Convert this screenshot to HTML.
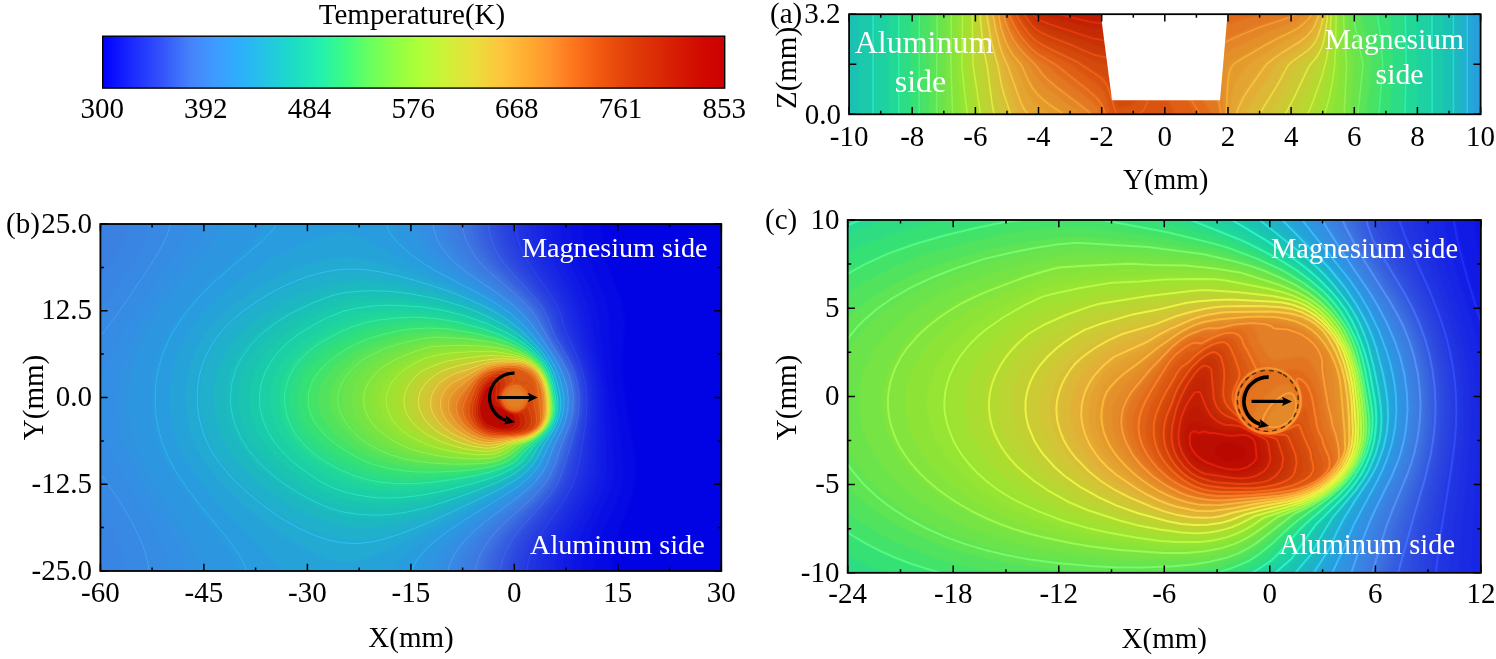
<!DOCTYPE html>
<html><head><meta charset="utf-8"><title>Temperature field</title>
<style>html,body{margin:0;padding:0;background:#fff}svg{display:block}svg text{font-family:"Liberation Serif",serif}</style></head>
<body>
<svg width="1496" height="659" viewBox="0 0 1496 659">
<defs><filter id="bl" x="-5%" y="-5%" width="110%" height="110%" color-interpolation-filters="sRGB"><feGaussianBlur stdDeviation="1.1"/></filter>
<linearGradient id="cb" x1="0" x2="1" y1="0" y2="0"><stop offset="0.0000" stop-color="#0000ff"/><stop offset="0.0435" stop-color="#1928ff"/><stop offset="0.0918" stop-color="#3250fa"/><stop offset="0.1401" stop-color="#4682fa"/><stop offset="0.1804" stop-color="#3e9bff"/><stop offset="0.2206" stop-color="#2daffa"/><stop offset="0.2528" stop-color="#26c0eb"/><stop offset="0.3011" stop-color="#1cdac8"/><stop offset="0.3494" stop-color="#23f0af"/><stop offset="0.3897" stop-color="#3cfc82"/><stop offset="0.4300" stop-color="#69ff5f"/><stop offset="0.4783" stop-color="#96ff41"/><stop offset="0.5105" stop-color="#afff37"/><stop offset="0.5507" stop-color="#cdf237"/><stop offset="0.5990" stop-color="#ebde3c"/><stop offset="0.6441" stop-color="#ffc33c"/><stop offset="0.6876" stop-color="#ffaa30"/><stop offset="0.7198" stop-color="#ff942d"/><stop offset="0.7601" stop-color="#fd731c"/><stop offset="0.8003" stop-color="#f0580f"/><stop offset="0.8486" stop-color="#e13e08"/><stop offset="0.8969" stop-color="#da2805"/><stop offset="0.9614" stop-color="#d00a00"/><stop offset="1.0000" stop-color="#cd0000"/></linearGradient></defs>
<rect width="1496" height="659" fill="#fff"/>
<rect x="102.7" y="36.2" width="622" height="51.9" fill="url(#cb)" stroke="#000" stroke-width="1.4"/>
<text x="412" y="24.4" text-anchor="middle" font-size="29" fill="#000">Temperature(K)</text>
<text x="102.2" y="118.2" text-anchor="middle" font-size="29" fill="#000">300</text>
<text x="205.867" y="118.2" text-anchor="middle" font-size="29" fill="#000">392</text>
<text x="309.533" y="118.2" text-anchor="middle" font-size="29" fill="#000">484</text>
<text x="413.2" y="118.2" text-anchor="middle" font-size="29" fill="#000">576</text>
<text x="516.867" y="118.2" text-anchor="middle" font-size="29" fill="#000">668</text>
<text x="620.533" y="118.2" text-anchor="middle" font-size="29" fill="#000">761</text>
<text x="724.2" y="118.2" text-anchor="middle" font-size="29" fill="#000">853</text>
<clipPath id="bc"><rect x="100.4" y="224" width="620.9" height="347"/></clipPath>
<g clip-path="url(#bc)">
<g filter="url(#bl)">
<rect x="94.4" y="218" width="632.9" height="359" fill="#0203e4"/>
<path fill="#0509e4" d="M94.4,218 600.6,218 600.9,228 601.6,237 602.7,245 604.4,253.2 606.5,261 609.2,269 618,291 620.5,298 622.7,306 624,313 624.6,319 624.7,326 622.8,359 622.9,370 623.5,382 624.5,393 626.3,406 633.8,448 634.9,458 635.4,466 635.2,478 633.4,490 630.1,502 620.3,528 615.7,543 613.9,551 612.6,559 611.7,568 611.3,577 94.4,577Z"/>
<path fill="#090ee4" d="M94.4,218 582.7,218 583.1,228 583.9,236 585.3,244 587.2,252 592.3,267 604.7,297 607.1,305 608.6,312 609.7,322 610.1,346 611.1,360 616.4,409.1 621.9,451 623,466 622.6,478 621.8,484 620.4,490 616.7,501 605.1,527 602,535 599.4,542.7 597.1,551 595.4,559.5 594.3,568 593.6,577 94.4,577Z"/>
<path fill="#0c14e4" d="M94.4,218 569.8,218 570.3,227 571.1,235 572.4,242.2 574.4,250.1 579.4,264.2 593.2,296 596.2,305 598,313 599.1,321 601.7,347 606.1,375 608,390 613.1,450 613.9,462 613.9,469 613.5,476 612.7,482 611,489 607,500 593.4,527.9 587.4,543 584.6,552 582.8,560 581.6,568 580.8,577 94.4,577Z"/>
<path fill="#101ae4" d="M94.4,218 559.4,218 560,227 560.9,235 562.4,242.6 564.5,250 569.8,264 580.7,287 584.2,295 587.7,305 590.2,315 595,344 601.1,374 603.1,388 604.6,406 606.6,456 606.7,465 606.3,473 605.3,480 603.6,487 601.6,493 599.1,499 584.2,528 580.5,536 577.3,544 574.7,552 572.7,560 571.3,568 570.5,577 94.4,577Z"/>
<path fill="#141fe4" d="M94.4,218 550.6,218 551.3,228 552.4,236 554.2,244 556.3,251 561.7,264 576.6,294 579.8,302 582.9,312 589.4,341.6 595.2,365 597.5,376 599.7,391 600.6,406 600.8,461 600.1,472 598.5,481 596.2,489 592.9,497 588.9,505 575.4,529.8 571.5,538 568.6,545 565.8,553 563.8,561 562.4,569 561.7,577 94.4,577Z"/>
<path fill="#1725e4" d="M94.4,218 542.8,218 543.4,227 544.5,235 546.3,243 548.5,250 551.3,257 554.5,264 567,287 571,295 574.7,304 577.9,314 584.6,340 591.7,365 593.8,374 596.2,388 597.3,403 597.3,417 595.8,460 594.8,471 593.1,480 590.6,488 586.8,497 582,506 568.3,530 564.2,538 561.1,545 558.2,553 556,561 554.6,569 553.9,577 94.4,577Z"/>
<path fill="#1a2ae3" d="M94.4,218 535.7,218 536.5,228 537.7,236 539.4,243.2 542,251 545.1,258 548.6,265 565.2,294 568.9,302 571.5,309 590,370 591.8,378 593,385 594,393 594.4,401 594.2,417 591.6,458 590.3,470 588.1,480 585,489 580.8,498 575.8,507 561.3,531 557.6,538 554.3,545 551.3,553 549.3,560 547.7,568 546.8,577 94.4,577Z"/>
<path fill="#1e2fe2" d="M94.4,218 529.2,218 529.9,228 531.2,236 533.2,244 536.2,252 539.4,259 543.2,266 556.2,287 560.9,295 564.8,303 567.5,310 574.7,333 583.7,358 587.1,369 589.1,377 590.6,385 591.5,393 592,400 592,409 591.5,418 587.8,458 586.1,470 583.9,479 580.7,488 575.9,498 570.6,507 555.4,531 551.5,538 548.1,545 544.9,553 542.8,560 541.2,568 540.2,577 94.4,577Z"/>
<path fill="#2134e2" d="M94.4,218 523.1,218 523.8,228 525.1,236 527.3,244 530.3,252 533.7,259 537.7,266 552.1,288 557,296 561.1,304 564.1,311 569.7,329 580.7,357 585.1,370 587.1,378 588.4,385 589.3,392 589.8,400 589.5,413 588.1,428 583.5,464 582.1,471 580.2,478 576,489 571.4,498 565.8,507 550.5,530 545.8,538 542.2,545 539.3,552 536.7,560 535.1,568 534.1,577 94.4,577Z"/>
<path fill="#2439e1" d="M94.4,218 517.3,218 518,228 519.6,237 521.9,245 525.2,253 528.8,260 533.1,267 547.7,288 552.9,296 557.9,305 561.4,313 562.8,317 564.4,324 565.8,328 577.9,356 582.6,369 584.8,377 586.3,384 587.2,391 587.8,399 587.5,412 586,426 580.3,463 578.6,471 576.9,477 572.5,488 567.8,497 562.1,506 544.6,531 540.3,538 536.6,545 533.4,552.5 531,560 529.3,568 528.3,577 94.4,577Z"/>
<path fill="#273fe0" d="M94.4,218 511.7,218 512.5,228 514.1,237 516.5,245 519.9,253 523.6,260 528.1,267 544.4,289.2 549.7,297 554.9,306 558.6,314 560,318 562.5,328 566.4,337 575.6,356 578.5,363 581,370 583,377 584.6,385 585.5,392 586,399 585.7,412 584,426 577.4,462 575.6,470 573.9,476 569.4,487 563.9,497 557.9,506 540.3,530 535.1,538 531.3,545 528.2,552 525.5,560 523.8,568 522.8,577 94.4,577Z"/>
<path fill="#2a44e0" d="M94.4,218 506.3,218 507.1,228 508.8,237 511.6,246 515.3,254 519.3,261 524,268 540.4,289.1 546.1,297 551.1,305 555.2,313 557.1,318 560.4,330 564.4,338.5 574,357 578.8,369 581,376 582.8,384 583.9,392 584.3,399 584,412 581.9,427 574.3,463 572.2,471 570,478 565.6,488 560.3,497 553.9,506 535.5,530 530.8,537 526.7,544 523,552 520.3,560 518.5,568 517.5,577 94.4,577Z"/>
<path fill="#2d49df" d="M94.4,218 501.1,218 501.9,228 503.6,237 506.6,246 510.3,254 514.5,261 519.4,268 537.4,290.2 543.3,298 548.6,306 552.3,313 554.7,319 558.4,331.5 562.4,339.6 572,357 577.1,369 579.6,377 581.2,384 582.2,391 582.8,399 582.8,406 582.3,413 579.9,428 571.9,462 569.3,471 566.3,480 561.9,489 556.4,497.6 550.4,505.6 531.6,529 526.6,536 522.4,543 518.4,551 515.5,559 513.4,568 512.3,577 94.4,577Z"/>
<path fill="#3050df" d="M94.4,218 495.9,218 496.9,229 498.8,238 502,247 506,255 510.4,262 515.6,269 534.4,290.9 540.4,298.5 546.4,307.3 550.1,314 552.5,320 556.7,333 560.3,340 570.4,357.6 573.5,364 575.9,370 578.1,377 579.7,384 580.9,392 581.4,399 581.3,406 580.8,413 579.8,420 578.2,428 569.9,460 563.5,480 559.4,488 553.5,497 547.4,504.8 527.9,528 522,536 517.6,543 513.5,551 510.5,559 508.4,568 507.3,577 94.4,577Z"/>
<path fill="#3356df" d="M94.4,218 490.9,218 491.9,229 493.9,238 497.1,247 501.3,255 505.8,262 511.2,269 531.4,291.5 537.6,299 544.1,308 548,315 550.1,320 555.4,334.8 568.9,358 574,369 576.4,376 578.1,383 579.4,391 580,399 579.9,406 579.4,413 578.3,420 576.8,427 567.9,459 562.7,475 560.8,480 556.5,488 550.4,496.8 543.4,505.3 524.3,527 518.2,535 513.5,542 508.7,551 505.7,559 503.5,568 502.4,577 94.4,577Z"/>
<path fill="#355ddf" d="M94.4,218 485.9,218 486.9,229 488.9,238 492.3,247 496.6,255 501.3,262 507.8,270 528.4,292 535.4,300 541.4,308 545.5,315 548.2,321 554,336 567.2,358 570.3,364 572.9,370 575.3,377 577,384 578.2,391 578.7,399 578.7,405 578.2,412 577.1,419 575.6,426 567.7,453 560.7,474 558.7,479 554.4,487 547.9,496 541.4,503.7 520.1,527 513.7,535 509,542 504.5,550 500.9,559 498.7,568 497.5,577 94.4,577Z"/>
<path fill="#3863df" d="M94.4,218 480.9,218 482,229 484,238 487.5,247 492.6,256 497.6,263 503.5,270 525.4,292.3 532.4,300 538.7,308 543.7,316 546.4,321.7 552.8,337 566.1,359 568.8,364 571.5,370 574,377 575.8,384 576.9,391 577.5,399 577.5,405 576.9,412 575.8,419 574.1,426 564.8,456 558.8,473 556.3,479 551.7,487 545.4,495.4 538.4,503.4 516.8,526 510.1,534 504.5,542 499.4,551 496.2,559 493.9,568 492.7,577 94.4,577Z"/>
<path fill="#3a69df" d="M94.4,218 475.9,218 477,229 479.2,238 482.7,247 487.9,256 493.1,263 500.2,271 522.4,292.6 530.4,301 536.9,309 542,317 551.8,338 565.2,360 570.2,370 572.8,377 574.6,384 575.8,391 576.4,398 576.3,405 575.9,411 574.7,418 573,425 565.2,448 562.2,458 556.7,473 554.5,478 549.8,486 543.4,494.4 536.4,502 512.7,526 505.8,534 500.7,541 495.3,550 491.9,558 489.3,567 487.9,577 94.4,577Z"/>
<path fill="#3d70df" d="M94.4,218 470.9,218 472.1,229 474.2,238 477.9,247 483.3,256 488.7,263 496,271 519.4,292.8 528.4,301.9 535.1,310 539.8,317 550.8,339 563.8,360 568.9,370 571.2,376 573.2,383 574.7,391 575.3,398 575.2,405 574.7,411 573.7,417 572,424 569.7,431 563.3,448 559.8,460 555.5,471 552.8,477 548,485 541.4,493.5 533.4,501.9 509.6,525 502.4,533 496.3,541 490.8,550 487.2,558 484.6,567 483.1,577 94.4,577Z"/>
<path fill="#3e75e0" d="M94.4,218 465.9,218 467,229 469.3,238 473.1,247 478.6,256 484.2,263 491.8,271 517.4,293.9 526.4,302.7 532.7,310 538.4,318.2 550,340 563,361 567.7,370 570.4,377 572.4,384 573.6,391 574.2,398 574.2,404 573.6,411 572.6,417 571.1,423 568.7,430 561.6,448 557.2,462 553.6,471 550.7,477 545.4,485.4 538.4,493.7 531.4,500.8 513.8,517 505.6,525 498.2,533 491.9,541 486.2,550 482.5,558 479.8,567 478.3,577 94.4,577Z"/>
<path fill="#3d79e0" d="M94.4,218 460.7,218 461.8,228 463.9,237 467.2,245 471.8,253 477.9,261 485.5,269 494.2,277 518.4,297.7 525.9,305 532,312 537.5,320 549.4,341.3 562.9,363 566.5,370 569.3,377 571.7,386 573.1,396 573.1,406 571.7,416 568.9,426 560.3,447 554.9,464 551.8,471 548.7,477 543.3,485 536.4,493 528.4,500.7 511.1,516 502.6,524 494.9,532 488.2,540 482.2,549 477.8,558 475,567 473.5,577 94.4,577Z"/>
<path fill="#3c7de1" d="M94.4,218 455.5,218 456.6,228 458.8,237 460.7,242 462.6,246 467.6,254 473.3,261 481.1,269 490.2,277 516.4,298.5 523.4,305.1 529.7,312 536.4,321.3 548.5,342 561.1,362 564.8,369 567.8,376 570.6,386 572,396 572.1,406 570.9,415 568.1,425 558.4,448 553.3,464 548.4,474.1 542.4,483.3 534.7,492 526.4,499.8 499.7,523 490.6,532 483.8,540 477.5,549 473,558 470.1,567 468.5,577 94.4,577Z"/>
<path fill="#3a81e2" d="M101.3,218 450.2,218 451.2,228 453.5,237 455.5,242 457.5,246 462.7,254 468.5,261 476.6,269 486.1,277 506.4,292.7 514.4,299.3 521.8,306 528.3,313 535,322 547.9,343 558.7,360 563.2,368 566.3,375 569.1,384 570.8,394 571.2,404 570,414 568.6,420 566.6,426 557.4,446.8 551.3,465 547.2,473 541.2,482 533.1,491 524.4,498.9 504.9,515 495.7,523 486.4,532 479.3,540 472.8,549 468.1,558 465.1,567 463.5,577 94.4,577 94.4,227.9 100.4,228 101.4,224Z"/>
<path fill="#3985e3" d="M128.9,218 444.6,218 445.7,228 448,237 450.1,242 452.2,246 457.6,254 463.6,261 472.1,269 481.9,277 511.4,299.2 519.4,306.2 526.4,313.3 530.4,318.2 534.4,323.8 555.8,357 561,366 565.2,375 568.3,385 569.9,395 570.2,405 568.8,415 567.3,421 565.4,426.2 557.2,444 553.4,453.9 549.3,466 545.4,473.1 539.1,482 535.4,486.2 530.4,491.2 522.4,498.1 501.2,515 491.7,523 482.1,532 474.7,540 468,549 463.1,558 461.5,562 460,567 458.3,577 94.4,577 94.4,276.3 100.4,276.6 104.4,272.3 108.7,267 112.4,261.9 116.8,255 122.1,245 126.5,234 129,224Z"/>
<path fill="#3889e3" d="M150.2,218 438.8,218 439.3,224 440.1,229 441.3,234 443.2,239 445,243 447.9,248 450.7,252 454.8,257 461.7,264 471.1,272 480.4,279 502.4,294.6 512.4,302.4 520.4,309.5 527.4,316.9 531.4,322 538.4,332.1 554.8,357 560,366 564.1,375 565.9,380 567.5,386 568.6,392 569.1,397 569.3,403 569,408 568.1,414 566.9,419 563.4,428.5 555.1,446 547.3,467 545,471 541.4,476.5 535.4,483.8 527.4,491.6 519.4,498.2 498.7,514 488.8,522 478.7,531 470.1,540 463.1,549 460,554 457.9,558 456.3,562 454.7,567 453.7,571 452.9,577 125.3,577 125.2,568 124.4,562 123.3,557 120.4,547 115.8,536 112.4,529.5 108.4,522.8 104.4,517 100.4,512 94.4,512.4 94.4,305.4 100.4,305.8 105.4,301 110.7,295 117.4,286.5 124.4,276.8 130.2,268 139.6,252 143.1,245 146.2,238 148.6,231 150.4,224Z"/>
<path fill="#368ce3" d="M169.6,218 432.7,218 433.2,224 434,229 435,233 436.8,238 439.2,243 442.2,248 446,253 449.4,257 456.6,264 466.4,272 476.1,279 500.4,295.5 511.4,303.8 521.4,312.7 525.5,317 529.6,322 539.4,335.5 553.8,357 560,368 563.8,377 565.5,382 567,388 567.9,394 568.3,399 568.3,405 567.8,410 567,415 565.3,421 562.1,429 553.9,446 546.1,466 544.1,470 539.9,476 533.4,483.6 525.4,491.1 517.4,497.5 496.3,513 484.7,522 474.3,531 465.3,540 458,549 454.7,554 452.6,558 450.8,562 449.1,567 448.2,571 447.4,577 147.9,577 148.1,571 147.6,566 146.2,559 144.6,553 141.8,545 138.9,538 131.4,522.6 124.4,510.3 118.1,500 111.4,490.1 105.4,482 100.4,476.1 94.4,476.7 94.4,333.8 100.4,334.4 105.4,328.7 112.4,319.8 121.4,307.3 146.2,271 157.9,252 161.7,245 165.1,238 167.8,231 169.8,224Z"/>
<path fill="#338fe3" d="M188.4,218 426.2,218 426.6,224 427.4,229 428.8,234 430.4,238 433,243 435.5,247 439.3,252 442.8,256 450.1,263 460.1,271 470.2,278 498.4,296.4 507.4,302.8 513.4,307.6 519.5,313 525.4,319.1 538.5,336 551.6,355 555.9,362 561.3,373 563.2,378 565.1,384 566.3,389 567.1,395 567.4,405 566.9,410 566,415 564.7,420 562.9,425 552.7,446 544.6,466 542.5,470 538.4,475.6 531.4,483.4 523.4,490.6 515.4,496.7 492.5,513 480.6,522 469.7,531 460.3,540 452.7,549 449.9,553 447,558 445.1,562 443.4,567 442.4,571 441.5,577 167.9,577 168.1,571 167.9,569 166.9,563 165.3,557 160.9,545 154.3,531 145.4,514.9 127.3,484 118.3,468 108.8,450 100.4,432.4 94.4,433.7 94.4,374 100.4,375.3 108,359 114,347 120.5,335 128.7,321 141.5,301 168.4,262 178.1,247 183.2,238 187.1,229 188.7,224Z"/>
<path fill="#3192e2" d="M207,218 419,218 419.4,224 420.1,228 421.5,233 423.1,237 425.1,241 428.3,246 431.3,250 435.8,255 443.2,262 453.6,270 464,277 498.4,298.5 507.4,304.9 515.4,311.3 523.4,319 532.4,329.7 538.7,338 552,357 556.1,364 559.1,370 561.6,376 563.6,382 565.3,389 566.3,395 566.6,401 566.4,407 565.2,415 562.4,424 559.2,431 551.6,446 546,460 543.2,466 540.2,471 535.5,477 530.4,482.3 524.4,487.7 514.4,495.4 488.7,513 476.3,522 463.8,532 454.2,541 446.3,550 442.8,555 440.5,559 438.7,563 436.9,568 436,572 435.3,577 186.7,577 186.9,571 185.7,564 182.9,555 178.6,545 169.4,528 148.8,494 140.1,479 132.4,464 126.4,450 121.7,436 118.8,423 117.2,410 117,403 117.2,396 118.9,382 120.2,375 122.5,366 127.7,351 134.9,335 143.8,319 154.4,302.5 166.4,285.6 191.7,252 199.9,240 203.9,233 206.8,226 207.4,224Z"/>
<path fill="#2d96e1" d="M221.9,218 412.7,218 413.6,227 414.6,231 416.5,236 418.6,240 421.8,245 425.8,250 429.5,254 438.4,262 449.2,270 460,277 496.4,298.9 506.4,305.8 515.4,312.9 523.4,320.7 533.4,332.3 547.9,352 553.7,361 556.9,367 559.7,373 561.9,379 563.7,385 565,391 565.8,397 566,403 565.5,409 564,417 561.2,425 558.4,431.2 550.8,446 545,460 541.4,467 538.2,472 534,477 528.4,482.6 522.4,487.7 512.4,495.1 487,512 472.8,522 459.9,532 449.8,541 441.6,550 437.9,555 435.5,559 433.1,564 431.7,568 430.9,571 430,577 201.2,577 201.6,571 200.4,565 197.8,557 193.7,548 189.4,540 184,531 161.4,496.1 152.8,482 144.8,467 138.5,453 133.8,439 132,432 130.4,424 128.9,410 128.7,402 128.9,394 129.5,386 130.6,378 132.2,370 134,363 136.5,355 139.5,347 143,339 146.9,331 156.4,314.8 168.4,297.4 182.7,279 206.8,250 215,239 219.6,231 222.4,224Z"/>
<path fill="#289cdf" d="M264.1,218 392.5,218 392.5,224 393.1,227 394.5,231 397.2,236 400.9,241 405.4,246 410.6,251 416.5,256 427.5,264 438.6,271 449.2,277 480.4,293.6 496.4,302.9 508.4,311.1 518.4,319.5 525.4,326.6 531.4,333.2 546.2,352 552.6,362 558,373 561.8,384 563.8,394 564.2,399 564.3,404 563.9,409 563.1,414 561.1,421 558.2,428 548.7,446 542,461 537.1,469 534.1,473 529.4,477.8 523.4,483.1 517.4,487.7 507.4,494.5 478.9,512 463.4,522 447.8,533 436.6,542 427.4,551 423.2,556 420.4,560 418.1,564 416.1,569 415.5,571 414.7,577 237.7,577 238.3,571 237.3,567 234.4,560 230,552 220.3,538 192.1,502 180.4,486 175.1,478 170.3,470 166,462 161.8,453 157,440 153.7,427 151.6,413 151,399 151.8,385 153.9,371 157.3,358 162.2,345 168,333 175.2,321 183.1,310 192.4,298.7 200.4,289.9 210.4,279.8 247.6,246 253.7,240 259.1,234 262.6,229 265.1,224Z"/>
<path fill="#25a3d9" d="M334.1,233 341.4,232.4 348.4,233.3 355.4,235.3 364.4,239.1 376.4,245.2 406.8,262 420,269 432.3,275 465.4,290.3 481.4,298.3 494.4,305.5 505.4,312.6 515.4,320.4 526.4,330.8 531.4,336.1 539.4,345.5 546,354 551.1,362 556.1,372 559.6,382 562,392 562.9,400 562.8,407 561.7,414 559.6,421 556.1,429 545.6,448 542.6,455 540.4,459.4 536.3,466 531.4,472.2 527.4,476.2 522.4,480.4 511.4,488.3 501.4,494.3 471.9,511 449.8,524 432.3,535 418,545 411.6,550 406,555 402.1,559 398.7,563 396.1,567 394.3,571 393.9,577 279.1,577 280.3,571 277.8,566 272.7,559 264.5,550 234.4,520.1 217.4,502.4 204,487 193.4,473 185.3,460 179,447 174.4,434 172.5,427 171.1,420 169.6,406 169.4,399 169.6,391 171.2,377 172.5,370 174.3,363 179,350 184.8,338 192.4,325.9 201.4,314.5 207.4,307.9 213.4,302 227.4,289.7 244.4,276.7 262.4,264.7 280.4,254.4 297.4,246.2 320.4,236.9 327.4,234.5Z"/>
<path fill="#23aad3" d="M340.1,258 352.4,258 364.4,259.4 378.4,262.5 393.4,267.2 435.4,282.5 460.4,292.5 473.4,298.3 484.4,303.6 493.4,308.5 501.4,313.4 513.4,322 525.4,332.6 538.4,346.4 546.4,356.7 549.7,362 552.9,368 556.7,377 558.8,384 560.1,390 561.2,396 561.7,402 561.4,409 560.1,416 558.2,422 554.8,429 544.6,446 540,456 535.8,463 532.4,467.5 528.4,471.9 525.1,475 520.4,478.7 510.4,485.5 496.4,493.5 417.4,534.2 390.4,547.8 376.4,554.3 366.4,558.2 357.4,560.8 352.4,561.6 348.4,561.9 343.4,561.8 338.4,561.1 332.4,559.7 326.4,557.7 318.4,554.5 310.4,550.8 293.4,541.7 278.4,532.2 262.4,520.4 245.4,506.2 230.4,492.2 219.7,481 210.7,470 203.1,459 197,448 192.3,437 188.7,425 186.5,413 185.7,401 185.9,389 187.6,376 190.6,364 194.7,353 200.3,342 206.8,332 214.4,322.8 224.1,313 236.4,302.6 251.4,291.9 266.4,282.7 282.4,274.3 297.4,268 312.4,263 326.4,259.7 333.4,258.6Z"/>
<path fill="#20b0cb" d="M344.1,272 355.4,271.6 366.4,272.2 378.4,273.7 393.4,276.5 410.4,280.5 427.4,285.3 443.4,290.4 458.4,295.9 471.4,301.2 484.4,307.2 494.4,312.5 503.4,317.9 512.4,324.3 521.4,331.5 527.4,337.1 537.4,347.2 542.4,353.2 547.2,360 551.7,368 554.7,375 557.7,385 559.6,394 560.5,402 560.4,409 559.6,414 558.3,419 556.4,424 553.8,429 543.3,445 536.1,459 531.4,465.3 525.4,471.6 520,476 513.4,480.5 506.4,484.7 497.4,489.5 450.4,511.5 424.4,522.8 404.4,530.4 386.4,535.9 378.4,537.8 370.4,539.2 363.4,539.9 356.4,540.2 349.4,540 342.4,539.3 335.4,538.1 328.4,536.4 321.4,534.3 313.4,531.4 304.4,527.5 296.4,523.5 287.4,518.4 279.4,513.4 262.4,501.3 246.4,488 238.9,481 232.2,474 226.1,467 220.7,460 216.1,453 211.6,445 208.3,438 205.3,430 203,422 201.4,414 200.5,406 200.2,397 200.6,389 201.7,380 203.4,372 205.9,364 209.1,356 212.7,349 217,342 222.2,335 228.4,328 234.4,322 241.4,315.9 249.4,309.7 258.4,303.5 267.4,297.9 277.4,292.4 287.4,287.5 297.4,283.3 307.4,279.6 317.4,276.6 326.4,274.5 335.4,272.9Z"/>
<path fill="#1db7c2" d="M344.6,282 355.4,281.3 367.4,281.2 379.4,282 393.4,283.6 407.4,286 423.4,289.4 438.4,293.4 451.4,297.4 465.4,302.5 479.4,308.2 490.4,313.6 499.4,318.5 508.4,324.2 517.4,330.8 524.4,336.6 534.4,345.9 539.4,351.3 544.5,358 549.6,366 552.8,373 555.7,382 558.2,393 559.3,401 559.4,408 558.9,413 557.7,418 555.9,423 553.5,428 549.7,434 542.1,444 533.9,459 530.4,463.4 526.4,467.7 521.4,472 515.4,476.4 508.4,480.6 499.4,485.4 474.4,496.4 436.4,511.9 417.4,518.4 398.4,523.5 390.4,525.1 381.4,526.5 373.4,527.3 366.4,527.5 359.4,527.5 352.4,527 345.4,526.1 337.4,524.5 329.4,522.4 321.4,519.8 306.4,513.6 298.4,509.6 290.4,505.1 274.4,494.7 259.4,483.1 252.5,477 246.3,471 240.4,464.6 235,458 230.1,451 225.8,444 222.2,437 219.3,430 216.8,422 215.2,415 214,407 213.6,399 213.8,392 214.6,384 216,377 217.9,370 220.5,363 223.9,356 228,349 232.2,343 237.1,337 242.8,331 249.3,325 255.5,320 263.4,314.2 271.4,309 279.4,304.4 287.4,300.3 296.4,296.1 305.4,292.5 317.4,288.3 327.4,285.3 335.4,283.4Z"/>
<path fill="#1bbeb9" d="M353.3,289 364.4,288.4 376.4,288.5 389.4,289.3 401.4,290.6 415.4,292.7 429.4,295.5 441.4,298.5 455.4,302.7 467.4,306.8 478.4,311.1 490.4,316.7 500.4,322 509.4,327.6 518.4,333.9 527.4,341.2 534.8,348 541,355 546.1,362 549,367 551.8,373 554.6,382 557.1,393 558.3,401 558.4,409 557.8,414 556.6,419 554.7,424 552.7,428 548,435 540.3,444 531.6,459 526.4,464.9 520.4,470.1 514.4,474.4 507.4,478.4 499.4,482.4 480.4,490.4 444.4,503.7 424.4,510.1 406.4,514.6 397.4,516.2 389.4,517.2 381.4,517.9 373.4,518.1 358.4,517.4 343.4,515.2 336.4,513.5 330.4,511.7 316.4,506.2 300.4,498.3 292.4,493.7 284.4,488.5 276.4,482.8 269.4,477.3 263.3,472 257,466 251.4,460 245.7,453 241.5,447 237.8,441 234.2,434 231.3,427 229.1,420 227.4,413 226.5,406 226.1,399 226.3,392 227.1,385 228.6,378 230.4,372 232.7,366 236.1,359 239.7,353 244.4,346.4 249,341 254.7,335 260.3,330 266.5,325 273.4,320 281.4,314.9 289.4,310.4 297.4,306.5 311.4,300.2 323.4,295.5 331.4,292.9 338.4,291.1 345.4,289.8Z"/>
<path fill="#1ac4b1" d="M363.6,295 376.4,294.6 388.4,294.9 400.4,295.8 414.4,297.4 425.4,299.1 436.4,301.3 448.4,304.3 461.4,308.2 472.4,312 483.4,316.5 494.4,321.6 502.4,325.9 511.4,331.3 518.4,336.1 528.4,343.8 535.4,350.3 541.4,357.1 545,362 548.6,368 551.2,374 554.7,386 556.7,396 557.6,404 557.5,410 556.8,415 555.8,419 553.9,424 551.2,429 546.4,435.8 537.3,446 528.5,460 525.4,463.3 520.4,467.6 514.4,471.8 507.4,475.8 499.4,479.7 481.4,486.8 450.4,497.2 428.4,503.6 410.4,507.6 393.4,509.9 384.4,510.5 376.4,510.6 362.4,509.8 347.4,507.6 335.4,504.6 324.4,500.3 316.4,496.4 307.4,491.5 290.4,481 283.4,476 277.1,471 271.4,465.9 265.4,460 260,454 255.3,448 251.3,442 247.8,436 244.4,429 242.1,423 240.3,417 238.8,410 238,403 237.9,397 238.2,391 239.3,384 241.1,377 243.2,371 245.9,365 249.2,359 253.1,353 257,348 262.3,342 267.5,337 273.3,332 279.4,327.4 286.4,322.7 293.4,318.5 314.4,307.8 324.4,303.4 331.4,300.7 338.4,298.6 345.4,297 354.4,295.8Z"/>
<path fill="#1bcaaa" d="M365.9,301 376.4,300.4 388.4,300.2 401.4,300.9 415.4,302.1 426.4,303.5 435.4,305.1 447.4,307.8 460.4,311.4 469.4,314.2 481.4,318.7 493.4,323.9 502.4,328.4 511.4,333.5 520.4,339.5 528.4,345.4 534.4,350.8 540.4,357.3 544,362 547.6,368 550.3,374 552.9,382 555.6,394 556.8,403 556.7,410 556,415 554.7,420 552.6,425 550.4,429 545.4,435.8 534.8,447 525.2,461 521.4,464.4 516.4,468.1 511.4,471.2 504.4,474.9 496.4,478.4 488.4,481.4 469.4,487.5 440.4,495.7 419.4,500.4 409.4,502 400.4,503.1 391.4,503.8 382.4,503.9 367.4,503.1 352.4,500.9 340.4,498.1 328.4,493.7 321.4,490.2 314.4,486.2 297.4,475.3 286.4,467 276.6,458 271.4,452.4 266.4,446.3 262.7,441 259.1,435 256.1,429 253.6,423 251.7,417 250.3,411 249.5,405 249.2,399 249.4,393 250.2,387 251.5,381 253.4,375 255.9,369 259,363 262.9,357 266.6,352 270.9,347 275.9,342 281.6,337 287.4,332.5 293.4,328.4 300.4,324.1 321.4,312.8 328.4,309.6 335.4,306.9 341.5,305 348.4,303.4 356.4,302.1Z"/>
<path fill="#1dd0a4" d="M376,306 385.4,305.5 398.4,305.6 412.4,306.3 424.4,307.4 432.4,308.5 443.4,310.6 464.4,315.8 476.4,319.8 489.4,324.8 499.4,329.2 508.4,333.8 517.4,339.2 526.4,345.4 532.4,350.4 538.4,356.3 543,362 546.2,367 549,373 551.6,380 553.7,388 555.7,399 556.2,405 555.8,412 554.8,417 553.6,421 551.8,425 548.9,430 543.4,436.9 532.2,448 524.4,458.8 521.6,462 517.4,465.2 512.4,468.4 506.4,471.6 500.4,474.3 485.4,479.7 465.4,485.3 438.4,491.8 419.4,495.3 400.4,497.4 390.4,497.8 383.4,497.7 369.4,496.6 355.4,494.3 342.4,490.9 331.4,486.8 321.4,481.7 304.4,470.4 293.4,461.9 283.4,452.4 278.7,447 274.8,442 270.9,436 268.1,431 265.3,425 263.4,420 261.7,414 260.6,408 260,402 260,396 260.4,391 261.5,385 263.1,379 265.3,373 267.7,368 270.5,363 274.7,357 279.4,351.2 284.5,346 290.1,341 296.4,336.1 302.5,332 320.4,321.5 334.1,315 345.4,311 359.4,308Z"/>
<path fill="#1fd59d" d="M382.9,311 403.4,310.5 424.4,311.4 441.4,313.9 460.4,317.9 483.4,325.1 499.4,331.5 512.4,338 520.4,342.8 526.4,346.9 531.4,350.9 536.4,355.5 539.7,359 542.8,363 545.9,368 548.7,374 550.7,379 552.1,384 555.2,400 555.6,405 555.4,410 554.9,414 552.8,421 550.6,426 547.4,431 542.4,436.9 529.6,449 523.4,457 519,462 513.4,465.7 507.4,469 495.4,473.9 486.4,476.8 477.4,479.2 452.4,484.9 428.4,489.2 410.4,491.3 393.4,492 380.4,491.5 365.4,489.4 350.4,485.8 344.4,483.8 337.4,481.1 331.4,478.4 324.4,474.7 318.4,471 312.7,467 304.8,461 298.8,456 293.6,451 289,446 284.3,440 280.3,434 277,428 274.4,422 272.5,416 271.1,410 270.3,404 270.2,397 270.6,391 271.7,385 273.5,379 275.9,373 279,367 282.9,361 286.7,356 292.3,350 297.4,345.4 303,341 317.4,331.6 334.4,322.7 341.4,319.7 347.4,317.5 355.4,315.3 364.4,313.4 373.4,312Z"/>
<path fill="#26da90" d="M388.5,316 405.4,315.1 421.4,315.2 438.4,317 457.4,320.4 483.4,327.8 499.4,333.6 506.4,336.7 512.4,339.8 520.4,344.3 526.4,348.3 535.4,355.7 538.7,359 541.9,363 544.5,367 547.6,373 549.7,378 551.3,383 552.8,390 554.7,401 555.1,406 554.9,410 554.1,415 553,419 550.4,425 547.3,430 544.4,433.7 541.4,436.8 527.8,449 521.4,456.6 516.4,461.7 512.4,464.3 507.4,466.9 501.4,469.5 495.4,471.7 478.4,476.3 455.4,480.8 432.4,484.3 415.4,486 398.4,486.5 382.4,485.6 376.4,484.9 369.4,483.5 355.4,479.9 348.4,477.5 341.4,474.6 328.4,468.1 321.4,463.9 315.7,460 310.4,455.8 303.8,450 299.8,446 295.4,441 291.7,436 288,430 285.5,425 283.1,419 281.3,413 280.4,408 279.8,402 279.8,396 280.5,390 281.7,384 283.7,378 285.9,373 289.2,367 292.7,362 296.4,357.4 300.7,353 306.5,348 313.2,343 326.2,335 342.1,327 348.4,324.4 355.4,322.1 363.4,319.9 372.4,318 379.4,316.9Z"/>
<path fill="#2edd82" d="M402.1,320 417.4,319.2 436.4,320.5 453.4,322.8 473.4,327.6 481.4,329.7 490.4,332.5 505.3,338 519.4,345.2 524.4,348.2 530.4,352.5 537.4,358.8 540.4,362.3 543,366 546,371 548.4,376 550.2,381 551.7,387 554.3,403 554.5,408 554.2,412 553.1,417 551.7,421 549.2,426 546.4,430.2 541.4,435.8 526,449 519.4,456.2 515.4,460 511.4,463 505.4,465.9 499.4,468.3 493.4,470.2 476.4,474.2 458.4,477.1 433.4,480.1 417.4,481.3 400.4,481.2 385.8,480 372.4,477.7 358.4,473.6 344.8,468 337.4,464.3 330.4,460.4 324.4,456.7 318.4,452.4 313.4,448.3 308.8,444 304.3,439 300.4,434 297.1,429 294.5,424 292,418 290.5,413 289.5,408 288.9,402 289,396 289.5,391 290.8,385 292.4,380 294.5,375 297.3,370 300.4,365.5 304.4,360.7 309.1,356 314.4,351.5 320.7,347 327.4,342.7 342.4,334.6 348.4,331.9 355.8,329 363.4,326.5 371.4,324.3 385.4,321.8Z"/>
<path fill="#35e174" d="M414.4,323.6 426.4,323.6 445.4,324.9 451.4,325.7 478.4,331.4 496.4,336.5 507.4,340.7 515.4,344.5 521.4,347.7 531.4,354.4 535.4,357.8 538.4,361 541.4,364.8 544.8,370 547,374 548.6,378 551.3,388 553.8,403 554.1,408 553.8,412 552.7,417 550.9,422 548.7,426 545.9,430 542.4,433.9 539.4,436.7 525.3,448 514.4,458.5 509.8,462 505.4,464.1 499.4,466.4 493.4,468.2 478.4,471.4 462.4,473.7 438.4,475.9 419.4,476.7 404.4,476.3 388.4,474.6 373.4,471.5 361.4,467.5 349.4,462.2 334.7,454 323.4,446.2 318.5,442 314.4,438.1 310.8,434 307.4,429.5 304.6,425 302.1,420 300.2,415 298.9,410 297.9,404 297.7,399 298,394 298.9,389 300.3,384 301.8,380 304.3,375 307.4,370.2 310.8,366 314.6,362 319,358 324.4,353.7 331.3,349 338.4,344.7 352.4,337.5 365.4,332.5 376.4,329.4 392.4,326.2Z"/>
<path fill="#43e269" d="M431.4,327.6 446.4,328.3 474.4,333.1 488.4,336.3 498.4,339 512.4,344.5 522.4,349.5 531.4,355.4 535.4,358.9 538.4,362 542.4,367.2 544.9,371 548.1,378 551,389 553.4,404 553.6,408 553.3,412 552.3,417 550.9,421 548.9,425 546.2,429 542.4,433.3 538.4,436.8 525.9,446 512.4,457.9 506.2,462 496.4,465.5 486.4,467.8 470.4,470.1 454.4,471.5 431.4,472.5 414.4,472.2 398.4,470.7 383.4,467.8 369.4,463.7 357.4,458.5 345.4,451.6 338.4,447 331.4,441.9 322.5,434 318.9,430 315.9,426 313.3,422 310.8,417 309.3,413 307.9,408 307.3,404 307.1,399 307.5,394 308.2,390 309.8,385 311.4,381.2 313.7,377 316.5,373 320.7,368 324.4,364.3 334.4,356.1 345.4,348.9 352.4,344.9 358.5,342 370.4,337.4 385.4,333.2 405.4,329.2 410.4,328.4Z"/>
<path fill="#51e35e" d="M421.4,332 433.4,331.3 444.4,331.5 472.4,335.2 492.4,339.2 503.4,342.5 514.4,346.7 524.4,351.8 531.4,356.4 535.4,359.9 538.4,363 541.7,367 544.3,371 546.4,375 548,379 550.8,390 553,405 552.9,412 551.9,417 550.5,421 548.5,425 545.8,429 542.4,432.8 538.4,436.3 526.7,444 521.5,448 511.4,456.6 504.3,461 497.4,463.5 488.4,465.6 480.4,466.7 464.4,468.2 447.4,468.8 433.4,468.9 423.4,468.5 407.4,467.1 393.4,464.6 379.4,460.8 372.4,458.2 366.4,455.6 355.4,449.5 345.4,442.4 335.4,434 328.4,426.6 323.1,419 321,415 319.4,411 318.3,407 317.7,403 317.6,399 318,394 319,390 320.4,386 322.3,382 324.7,378 327.7,374 331.4,369.8 335.2,366 341,361 351.4,353.4 362.4,347.4 375.5,342 390.4,337.5 407.4,333.6Z"/>
<path fill="#5fe454" d="M432.6,335 441.4,334.7 468.4,337.3 492.4,341.1 504.4,344.4 514.3,348 525.4,353.5 530.4,356.7 533.4,359 537.4,362.8 540.4,366.2 542.5,369 544.9,373 547.1,378 548.7,383 551.1,394 552.7,407 552.6,411 552,415 550.9,419 549.2,423 546.8,427 544.4,430.2 540.6,434 536.4,437.3 531.4,440.5 524.9,444 510.4,455.5 506.4,458 502.4,460 495.4,462.3 487.4,463.9 479.4,464.9 466.4,465.7 450.4,466 428.4,465.1 413.4,463.6 399.7,461 386.4,457.2 373.6,452 362.7,446 353.2,439 344.9,431 337.5,422 334.9,418 332.7,414 331.1,410 330,406 329.3,399 329.7,395 330.6,391 333.4,384 335.7,380 338.4,376 345.3,368 349.4,364.1 353.1,361 362.4,354.8 374,349 387.3,344 403.4,339.3 419.4,336.4Z"/>
<path fill="#6be44c" d="M429.1,339 438.4,338.1 464.4,339.5 489.4,342.4 502.4,345.4 510.9,348 523.4,353.4 527.4,355.6 531.4,358.3 535.4,361.6 538.4,364.6 541.2,368 543.3,371 545.4,375 547,379 549.9,389 551.9,403 552.3,408 552.1,412 551.4,416 550.2,420 548.3,424 545.8,428 542.3,432 537.4,436.2 532.4,439.5 523,444 510.4,453.7 504.4,457.3 499.4,459.5 494.4,460.9 486.4,462.3 478.4,463.1 460.4,463.5 445.4,463 426.4,461.4 410.4,458.8 397.4,455.3 385.7,451 375.4,445.9 369.4,442.3 364.8,439 356.9,432 350.9,425 348.3,421 345.6,416 342.6,408 341.5,401 341.5,397 342.1,393 343.2,389 344.7,385 349.1,377 352,373 354.7,370 361.3,364 369.4,358.5 378.4,353.6 388.4,349.4 400.4,345.1 416.4,341.3Z"/>
<path fill="#76e444" d="M433,342 436.4,341.7 462.4,342 484.4,343.7 495.4,345.4 506.9,348 519.4,352.6 527.4,356.5 533.4,360.6 536.4,363.2 539.4,366.4 542.1,370 543.9,373 547.6,382 550.1,392 551.7,405 551.9,409 551.6,413 550.8,417 549.4,421 548,424 545.4,428 540.9,433 535.4,437.3 530.4,440.1 521.3,444 519.6,445 510.4,452 504.4,455.7 499.4,457.8 494.4,459.3 487.4,460.5 479.4,461.2 460.4,461.1 447.4,460.4 429.4,458.2 416.4,455.9 404.4,452.6 392.5,448 382.6,443 373.4,436.9 365.5,430 359.7,423 357.8,420 355.4,415.3 352.9,408 351.9,401 352.3,394 354.2,387 355.9,383 358.2,379 362.8,373 369.4,366.8 377.7,361 386.4,356.2 397.4,351.4 405.4,348.8 420.4,344.5Z"/>
<path fill="#82e43d" d="M459.4,344.6 481.4,345.5 500.4,347.9 505.4,349.1 521.4,354.5 527.4,357.3 534.4,362.1 537.5,365 540.9,369 542.8,372 544.9,376 548.2,385 549.4,390 550.4,396 551.5,408 550.9,415 549.9,419 548.2,423 545.8,427 543.4,430 539.4,433.9 534.4,437.5 528.4,440.7 517.7,445 508.4,451.8 502.4,455.1 497.4,457 491.4,458.3 484.4,459.2 476.4,459.5 457.4,458.7 445.4,457.5 428.4,454.6 416.4,451.8 405.4,448.1 396.3,444 386.4,438.3 378.1,432 372.4,426.4 367.5,420 363.9,413 361.8,406 361.3,399 362.2,392 364.7,385 366.3,382 369,378 374.4,372 381.7,366 389.5,361 398.4,356.6 415.4,350.2 427.4,346.7 432.4,345.6Z"/>
<path fill="#8de437" d="M447.2,348 457.4,347.3 478.4,347.4 490.4,348.2 499.4,349.2 512.4,352.5 521.4,355.4 528.4,358.6 534.4,362.7 537.4,365.6 540.4,369 544,375 545.8,379 547.6,384 549.8,394 551,406 550.7,414 549.8,418 548.3,422 546.1,426 543.9,429 539.4,433.5 533.4,437.8 527.4,440.8 516,445 507.4,450.9 502.4,453.6 497.4,455.5 492.4,456.7 486.4,457.4 479.4,457.7 468.4,457.4 448.4,455.3 437.4,453.3 423.4,449.9 413.4,446.6 404.4,442.6 396.4,438 388.2,432 382.4,426.7 377,420 373.1,413 371,406 370.4,399 371.5,392 373.7,386 377.3,380 382.5,374 389.5,368 396.4,363.5 405.4,358.9 418.4,353.4 429.4,349.8Z"/>
<path fill="#96e434" d="M476.4,349.6 495.4,350.2 512.4,353.7 521.4,356.2 527.4,358.8 533.4,362.6 538.4,367.3 541.2,371 543.5,375 545.5,379 547.3,384 548.6,389 549.5,394 550.3,401 550.7,408 550.2,415 549.2,419 548,422 544.3,428 539.6,433 535.4,436.2 531.4,438.5 525.4,441.2 514.2,445 505.4,450.6 498.4,453.7 493.4,455.1 488.4,455.8 480.4,456.1 473.4,455.9 464.4,455.1 444.4,452 433.4,449.3 420.4,445 411.3,441 402.6,436 395.4,430.4 389.1,424 384.6,418 381.6,412 379.8,406 379.3,399 379.5,396 380.4,392 382.8,386 386.6,380 392,374 398,369 405.8,364 416.4,358.6 426.4,354.4 437.4,352.3 453.4,350.3Z"/>
<path fill="#a0e231" d="M471.4,352 493.4,351.6 507.4,353.8 517.4,355.9 524.4,358.1 530.4,361.1 535.4,364.9 539.3,369 542,373 544.2,377 547.3,385 549.3,395 550.3,408 549.9,415 548.8,419 547.6,422 546,425 544,428 541.4,430.9 538.4,433.6 534.4,436.5 529.4,439.1 523.4,441.5 512.4,445 504.4,449.8 497.4,452.7 492.4,453.9 487.4,454.5 473.4,454.2 463.4,453 446.4,449.8 436.4,447.1 427.8,444 417.4,439.4 409.4,434.8 401.9,429 396.3,423 392.2,417 389.4,411 387.9,405 387.6,399 388.5,393 390.7,387 394.3,381 399.6,375 405.5,370 411.4,366 419.4,361.5 425.4,358.7 437.4,355.8 451.4,353.3Z"/>
<path fill="#a9de31" d="M476.1,354 488.4,353.2 492.4,353.3 509.4,355.3 519.4,357.2 525.4,359.1 530.4,361.7 535.4,365.5 539.5,370 541.6,373 544.3,378 546,382 547.5,387 548.5,392 549.4,399 549.9,406 549.9,411 549.5,415 548.8,418 546.3,424 542.4,429.4 537.4,434.1 533.4,436.7 528.4,439.2 522.4,441.4 510.5,445 503.4,449 497.4,451.4 492.4,452.6 487.4,453.1 482.4,453.1 474.4,452.6 463.4,451.1 449.4,448 440.4,445.4 432.4,442.5 421.3,437 414.7,433 408.4,428 402.7,422 398.8,416 396.2,410 394.9,404 394.9,398 396.1,392 398.6,386 402.7,380 407.4,375 413.4,370 421.4,364.8 425.4,363 432.4,360.7 440.4,358.5 449.4,356.5Z"/>
<path fill="#b2da31" d="M485.9,355 495.4,355.1 507.4,356.1 516.4,357.3 522.4,358.7 527.4,360.7 532.4,363.6 536.4,367.1 540.4,371.9 542.9,376 544.8,380 547.4,388 549,398 549.6,409 549,416 547,422 544,427 539.5,432 534.4,435.8 529.4,438.4 523.4,440.6 508.5,445 503.4,447.8 499.4,449.5 495.4,450.7 491.4,451.4 487.4,451.8 482.4,451.8 470.4,450.5 461.4,448.8 447.4,444.9 439.4,442.2 431.4,438.6 423.5,434 416.6,429 411.3,424 406.6,418 403.5,412 401.8,406 401.4,403 401.4,399 402.5,393 404.9,387 408.8,381 414.3,375 420.4,370.1 424.3,368 433.8,364 444.4,360.6 448.4,359.6 466.4,357.1Z"/>
<path fill="#bbd532" d="M483.3,357 490.4,356.5 502.4,356.8 512.4,357.6 520.4,358.9 525.4,360.4 530.4,362.8 534.4,365.7 538.5,370 540.7,373 543.1,377 546,384 547.8,392 549,403 549.1,412 548.1,418 545.6,424 542.1,429 539,432 535.4,434.8 531.4,437.1 526.4,439.2 508.4,444.3 506.4,445 501.4,447.5 496.4,449.2 490.4,450.3 484.4,450.6 478.4,450.1 464.4,447.6 456.4,445.5 446.3,442 439,439 432.4,435.5 426.4,431.6 420.7,427 415,421 411,415 408.6,409 407.5,403 407.8,397 409.3,391 412.2,385 416.7,379 418.4,377.2 421.2,375 427.6,371 435.4,367.1 444.4,363.6 464.4,359.7Z"/>
<path fill="#c3d033" d="M491.3,358 500.4,357.8 509.4,358.2 517.4,359 523.4,360.3 529.4,362.8 533.4,365.5 537.4,369.3 540.4,373.1 544.2,380 546.5,387 548.1,396 548.9,408 548.5,414 547.4,419.4 544.7,425 540.4,430.4 537.4,433 533.4,435.7 529.4,437.7 525.4,439.2 507.1,444 499.4,447.2 495.4,448.3 489.4,449.2 483.4,449.3 476.4,448.4 465.3,446 458.2,444 451.4,441.5 442.4,437.6 435.8,434 430,430 424.3,425 419.2,419 415.7,413 413.9,408 413.1,402 413.5,396 415.4,389.8 418.1,385 422.4,380.2 426.4,376.7 431.8,373 437.4,369.9 444.4,366.8 462.4,362.4 483.4,358.7Z"/>
<path fill="#cbcb34" d="M495.3,359 503.4,358.8 513.4,359.3 519.4,360 524.4,361.2 529.4,363.4 533.4,366 537.5,370 541.2,375 544.4,381.4 546.4,388.2 547.9,398 548.5,409 547.9,416 546.4,421 543.7,426 540.4,430 537.4,432.6 533.4,435.3 529.4,437.3 525.4,438.8 504.6,444 499.4,446.1 495.4,447.2 489.4,448.1 484.4,448.1 479.4,447.6 473.4,446.4 461.4,443.1 453.4,440.1 447.4,437.3 439.4,432.8 434,429 429.5,425 425.1,420 422,415 419.5,409 418.4,403 418.8,397 420.3,392 422.9,387 426.9,382 431.3,378 437,374 442.4,371 447.7,369 460.4,365.3 469.4,363.6 481.4,360.7 487.4,359.7Z"/>
<path fill="#d2c636" d="M495.3,360 503.4,359.7 512.4,359.9 519.4,360.5 524.4,361.7 529.4,363.9 533.4,366.6 537.4,370.4 540.4,374.3 543.5,380 546,388 547.4,396.1 548.1,407 547.9,413 546.8,419 544.6,424 541.4,428.5 538.4,431.5 534.4,434.4 530.4,436.6 526.4,438.1 521.4,439.6 502.4,443.9 495.4,446.2 491.4,446.8 486.4,447 481.4,446.7 475.4,445.6 458.2,440 452.4,437.4 447.4,434.7 440.4,430.1 436.5,427 431.6,422 427.9,417 425.1,411 423.8,406 423.6,400 424.9,394 427.2,389 430.8,384 434.7,380 440.4,375.7 445.8,373 451.4,370.7 458.4,368.3 469.4,365.7 481.4,362.3Z"/>
<path fill="#d8be36" d="M494.8,361 504.4,360.4 509.4,360.4 516.4,360.8 521.4,361.5 525.4,362.7 529.4,364.5 533.4,367.1 536.4,369.9 539.7,374 542.4,378.5 544.2,383 545.8,389 547,396 547.6,403 547.7,410 547.1,416 545.3,422 543.7,425 541.5,428 538.5,431 536,433 532.4,435.2 529.4,436.7 522.4,438.9 508.4,441.8 494.4,445.3 490.4,445.8 486.4,445.9 479.4,445.1 470.4,442.7 460.7,439 455.4,436.7 447.4,432 439.4,425.5 436,422 433.7,419 431.2,415 429.9,412 428.7,408 428.2,405 428.2,401 428.6,398 430.5,392 432.1,389 435,385 439.4,380.6 446.4,376.1 451.4,373.6 457.4,371.1 469.4,367.9 481.4,363.7Z"/>
<path fill="#ddb736" d="M494,362 507.4,361 515.4,361.3 521.4,362.1 525.4,363.2 529.4,365 533.4,367.7 535.9,370 538.6,373 541.4,377.4 543.4,382 545.4,388.7 546.4,394 547.1,401 547.3,410 546.9,415 546,419 544.9,422 543.3,425 541.4,427.6 539.2,430 536.4,432.4 530.4,435.9 522.4,438.6 509.4,441 494.4,444.4 488.4,444.9 481.4,444.3 476.4,443.2 471.4,441.7 458.4,436 451.4,432 444.4,426.5 438.5,420 436.5,417 434.4,413 433.3,410 432.5,406 432.3,403 432.7,399 434.5,393 437.4,387.8 439.8,385 442.4,382.6 448.8,378 455.4,374.5 469.4,370 478.4,366.2 488.4,363.1Z"/>
<path fill="#e3af36" d="M501.3,362 507.4,361.7 515.4,361.9 521.4,362.7 525.4,363.8 529.4,365.6 533.4,368.2 536.4,371 539.6,375 542.2,380 544.6,387 545.9,393 546.7,401 546.8,411 546.4,416 544.9,421 542.3,426 539.8,429 536.4,432 531.5,435 527.4,436.7 519.4,438.8 508.4,440.6 494.4,443.4 490.4,443.8 486.4,443.7 481.4,443.1 476.5,442 472.4,440.7 464.2,437 456.8,433 452.2,430 446.4,425 442.1,420 439.1,415 437.1,410 436.2,404 436.6,399 438.2,394 441,389 443.6,386 446.7,383 450.8,380 454.4,377.8 467.4,372.9 476.4,368.5 486.4,364.7 493.4,363Z"/>
<path fill="#e4a833" d="M498.1,363 504.4,362.4 511.4,362.4 517.4,362.7 522.4,363.5 526.4,364.7 530.4,366.7 533.4,368.8 536.8,372 539.4,375.6 541.4,379.5 543.5,385 545.4,392.1 546.4,403 546.3,413 545.8,417 544.5,421 543.1,424 539.4,428.9 534.4,433 531.4,434.7 527.4,436.4 519.4,438.5 492.4,442.7 486.4,442.7 479.4,441.5 471.6,439 463.6,435 454.4,429 450.8,426 447.8,423 443.5,417 440.9,411 439.8,405 440.4,399 442.1,394 444.4,390 447.8,386 452.4,382 466.4,375.5 475.4,370.4 484.4,366.4 490.4,364.4Z"/>
<path fill="#e4a12f" d="M507.2,363 518.4,363.4 522.4,364.1 526.4,365.3 529.4,366.7 533,369 536.2,372 538.5,375 541.4,380.7 543.4,386 545.1,393 545.7,398 546,406 545.7,415 544.8,419 542.7,424 540.6,427 538.4,429.4 535.4,431.9 532.4,433.8 525.4,436.7 517.4,438.5 498.4,441.2 488.4,441.9 483.4,441.3 478.4,440.1 473.4,438.4 468.4,436 461.7,432 454.4,426.3 450.1,422 446.6,417 444.1,411 443.2,406 443.2,403 443.6,400 444.4,397 445.7,394 448.9,389 452.4,385.5 465.4,378.3 473.6,373 481.4,368.7 487.4,366.1 493.4,364.5 500.4,363.4Z"/>
<path fill="#e49a2c" d="M501.1,364 507.4,363.6 513.4,363.6 518.4,364.1 523.4,365 526.7,366 530.7,368 533.4,370 536.3,373 538.4,376.1 541.4,382 543.2,387 544.4,392 545.3,399 545.6,406 545.3,415 544.7,418 542.3,424 540.4,426.7 538.3,429 533.1,433 526.4,436 518.4,437.9 497.4,440.6 488.4,441 481.4,439.8 473.4,437 466,433 459.2,428 453.1,422 449.6,417 447,411 446.4,408 446.2,405 446.4,402 447,399 448.9,394 451.4,390.5 455.7,387 464.4,381.3 473,375 480.9,370 486.4,367.4 495.4,364.8Z"/>
<path fill="#e4912a" d="M498.3,365 507.4,364.2 514.4,364.3 521.4,365.2 527.4,367 531.4,369.3 534.5,372 537.4,375.8 540.4,381.1 543.1,389 544.4,396 545,406 544.4,417.6 542.4,423 539.4,427.3 536.7,430 534.4,431.8 529.4,434.5 524.4,436.3 519.4,437.4 498.4,439.9 488.4,440 482.4,439.1 477.4,437.4 472.4,435.2 468.4,432.9 464.3,430 460.7,427 456.8,423 453.6,419 451.3,415 449.8,411 449.2,408 449,405 449.3,402 449.9,399 450.8,397 454.6,392 457.8,389 471.2,378 480.9,371 484.6,369 488.4,367.4 493.4,366Z"/>
<path fill="#e48929" d="M504.3,365 509.4,364.7 515.4,364.9 520.4,365.7 524.4,366.7 527.7,368 531,370 533.4,372 536.4,375.6 538.4,378.6 540.4,382.6 542.3,388 543.4,393.1 544.1,400 544.3,409 543.9,417 543.4,419.7 540.8,425 538.4,427.9 536.2,430 531.4,433.2 524.4,436 516.4,437.5 495.4,439.4 487.4,439 481.4,437.7 474.7,435 468.4,431.2 463.2,427 458.5,422 454.7,416 452.7,411 452.1,406 452.9,401 455.4,396 458.6,392 470,381 479.4,373 484.3,370 488.4,368.2 495.4,366.2Z"/>
<path fill="#e37f26" d="M501,366 507.4,365.4 514.4,365.5 520.4,366.4 526.4,368.3 531.4,371.4 535,375 538.4,380 540.4,384.4 542.4,391.2 543.4,399 543.5,413 542.8,420 541,424 537.4,428.5 533.4,431.7 528.4,434.3 523.4,435.9 517.4,437 497.4,438.7 491.4,438.6 483.4,437.3 479.4,436 475.4,434.1 471.9,432 467.8,429 464.5,426 461,422 458.3,418 456.9,415 455.6,411 455.2,408 455.5,404 456.3,401 458.9,396 466.4,387 476,377 482.4,372 486.4,369.9 491.5,368 495.4,366.9Z"/>
<path fill="#e37520" d="M507.4,366 512.4,366 517.4,366.5 522.4,367.7 525.8,369 528.4,370.4 531.9,373 535.4,376.8 537.4,379.8 540.4,386.5 541.8,394 542.5,404 542.6,413 542.1,420 541.6,422 539.2,426 537.4,428 534.4,430.6 529.4,433.5 523.4,435.6 514,437 495.4,438.1 488.4,437.5 481.4,435.7 475.8,433 470,429 465.7,425 461.9,420 459.4,415 458.1,410 458.1,406 459.3,401 462,396 471.1,384 476.3,378 480.9,374 486.4,370.8 492.4,368.5 499.4,367ZM511.4,388.9 508.4,390.9 506.4,393.7 505.5,398 506.4,401.8 508.8,405 512,407 515.4,407.6 518.9,407 520.7,406 522.4,404.4 523.4,403 524.4,400.3 524.4,396 523.4,393.2 521.4,390.7 519,389 515.4,388.1Z"/>
<path fill="#e26b1b" d="M503.9,367 509.4,366.6 514.4,366.9 519.4,367.7 523.4,369 527.4,370.9 530.4,372.9 532.7,375 535.4,378.3 538.4,383.8 539.3,387 540.2,392 541.5,410 541.5,417 540.9,422 540.4,423.4 538.7,426 534.7,430 529.7,433 524.3,435 517.4,436.2 507.4,437 494.4,437.4 488.4,436.8 481.4,434.6 476.4,432.1 470.9,428 466.9,424 464,420 461.6,415 460.6,410 460.8,405 461.4,403 463.2,399 468,391 474.2,382 479.4,376.3 481.4,374.7 485.8,372 490.2,370 497.4,368.1ZM511.4,386.8 509.1,388 507.4,389.4 505.4,391.8 504.4,393.8 503.7,398 504.4,401.8 506.4,405.3 509.6,408 511.8,409 514.4,409.4 518.7,409 520.8,408 522.4,406.8 524.4,404.3 525.4,402.2 526.1,398 525.4,393.7 523.2,390 521.4,388.3 519.4,387 515.4,386.1Z"/>
<path fill="#e06217" d="M501.8,368 507.4,367.4 513.4,367.6 518.4,368.5 523.3,370 527.3,372 531.2,375 533.9,378 536.1,382 537.4,386 538.4,392.1 539.5,406 540.2,411 540.3,418 539.9,422 539.4,424.1 536.5,428 532.7,431 528.9,433 522.6,435 512.4,436.3 495.4,436.8 488.4,436 485.4,435.2 480.4,433.1 477.4,431.4 474,429 470.8,426 468.2,423 466.2,420 464.7,417 463.4,413 463.1,410 463.4,406 464.2,403 465.8,399 468.4,394 472.9,386 476.2,381 480.4,376.7 487.6,372 493.4,370ZM511.4,385.9 509.4,386.9 507.4,388.4 504.4,392.1 503.1,396 503,398 503.3,401 504.4,403.7 505.4,405.3 508.4,408.1 509.8,409 512.7,410 517.6,410 520.3,409 521.8,408 523.9,406 525.4,403.8 526.4,401 526.8,399 526.4,394.4 525.5,392 524.3,390 522.4,387.9 520.4,386.5 518.4,385.6 516.4,385.2 514.4,385.2Z"/>
<path fill="#db5913" d="M500.4,369 505.4,368.3 509.4,368.2 515.8,369 519.1,370 525.4,372.9 528.6,375 531.4,377.7 533.4,380.7 534.3,384 538.1,408 538.9,415 538.9,420 538.4,423.5 537.4,426 535.8,428 533.5,430 530.1,432 523.4,434.3 513.4,435.8 497.4,436.2 493.4,436.1 489.4,435.6 485.4,434.4 482.4,433.1 475.9,429 470.9,424 467.7,419 466.5,416 465.7,413 465.5,410 465.9,406 468.1,399 472.7,389 475.4,384 477.6,381 480.5,378 486.4,373.7 490.4,372ZM512.4,384.7 508.4,386.8 506.4,388.6 504.4,391.1 503.4,393 502.5,396 502.4,399 502.7,401 503.4,403 505.2,406 507.3,408 508.8,409 510.9,410 513.4,410.5 515.4,410.6 518.4,410.2 521.1,409 522.6,408 524.5,406 525.8,404 526.7,402 527.3,399 527.4,397 527,394 525.8,391 524.5,389 522.4,386.8 520.4,385.4 518.4,384.5 516.4,384.2Z"/>
<path fill="#d7510e" d="M499.2,370 503.4,369.3 507.4,369.1 510.6,370 513.5,373 513.6,375 514.1,376 517.4,379.8 520.4,381.1 524.4,381.4 527.4,382.5 529.4,384.4 531.4,387.7 533.1,392 534.1,396 535.4,406.3 536.6,411 537.4,420 536.8,424 535.4,427 532.4,430 529.4,431.6 522.2,434 512.4,435.4 499.4,435.7 490.4,435.1 484.4,433.2 479,430 475.4,427 473.5,425 470.1,420 468.8,417 467.8,413 467.6,410 468,406 469.1,402 472.1,394 475.7,386 480.1,380 484.4,376.1 488.4,374 495.4,371.2ZM512.4,383.6 509.4,385.4 505.4,389 503.4,392 502.6,394 502,396 501.9,399 502.4,401.7 503.4,404 504.7,406 506.4,407.8 509.9,410 513.4,410.9 515.4,411 519.9,410 521.8,409 524.2,407 525.8,405 526.8,403 527.8,400 528,397 527.7,394 526.7,391 524.9,388 523.4,386.1 519.4,382.3 517.4,382.1Z"/>
<path fill="#d34a0c" d="M498.3,371 503.4,370.3 506.4,371.1 508.6,373 509,375 511.1,379 511.7,381 510.8,383 506.4,387.2 504.1,390 502.5,393 501.6,396 501.4,399 502.4,403 504.4,406.2 507.4,409 511.4,410.8 514.4,411.3 517.9,411 521.4,409.6 524.8,407 526.9,404 527.9,402 528.9,398 529,393 529.1,392 529.4,391.6 531.4,394.4 532.5,399 533.8,409 535.2,414 535.6,418 535.6,422 534.8,425 533.7,427 531.9,429 528.7,431 521.4,433.6 512.4,435 500.4,435.2 490.4,434.4 484.4,432.4 479.4,429.3 475,425 471.7,420 470.5,417 469.8,414 469.4,410 469.7,407 470.6,403 472.9,396 476.7,387 479.8,382 483.4,378.3 493.4,372.8Z"/>
<path fill="#d0430a" d="M497.7,372 500.4,371.6 502.4,371.8 504.8,373 508.7,381 508.8,382 508.2,384 503,391 501.7,394 501,397 501.1,400 502,403 503.4,405.4 505.7,408 508.6,410 511.4,411.1 515.4,411.5 518.4,411.2 521.4,410 524.3,408 527.1,405 529.4,401.8 530.4,402.7 530.9,404 531.8,410 533.4,415 533.6,422 533,425 532,427 530,429 526.8,431 520.4,433.3 516.4,434.1 511.4,434.6 499.4,434.6 490.4,433.7 485.2,432 480.3,429 476.2,425 473,420 471.8,417 471.1,414 470.9,411 471,408 473.3,399 477.9,387 480.4,383.1 483.4,380 491.4,374.6 494.7,373Z"/>
<path fill="#cc3c08" d="M497.6,373 500.4,373 502.5,374 503.4,375 505.8,380 506.7,383 506.2,385 502,392 500.9,395 500.6,397 500.7,400 501.2,402 502.1,404 504.3,407 506.6,409 508.4,410.1 511.4,411.3 514.4,411.8 518.4,411.5 521.4,410.4 527.4,406.6 528.4,406.8 529.1,408 531.8,418 531.6,423 531,425 530,427 528.1,429 524.8,431 519,433 510.4,434.2 498.4,434 490.4,433 485.4,431.3 480.4,428.1 476.6,424 474.2,420 473,417 472.4,414 472.2,411 472.4,408 473.9,401 478.4,388.3 481.4,383.7 488.4,377.3 493.4,374.4Z"/>
<path fill="#c83607" d="M494,375 497.4,374.2 499.4,374.4 500.7,375 503.4,380 504.6,383 504.8,384 504.5,386 501.1,393 500.2,396 500,398 500.2,400 501.2,403 504,407 506.2,409 508.4,410.4 510.4,411.2 513.4,411.9 516.4,412 519.4,411.5 525.4,409.3 526.4,409.4 527,410 529.2,417 529.8,420 529.7,421 529,425 528,427 526.1,429 524.4,430.1 521.4,431.5 518.4,432.5 510.4,433.7 504.4,433.8 496.4,433.3 492.4,432.7 487.4,431.4 482.8,429 478.4,425 475.7,421 474.5,418 473.7,415 473.5,409 474.5,403 478.1,391 481,386 485.2,381 489.4,377.5Z"/>
<path fill="#c73006" d="M493.9,376 495.4,375.6 497.4,375.5 499.4,376.5 501.8,381 503.2,385 502.5,388 499.8,395 499.4,398 499.9,401 500.8,403 502.8,406 504.7,408 507.3,410 511.4,411.7 516.4,412.3 523.4,411.1 524.4,411.3 525.1,412 527.1,418 527.7,422 526,427 524,429 522.5,430 517.5,432 510.4,433.2 504.4,433.3 493.4,432.3 487.4,430.6 483.4,428.5 479.5,425 476.8,421 475.5,418 474.7,415 474.5,409 476,401 478.4,392.5 482,386 485.4,381.7 489.4,378.4Z"/>
<path fill="#c52a05" d="M493.9,377 496.4,376.8 498.2,378 500.5,383 501.4,387 499,395 498.6,398 498.9,400 499.7,402 502.4,406 506.4,409.6 510.4,411.7 515.4,412.6 521.4,412.3 523.1,413 525.4,420 525.5,423 523.8,427 521.9,429 520.4,430 518.1,431 514.6,432 508.4,432.8 502.4,432.6 492.4,431.4 487.4,429.8 483.4,427.6 480.4,424.8 477.7,421 475.9,416 475.4,410 476.7,401 478.6,394 481.4,388.1 483.4,385.1 485.4,382.7 489.4,379.3 491.4,378Z"/>
<path fill="#c32505" d="M491.4,379 493.4,378.2 495.4,378.3 496.5,379 497.7,381 498.8,384 499.4,388 499.1,391 497.9,395 497.8,399 499,402 502,406 505.4,409.2 509.4,411.5 513.4,412.7 519.4,413 521.4,414 523.3,420 523.3,424 521.4,427.3 519.7,429 518,430 513.4,431.5 507.4,432.2 501.4,432 492.4,430.7 488.4,429.4 484,427 481.4,424.7 478.7,421 476.9,416 476.3,411 477,403 478.7,396 481.1,390 483.4,386.3 487.2,382Z"/>
<path fill="#c11f04" d="M491.4,380 493.4,379.6 494.4,379.9 495.4,380.7 496.2,382 497,385 497.3,388 496.3,396 496.3,398 497.3,401 498.7,403 503.6,408 507.4,410.7 511.4,412.5 518.4,413.7 519.4,414 519.9,415 521.6,421 521.6,422 521,425 519.4,427.2 517.3,429 515.4,430 510.4,431.3 504.4,431.6 498.4,430.9 489.4,429.1 486.4,427.6 483.4,425.5 481.1,423 479.2,420 477.6,415 477.2,410 477.8,403 479.4,396.1 481.4,391 483.8,387 487.4,382.8Z"/>
<path fill="#bf1903" d="M489.8,382 491.4,381.3 492.4,381.4 493.7,382 494.5,383 495.4,388 494.8,398 495.2,400 496.4,402.2 506.4,410.4 510.4,412.4 516.7,414 518.2,415 519.7,421 519.6,423 518.4,426 517.5,427 514.7,429 510.4,430.5 505.4,431 498.4,430.2 489.4,428.1 486.8,427 484.1,425 482.2,423 480.2,420 478.7,416 478.1,412 478.1,406 479.3,399 481.3,393 483.4,388.9 486.4,384.9Z"/>
<path fill="#bd1302" d="M488.6,384 490.4,383.3 491.4,383.4 492.4,384 493,385 493.5,389 493.3,398 494.1,401 495.4,403.2 497.4,404.8 500.4,406.2 507.4,411.3 510.4,412.7 514.7,414 516.5,415 518,421 517.8,423 516.3,426 515.4,427 513.4,428.3 509.4,429.8 505.4,430.3 501.3,430 496.1,429 488.4,426.6 486.4,425.7 483.4,423.2 481.1,420 479.9,417 479,413 478.8,407 479.7,401 481.4,394.9 483.4,390.5 485.7,387Z"/>
<path fill="#bb0d01" d="M488.2,386 490.4,385.8 491.5,387 492,399 492.9,402 494.4,404.3 496.4,405.9 500.4,407.2 507.4,411.6 514.9,415 515.5,417 516.2,422 514.9,425 513,427 509.4,428.7 506.4,429.3 502.4,429.3 498.4,428.7 493.4,427.3 487.7,425 484.9,423 482.4,420 481,417 480,413 479.7,408 480.2,403 481.4,397.8 483.4,392.4 485.4,388.9 487.4,386.5Z"/>
<path fill="#b90800" d="M488.4,388.8 489.1,389 489.8,390 490.2,393 490.2,397 490.8,400 491.7,403 493.4,405.5 496.4,407.5 502.4,408.8 506.4,411.6 507.6,412 508.4,412.7 509.7,413 510.4,413.6 511.9,414 513.3,415 513.7,416 514.1,419 514,423 512.4,425.3 510.3,427 507.3,428 503.4,428.4 499.4,428.1 495.4,427.1 488.4,423.9 485.9,422 483.4,419 481.9,416 481.1,413 480.8,408 481.1,404 482.4,398.6 484.3,393 485.4,390.8 486.4,389.7Z"/>
</g>
<g fill="none" stroke-opacity="0.55" stroke-width="1">
<path d="M514.9,218 515.7,228 517.3,237 519.6,245 523,253 531,267 551.9,297 556.4,305 560,313 561.5,317 564.4,328 576.9,356 581.8,369 585.5,384 587,399 586.7,412 585.2,426 579,463 575.4,477 571,488 566.2,497 560.3,506 542.5,531 534.4,545 531.3,552 528.7,560 527,568 526,577" stroke="#364fff"/>
<path d="M487.7,218 488.8,229 490.8,238 494.1,247 498.3,255 503,262 508.5,269 529.4,291.7 536.4,299.9 542.4,308 546.4,315 554.4,335.3 567.8,358 573,369 575.8,377 577.5,384 578.7,392 579.2,399 578.5,413 575.9,427 567.2,457 559.2,480 555.4,487 549.1,496 542.4,504 521.7,527 515.4,535 510.7,542 506.3,550 502.7,559 500.5,568 499.4,577" stroke="#4873ff"/>
<path d="M461.6,218 462.8,229 465.4,239 469.6,248 475.5,257 481.3,264 488.3,271 515.4,294.5 524.4,303 531.4,310.8 537.2,319 549.4,341 561.9,361 566.7,370 569.1,376 571.2,383 572.7,391 573.3,398 572.7,411 570.1,423 560.4,447.5 555.2,464 549.6,476 544.4,484.1 537.4,492.4 529.4,500.3 503.2,524 494.7,533 488.2,541 482.4,550 478.6,558 475.8,567 474.3,577" stroke="#5598ff"/>
<path d="M432.5,218 433.7,229 436.5,238 442,248 449.2,257 456.4,264 466.2,272 500.4,295.6 512.4,304.7 522.4,313.8 530.4,323.1 539.4,335.5 552.5,355 559.9,368 563.4,376 566,384 567.6,392 568.3,399 567.7,411 564.9,422 562.1,429 553.8,446 546.1,466 542.4,472.4 535.4,481.4 526.4,490.1 517.4,497.4 484.6,522 474.1,531 465.1,540 457.8,549 452.4,558 448.9,567 447.1,577M94.4,335 100.4,335.6 105.4,329.9 121.4,308.3 148.1,269 158.6,252 165.8,238 168.6,231 170.6,224 170.4,218M148.8,577 148.9,571 148.4,566 145.1,552 139.7,538 131.8,522 118.9,500 105.4,480.6 100.4,474.7 94.4,475.3" stroke="#4db0ff"/>
<path d="M386.7,218 386.6,224 387,226 388.4,230 390.5,234 397.9,243 410.3,254 422.7,263 435.8,271 480.4,294.5 497.4,304.4 511.4,314.2 523.4,325.2 531.5,334 542.4,347.5 548,355 552.9,363 556.8,371 560.6,381 562.8,390 563.9,398 564,405 563.2,412 561.7,418 559.6,424 555.8,432 547.7,447 541.4,461.1 537.9,467 533.4,473 525.4,480.7 515.4,488.4 461.3,522 445.4,533 433.8,542 424.2,551 416.9,560 414.5,564 412.3,569 411,577M245.7,577 246.4,571 245.6,568 242.7,561 238,553 227,538 199.4,504.4 187.4,488.8 176.7,473 168.4,457.8 161.6,441 157.3,424 156,415 155.3,406 155.6,388 156.6,379 158.2,370 160.5,361 163.5,352 166.8,344 171.2,335 181.1,319 193.7,303 210.4,285.6 227.4,270.3 260.1,243 269.4,234 273.5,229 276.3,224 275,218" stroke="#3dc3ff"/>
<path d="M337,270 348.4,269.1 358.4,269.2 369.4,270.2 381.4,272.2 396.4,275.5 415.4,280.5 434.4,286.4 451.4,292.3 466.4,298.3 480.4,304.5 490.4,309.5 500.4,315.3 509.4,321.4 519.4,329.3 526.4,335.6 535.4,344.7 541.4,351.5 546.2,358 550.9,366 554.2,373 557.2,382 559.7,393 560.7,401 560.7,408 558.8,418 554.6,428 543.1,446 536.4,459.3 531.4,466 526.4,471.3 521.4,475.6 515.4,479.9 499.4,489.2 450.4,512.7 422.4,525.2 400.4,533.9 383.4,539.3 369.4,542.3 355.4,543.6 341.4,542.7 327.4,539.8 312.4,534.6 296.4,527.1 280.4,517.7 262.4,505 245.4,490.9 231.4,477.3 219.4,463 214.4,455.7 209.8,448 206.4,441 203.2,433 199.1,418 197.9,410 197.3,401 197.4,392 198.2,383 199.6,375 201.8,367 204.6,359 207.8,352 211.7,345 216.3,338 221.4,331.5 227.4,325 234.4,318.3 241.9,312 259.4,299.7 279.4,288.3 298.4,279.9 307.4,276.7 318.4,273.5 327.4,271.5 337,270" stroke="#34d7ff"/>
<path d="M361.3,291 373.4,290.7 386.4,291.2 398.4,292.2 412.4,294.1 438.4,299.2 462.4,306.3 483.4,314.5 502.4,324.2 512.4,330.5 519.4,335.5 529.4,343.6 536.4,350.3 545.7,362 549.2,368 551.8,374 554.3,382 556.9,394 558.1,403 558,410 555.9,420 551.8,429 547.4,435.3 539.1,445 530.1,460 525.4,464.9 520.4,469.2 514.4,473.4 507.4,477.5 498.4,481.9 477.4,490.3 443.4,502.3 423.4,508.3 405.4,512.4 389.4,514.6 373.4,515.2 357.4,514.2 342.4,511.8 330.4,508.3 317.4,503 299.4,493.6 284.4,484.1 270.4,473.3 258.5,462 248.5,450 240.4,437 234.8,424 232.8,417 231.4,410 230.6,403 230.5,396 231.9,383 235.7,370 238.8,363 242.1,357 250.7,345 261.4,334 274.4,323.7 289.4,314.3 311.4,303.6 330.4,296.1 344.4,292.7 361.3,291" stroke="#2cebe8"/>
<path d="M372.1,306 383.4,305.3 393.4,305.2 421.4,306.8 441.4,310 464.4,315.6 488.4,324.2 507.4,333.2 516.4,338.5 525.4,344.6 531.4,349.4 537.4,355.2 541.6,360 545.7,366 548.6,372 551.7,380 553.8,388 555.7,399 556.2,405 555.8,412 553.6,421 549,430 543.4,437 532.3,448 521.8,462 512.4,468.6 500.4,474.4 485.4,479.8 466.4,485.2 439.4,491.8 419.4,495.6 400.4,497.7 383.4,498.1 369.4,497 355.4,494.7 342.4,491.4 330.9,487 321.4,482.2 304.4,470.9 293.4,462.5 283.4,453.1 274.9,443 268,432 262.8,420 260,408 259.4,396 260.8,385 264.3,374 269.4,363.8 277.2,353 287.4,342.6 298.6,334 314.4,324.4 328.6,317 342.4,311.5 355.4,308.3 372.1,306" stroke="#2dfdd1"/>
<path d="M397.4,318 413.4,317.3 423.4,317.5 440.4,319.2 457.4,322.1 483.4,329 501.4,335.5 517.4,343.3 528.4,350.4 536.4,357.2 542.8,365 548.7,376 551.9,387 554.5,402 554.6,411 553.6,416 552,421 548.9,427 546.4,430.7 540.4,437.3 525.9,450 515.7,461 512.4,463.4 506.4,466.4 493.4,471.2 476.4,475.4 452.4,479.5 431.4,482.3 414.4,483.6 397.4,483.6 381.4,482.3 369.4,480.1 355.4,476.1 341.4,470.4 328.4,463.5 316.4,455.5 305.5,446 296.9,436 290.9,426 286.7,415 284.7,404 284.5,398 285,392 287.6,381 292.6,370 296.4,364.2 300.4,359.3 310.4,350 321.8,342 338.4,332.8 352.4,326.8 366.4,322.5 379.4,319.9 397.4,318" stroke="#39ffb6"/>
<path d="M428,328 447.4,328.8 474.4,333.3 495.4,338.3 507.4,342.5 518.4,347.4 527.4,352.7 534.4,358 538.4,362.1 542.4,367.3 547.3,376 549,381 550.8,388 553.1,402 553.5,410 552,418 548.8,425 544.4,431.1 538.4,436.8 523.2,448 512.4,457.7 506.4,461.7 502.4,463.4 490.4,466.8 473.4,469.6 457.4,471.1 433.4,472.1 415.4,471.9 401.4,470.6 386.4,468 372.4,464.1 361.4,459.7 349.4,453.3 335.4,444 325.4,435.7 317.7,427 312.7,419 309.4,410 308.1,401 308.8,392 311.2,384 315.4,376 321.8,368 331.4,359.3 341.7,352 353.7,345 366.4,339.4 381.4,334.7 399.4,330.7 410.4,328.9 428,328" stroke="#55ff8e"/>
<path d="M437.4,337 466.4,338.8 488.4,341.6 495.4,343.1 508.4,346.7 518.4,350.7 527.4,355.3 534.4,360.4 540.7,367 545,374 548.7,384 551.2,396 552.4,408 551.8,415 549,423 544.3,430 540.4,433.9 536.4,437.1 531.4,440.1 523.6,444 510.4,454.2 503.4,458.4 498.4,460.4 491.4,462.1 483.4,463.3 474.4,463.9 454.4,464.2 433.4,463.2 418.4,461.5 405.4,459.1 391.4,455.1 379.4,450.2 368,444 358.6,437 350.6,429 344.2,420 340.1,412 337.9,404 337.8,396 339.4,389 342.5,382 348.5,373 355.1,366 362.8,360 372.4,354.4 383.4,349.4 396.4,344.7 406.3,342 423.4,338.6 437.4,337" stroke="#7fff6d"/>
<path d="M440.8,346 459.4,345.3 480.4,345.9 499.4,348.1 504.4,349.2 521.4,354.7 527.4,357.5 533.4,361.5 539.4,367.3 543.8,374 547.5,383 549.9,393 551.3,406 551,414 548.6,422 544.4,428.7 540.3,433 534.4,437.4 528.4,440.6 517.3,445 508.4,451.4 502.4,454.7 497.4,456.6 492.4,457.8 479.4,459 469.4,458.9 448.4,457.2 436.4,455.4 420.8,452 410.4,448.8 401.1,445 391.4,439.7 383.1,434 376.4,428 371.3,422 367.1,415 364.6,408 363.6,401 364.1,394 366.2,387 369.4,380.9 374,375 380.4,369 387.4,364 396.2,359 408.4,353.9 423.4,348.7 431.4,346.6 440.8,346" stroke="#a2ff56"/>
<path d="M466.4,352 473.4,351.5 493.4,351.3 512.4,354.6 521.4,356.9 527.4,359.3 532.4,362.3 537.4,366.7 542.1,373 544.7,378 546.7,383 549.1,393 550.4,406 550.1,414 548.5,420 545.5,426 540.4,432 535.4,435.9 530.4,438.7 524.4,441.2 512.7,445 505.4,449.5 499.4,452.2 494.4,453.7 489.4,454.5 476.4,454.7 465.4,453.6 449.4,450.9 439.4,448.5 430.4,445.6 419.4,441.1 411.5,437 404.1,432 397.4,425.9 392.7,420 388.9,413 386.9,407 386.1,401 386.7,395 388.5,389 391.5,383 396.2,377 401.5,372 408.4,367 416.9,362 425.4,358 437.4,355.2 451.4,352.8 466.4,352" stroke="#c1ff47"/>
<path d="M483.1,356 491.4,355.6 504.4,356.2 514.4,357.3 521.4,358.7 526.4,360.4 531.4,363.1 535.4,366.3 538.8,370 543.3,377 546.5,385 548.4,394 549.4,406 549.3,413 548,419 545.2,425 541.4,430 534.4,435.6 526.4,439.5 507.7,445 502.4,447.8 496.4,449.9 490.4,451.1 483.4,451.3 471.4,449.9 463.4,448.5 455.4,446.4 442.4,442.2 435,439 427.7,435 421.9,431 415.9,426 410.5,420 406.9,414 404.7,408 403.9,401 404.5,395 406.5,389 409.9,383 414.9,377 419.4,372.9 425.4,369.4 434.4,365.3 443.8,362 447.4,361 465.4,358.1 483.1,356" stroke="#deff46"/>
<path d="M495.1,359 503.4,358.8 513.4,359.2 519.4,359.9 524.4,361.1 529.4,363.3 533.4,366 537.5,370 541.2,375 544.4,381.4 546.4,388.1 548,398 548.5,409 547.9,416 546.4,421 543.7,426 540.4,430 533.4,435.4 525.4,438.8 504.7,444 495.4,447.2 489.4,448.1 484.4,448.1 473.4,446.4 461.4,443.1 453.4,440.2 439.4,432.9 433.9,429 429.4,425 425,420 421.9,415 419.4,409 418.3,403 418.7,397 420.2,392 422.8,387 426.8,382 431.2,378 436.8,374 442.4,370.9 447.6,369 460.4,365.2 481.4,360.7 495.1,359" stroke="#f6ff49"/>
<path d="M501.5,361 516.4,361.1 521.4,361.8 526.4,363.4 530.4,365.3 534.4,368.3 538.4,372.5 541.4,377 543.9,383 546.3,392 547.2,400 547.5,410 547.1,415 545.8,420 543.5,425 541.3,428 538.3,431 534.4,433.9 526.4,437.6 495.4,444.6 488.4,445.3 479.4,444.5 469.4,441.6 454.6,435 449.6,432 444.4,428 439.2,423 435.3,418 432.6,413 430.9,407 430.6,401 431.5,396 434.1,390 437.4,385.2 440.7,382 444.8,379 450.4,375.7 456.4,372.9 469.4,369.1 482.4,364.3 492.4,361.9 501.5,361" stroke="#ffec4b"/>
<path d="M498.7,363 512.4,362.5 518.4,362.9 523.4,363.8 527.4,365.2 531.4,367.4 537.4,372.8 540.2,377 542.4,382 545.4,392.4 546.4,404 546.3,413 545.5,418 542.4,425 538.4,429.8 532.6,434 526.4,436.7 518.4,438.6 492.4,442.6 485.4,442.5 478.4,441.1 471.4,438.7 463.4,434.6 454.4,428.7 448.3,423 443.9,417 441.3,411 440.3,405 440.8,399 442.6,394 444.9,390 448.3,386 452.4,382.5 466.4,375.8 475.4,370.6 484.4,366.5 490.4,364.5 498.7,363" stroke="#ffd549"/>
<path d="M509.1,364 519.4,364.6 527.9,367 531.4,369 533.8,371 538.4,377 542.4,385.7 544,392 544.8,398 545.2,406 544.7,416 543.8,420 542.4,423.2 538.4,428.6 533.4,432.6 527.4,435.4 519.4,437.5 497.4,440.1 488.4,440.3 480.4,438.8 471.3,435 465.4,431.4 460,427 454.3,421 451,416 449,411 448.2,406 448.6,401 450.4,395.6 453.3,392 456.5,389 471.8,377 482.4,369.9 487.4,367.6 495.4,365.3 509.1,364" stroke="#ffbf3f"/>
<path d="M502.4,366 513.4,365.6 518.4,366.2 523.4,367.4 527.2,369 530.4,371 533.4,373.6 536.2,377 540.4,384.9 542.5,393 543.3,406 543.2,413 542.4,420.9 539.5,426 535.6,430 530.4,433.3 524.4,435.5 515.4,437.1 496.4,438.5 490.4,438.3 483.4,437 477.4,434.7 471.1,431 466.1,427 461.6,422 459,418 456.9,413 456,408 456.6,403 458,399 461.3,394 471.6,382 478.6,375 483.4,371.7 488.4,369.3 495.4,367.2 502.4,366" stroke="#ffa53a"/>
<path d="M501.3,368 507.4,367.3 512.4,367.4 517.4,368.1 523.7,370 527.6,372 531.5,375 534.1,378 536.4,382 538.4,390.2 540.4,410.7 540.5,418 540.1,422 538.9,425 536.5,428 532.8,431 529,433 523,435 512.4,436.4 495.4,436.9 488.4,436.1 480.4,433.2 473.8,429 467.9,423 464.4,417 463.1,413 462.7,410 463,406 463.9,403 468.1,394 475.3,382 479.8,377 486.4,372.5 491.4,370.4 501.3,368M511.4,386 507.4,388.5 504.4,392.3 503.2,396 503.4,401 505.3,405 508.3,408 513.1,410 517.4,410 521.7,408 524.6,405 526.6,400 526.4,394.8 524.4,390.3 522.4,388 520.4,386.6 516.4,385.3 511.4,386" stroke="#ff862a"/>
<path d="M500.8,370 506.4,369.8 509.2,371 511.2,373 511.3,375 514,380 513.5,382 508.4,385.7 505.4,388.7 503.2,392 502.1,395 501.7,399 502.4,402.3 504.5,406 507.8,409 512.4,410.9 515.4,411.1 519.4,410.4 522.4,408.8 526,405 527.8,401 528.2,399 528.1,394 526.8,390 524.9,386 525.4,385.2 526.4,385 528.4,386.3 531.4,390.7 533.1,396 534.8,408 536.1,413 536.6,422 535.8,425 533.9,428 531.6,430 528.4,431.7 521.1,434 512.4,435.2 498.4,435.5 489.4,434.6 483.4,432.4 478.3,429 473.4,424 470.4,419 468.6,413 468.9,406 472.8,394 477,385 481.4,379.2 484.4,376.7 495.4,371.5 500.8,370" stroke="#ff6c1d"/>
<path d="M497.8,373 501.4,373.3 503.4,375 506.7,383 505.6,386 502,392 500.6,397 501.2,402 504.3,407 508.4,410.1 511.4,411.3 514.4,411.8 518.4,411.5 521.4,410.4 527.4,406.6 528.4,406.9 529,408 531.7,418 531.5,423 530,427 528.1,429 524.8,431 519,433 510.4,434.2 498.4,434 490.4,433 485.4,431.3 480.4,428.1 476.6,424 474.2,420 472.4,414 472.4,408 474,401 478.4,388.3 481.4,383.8 488.4,377.3 493.4,374.4 497.8,373" stroke="#ff5717"/>
<path d="M492.8,377 496.4,376.2 498.3,377 501.3,383 502.2,386 499.6,394 499,398 500,402 502.6,406 507.1,410 511.4,411.9 515.4,412.5 523.6,412 525.7,418 526.5,422 524.7,427 521.3,430 515.8,432 509.4,432.9 504.3,433 493.4,431.9 487.4,430.2 483.4,428 480.1,425 477.3,421 475.5,416 475,410 476,403 478.3,394 481.2,388 484.4,383.4 488.4,379.6 492.8,377" stroke="#f64413"/>
<path d="M492,380 493.4,379.9 495.2,381 496.4,384 497,388 496,398 496.5,400 497.7,402 502.5,407 506.4,410.2 511.4,412.5 519,414 519.6,415 521.2,421 520.6,425 518.4,427.7 514.9,430 510.4,431.2 504.4,431.5 498.4,430.8 489.6,429 486.4,427.5 483.1,425 480.6,422 478.9,419 477.5,414 477.3,408 478,402 479.6,396 481.5,391 484.7,386 488.4,382.1 492,380" stroke="#f13311"/>
<path d="M487.4,386 489.4,385.1 490.4,385.1 491.6,386 492.1,388 492.4,399 493.3,402 494.6,404 496.4,405.5 500.4,406.9 507.4,411.5 515.3,415 516.7,422 515.4,425 513.6,427 510.4,428.6 507.4,429.4 503.4,429.6 498.6,429 493.4,427.5 487,425 484.4,423.1 482.4,420.6 480.7,417 479.8,413 479.4,408 479.8,404 482.5,394 484.4,390 487.4,386" stroke="#eb210e"/>
</g>
</g>
<path d="M497.3,397.5 H530.3" stroke="#000" stroke-width="2.8" fill="none"/>
<path d="M537.8,397.5 l-10,-4.7 l2,4.7 l-2,4.7 Z" fill="#000"/>
<path d="M514.5,373.1 A24.4,24.4 0 0 0 506.1,420.6" stroke="#000" stroke-width="3.2" fill="none"/>
<path transform="translate(514.4,422.2) rotate(13)" d="M0.5,0 l-10.6,-4.8 l2.1,4.8 l-2.1,4.8 Z" fill="#000"/>
<rect x="100.4" y="224" width="620.9" height="347" fill="none" stroke="#000" stroke-width="1.8"/>
<path d="M100.4,571 v-7.2 M100.4,224 v7.2M203.9,571 v-7.2 M203.9,224 v7.2M307.4,571 v-7.2 M307.4,224 v7.2M410.9,571 v-7.2 M410.9,224 v7.2M514.3,571 v-7.2 M514.3,224 v7.2M617.8,571 v-7.2 M617.8,224 v7.2M721.3,571 v-7.2 M721.3,224 v7.2M152.1,571 v-3.5 M152.1,224 v3.5M255.6,571 v-3.5 M255.6,224 v3.5M359.1,571 v-3.5 M359.1,224 v3.5M462.6,571 v-3.5 M462.6,224 v3.5M566.1,571 v-3.5 M566.1,224 v3.5M669.6,571 v-3.5 M669.6,224 v3.5M100.4,224.0 h7.2 M721.3,224.0 h-7.2M100.4,310.8 h7.2 M721.3,310.8 h-7.2M100.4,397.5 h7.2 M721.3,397.5 h-7.2M100.4,484.2 h7.2 M721.3,484.2 h-7.2M100.4,571.0 h7.2 M721.3,571.0 h-7.2M100.4,267.4 h3.5 M721.3,267.4 h-3.5M100.4,354.1 h3.5 M721.3,354.1 h-3.5M100.4,440.9 h3.5 M721.3,440.9 h-3.5M100.4,527.6 h3.5 M721.3,527.6 h-3.5" stroke="#000" stroke-width="1.5" fill="none"/>
<text x="100.4" y="601.6" text-anchor="middle" font-size="29" fill="#000">-60</text>
<text x="203.883" y="601.6" text-anchor="middle" font-size="29" fill="#000">-45</text>
<text x="307.367" y="601.6" text-anchor="middle" font-size="29" fill="#000">-30</text>
<text x="410.85" y="601.6" text-anchor="middle" font-size="29" fill="#000">-15</text>
<text x="514.333" y="601.6" text-anchor="middle" font-size="29" fill="#000">0</text>
<text x="617.817" y="601.6" text-anchor="middle" font-size="29" fill="#000">15</text>
<text x="721.3" y="601.6" text-anchor="middle" font-size="29" fill="#000">30</text>
<text x="92" y="232.6" text-anchor="end" font-size="29" fill="#000">25.0</text>
<text x="92" y="319.35" text-anchor="end" font-size="29" fill="#000">12.5</text>
<text x="92" y="406.1" text-anchor="end" font-size="29" fill="#000">0.0</text>
<text x="92" y="492.85" text-anchor="end" font-size="29" fill="#000">-12.5</text>
<text x="92" y="579.6" text-anchor="end" font-size="29" fill="#000">-25.0</text>
<text x="6" y="232.6" text-anchor="start" font-size="29" fill="#000">(b)</text>
<text x="411" y="646.5" text-anchor="middle" font-size="29" fill="#000">X(mm)</text>
<text transform="translate(43,397.5) rotate(-90)" text-anchor="middle" font-size="29">Y(mm)</text>
<text x="707.5" y="257.1" text-anchor="end" font-size="28.2" fill="#fff">Magnesium side</text>
<text x="704.7" y="554.4" text-anchor="end" font-size="28.2" fill="#fff">Aluminum side</text>
<clipPath id="cc"><rect x="847.7" y="220" width="633.2" height="352.8"/></clipPath>
<g clip-path="url(#cc)">
<g filter="url(#bl)">
<rect x="841.7" y="214" width="645.2" height="364.8" fill="#0c14e4"/>
<path fill="#101ae4" d="M841.7,214 1473.5,214 1475.6,232 1478.6,249 1482.7,266.9 1487.7,284.8 1487.7,579 841.7,579Z"/>
<path fill="#141fe4" d="M841.7,214 1455.9,214 1457.7,226 1459.6,237 1464.9,260 1470.7,280.8 1487.7,336.4 1487.7,579 841.7,579Z"/>
<path fill="#1725e4" d="M841.7,214 1442.4,214 1445.8,232 1451.1,254 1456.7,272.8 1471,318 1477.4,341 1482.6,364 1486.3,387 1487.7,401 1487.7,567.5 1487.5,579 841.7,579Z"/>
<path fill="#1a2ae3" d="M841.7,214 1431,214 1435,233 1439.4,249 1444.7,265.7 1459.3,309 1467,335 1470.3,348 1473,361 1475,373 1476.6,385 1477.7,397 1478.3,409 1478.6,422 1478.3,436 1477.4,457 1473.7,514.4 1470.6,579 841.7,579Z"/>
<path fill="#1e2fe2" d="M841.7,214 1420.6,214 1423.8,228 1428.5,244 1433.6,259 1449.4,302 1454.1,316 1458.3,330 1462,344 1465.1,358 1467.3,371 1469.1,385 1470.1,397 1470.6,410 1470.5,424 1470,438 1468.2,461 1462,525 1458.1,579 841.7,579Z"/>
<path fill="#2134e2" d="M841.7,214 1410.6,214 1414,227 1418.7,241 1423.7,254.3 1440.4,296 1446.3,312 1450.5,325 1454.5,339 1458,354 1460.6,368 1462.6,383 1463.7,397 1464.1,411 1463.9,425 1463,440 1460.5,465 1452.1,531 1447.8,579 841.7,579Z"/>
<path fill="#2439e1" d="M841.7,214 1401,214 1404.4,225 1409.5,239 1433,293 1438.9,308 1443.5,321 1448.4,337 1452.1,352 1455.1,368 1457.1,383 1458.1,397 1458.5,412 1458.1,427 1457,442 1453.9,467 1443.5,535 1440.8,557 1438.7,579 841.7,579Z"/>
<path fill="#273fe0" d="M841.7,214 1392.2,214 1395.9,225 1401.6,239 1425.8,290 1431.8,304 1437.2,318 1442.4,334 1446.7,350 1449.9,366 1452.1,382 1453.2,397 1453.5,413 1452.9,428 1451.4,445 1447.5,472 1435.5,539 1432.6,559 1430.2,579 841.7,579Z"/>
<path fill="#2a44e0" d="M841.7,214 1385.5,214 1386.6,221 1392.7,235.6 1400.1,251 1421.2,292 1427.1,305 1433.1,320 1438.4,336 1442.4,351 1445.6,367 1447.7,383 1448.8,399 1448.9,414 1448.2,430 1446.4,447 1444.3,461 1441.5,477 1431.7,523.6 1427.9,543 1424.9,561 1422.2,579 841.7,579Z"/>
<path fill="#2d49df" d="M841.7,214 1379.3,214 1381.7,226 1384.7,233 1393.6,251 1409.7,279.9 1416.7,293.1 1423.2,307 1429,321 1434.4,337 1438.4,352 1441.6,368 1443.7,384 1444.8,400 1444.8,416 1443.8,432 1441.6,450 1439.2,464 1436,480 1421.1,545 1414.6,579 841.7,579Z"/>
<path fill="#3050df" d="M841.7,214 1373.5,214 1374.7,220 1377,229 1377.7,231.3 1379.7,235.6 1388.6,253 1404,279 1412.3,294 1419.2,308 1425.1,322 1430.4,337 1434.8,353 1438,369 1440.1,385 1441,401 1440.9,418 1439.6,435 1437.2,452 1435,464 1432.1,477 1415.7,542 1407.3,579 841.7,579Z"/>
<path fill="#3356df" d="M841.7,214 1368,214 1370.7,225 1373.5,234 1374.7,237 1380.5,248 1400.3,281 1408.3,295 1415.9,310 1421.6,323 1426.9,338 1431.4,354 1434.6,370 1436.6,386 1437.5,402 1437.3,419 1435.8,436 1433,454 1430.3,467 1427.1,480 1410.1,542 1400.4,579 841.7,579Z"/>
<path fill="#355ddf" d="M841.7,214 1362.8,214 1366.7,227.8 1371.1,240 1379.7,254.8 1404.6,296 1412.4,311 1418.2,324 1424,340 1428.2,355 1431.4,371 1433.5,388 1434.3,404 1433.8,421 1432.1,438 1429.2,455 1426.5,467 1423,480 1412.1,516 1407.2,534 1393.9,579 841.7,579Z"/>
<path fill="#3863df" d="M841.7,214 1357.8,214 1362.5,229 1365.5,237 1368.3,243 1401,297 1408.7,311.2 1415,325 1420.6,340 1425.2,356 1428.4,372 1430.4,388 1431.2,404 1430.7,421 1428.9,438 1425.8,455 1420.3,476 1405.9,520 1400.2,541 1389.2,575 1388.4,579 841.7,579Z"/>
<path fill="#3a69df" d="M841.7,214 1353,214 1354.8,220 1359.2,232 1365.7,245.8 1399.5,301 1406.5,314 1412.1,326 1417.4,340 1422.1,356 1425.4,372 1427.5,388 1428.2,405 1427.6,422 1425.8,438 1422.5,455 1419.6,466 1416.3,477 1399.5,525 1396.8,534 1393.2,548 1385.2,571 1383.5,579 841.7,579Z"/>
<path fill="#3d70df" d="M841.7,214 1348.4,214 1350.3,220 1354.2,230 1363.1,248 1395.7,300.8 1403.6,315 1409.2,327 1415,342 1419.4,357 1422.8,373 1424.7,389 1425.4,405 1424.8,421 1422.8,438 1419.5,454 1416.6,465 1412.7,477 1398.3,515 1394.8,525 1390.8,538 1386.9,553 1381.8,567 1378.7,579 841.7,579Z"/>
<path fill="#3e75e0" d="M841.7,214 1343.9,214 1346,220 1349.7,229 1361.2,251 1394.1,304 1400.7,315.8 1406.6,328 1412.7,343.7 1416.6,357 1420.2,374 1422.1,390 1422.7,406 1422,422 1420.1,437 1416.8,453 1413.3,465 1409.6,476 1394.7,513 1389.6,527 1385,542 1381,557 1378.7,563.1 1374.1,579 841.7,579Z"/>
<path fill="#3d79e0" d="M841.7,214 1339.5,214 1344.9,227 1357.8,251 1390.8,304 1398.1,317 1403.5,328 1409.1,342 1414,358 1417.4,374 1419.4,390 1420,406 1419.3,422 1417.4,437 1414.1,452 1411.2,462 1407,474 1392.7,508 1386.1,525 1380.6,542 1375,562 1369.7,579 841.7,579Z"/>
<path fill="#3c7de1" d="M841.7,214 1335.2,214 1337.6,220 1340.5,226 1356.7,255 1386.7,302.3 1394.5,316 1400,327 1406.5,343 1411.4,359 1414.8,375 1416.8,391 1417.4,407 1416.7,422 1414.7,437 1411.3,452 1408.3,462 1404.3,473 1388.7,508.4 1382.2,525 1373.6,551 1369.8,566 1365.5,579 841.7,579Z"/>
<path fill="#3a81e2" d="M841.7,214 1331,214 1334.6,222 1343.6,238 1355.7,258.5 1382.9,301 1390.4,314 1396.5,326 1403.3,342 1408.4,358 1412.2,375 1413.4,383 1414.3,392 1414.8,408 1414,423 1411.9,438 1408.3,453 1404.8,464 1400.5,475 1386.2,506 1378.8,524 1369.5,551 1365.5,567 1361.3,579 841.7,579Z"/>
<path fill="#3985e3" d="M841.7,214 1326.9,214 1329.6,220 1334.7,229 1353.6,260 1373.9,291 1381.4,303 1387,313 1393.7,326 1400.1,341 1405.4,357 1407.7,366 1409.4,374 1410.8,383 1411.8,392 1412.4,408 1411.6,423 1409.2,439 1405.4,454 1402.5,463 1398.1,474 1393.6,484 1380.6,511 1375.3,524 1366.7,548 1360.2,571 1357.3,579 841.7,579Z"/>
<path fill="#3889e3" d="M841.7,214 1322.8,214 1325.8,220 1333.6,233 1352.6,263 1369.4,288 1376.9,300 1383.3,311 1390,324 1397,340 1399.9,348 1403.1,358 1405.1,366 1407,375 1408.3,383 1409.3,392 1410,408 1409.2,423 1407.1,437 1405.4,445 1403.2,453 1399.7,463.4 1395,475 1377.5,511 1372,524 1364.1,545 1355.6,573 1353.3,579 841.7,579Z"/>
<path fill="#368ce3" d="M841.7,214 1318.8,214 1322,220 1327.6,229 1350.4,264 1364.2,284 1372,296 1378.5,307 1386.4,322 1390.6,331 1394.4,340 1400.3,357 1402.6,366 1404.6,375 1406,384 1407,393 1407.6,409 1406.8,423 1405.8,431 1404.4,439 1400.4,454 1396.2,466 1391.9,476 1375.6,509 1369.7,522 1361.8,542 1349.4,579 841.7,579Z"/>
<path fill="#338fe3" d="M841.7,214 1314.8,214 1318.2,220 1324.1,229 1351,269 1365.2,289 1373.8,303 1382.5,319 1386.8,328 1391.1,338 1394.9,348 1397.5,356 1400,365 1402.2,375 1403.6,383 1404.7,393 1405.3,409 1404.6,423 1402.5,437 1400.7,445 1398.4,453 1394.9,463 1389.9,475 1385.1,485 1370.8,513 1365.9,524 1359.5,540 1345.6,579 841.7,579Z"/>
<path fill="#3192e2" d="M841.7,214 1310.8,214 1314.5,220 1320.6,229 1334.7,248.9 1346.3,266 1356,279 1362.2,288 1370.4,301 1378.2,315 1382.6,324 1387.1,334 1391.1,344 1395.1,356 1397.9,366 1399.9,375 1401.4,384 1402.5,394 1403,401 1403.1,410 1402.1,425 1399.6,440 1395.4,455 1391.4,466 1386.7,476.6 1370.7,507.8 1363,524 1357.6,537 1341.7,579 841.7,579Z"/>
<path fill="#2d96e1" d="M841.7,214 1307.6,214 1314.9,225 1359.8,287 1368.6,301 1376.7,315.6 1381.8,326 1386.1,336 1390.3,347 1393.3,356 1395.8,365 1398.1,375 1399.6,384 1400.8,394 1401.4,410 1400.4,425 1398.1,439 1396.1,447 1394,454 1390.3,464 1385.1,476 1367,511 1360.7,524 1338.6,579 841.7,579Z"/>
<path fill="#289cdf" d="M841.7,214 1299.6,214 1306.9,224 1322.7,244 1350.5,280 1360.1,294 1369.6,310 1374.2,319 1378.9,329 1383,339 1387.7,352 1391,363 1393.6,374 1395.2,383 1396.6,394 1397,401 1397.2,410 1396.9,418 1396.1,426 1393.7,440 1391.6,448 1389.4,455 1385.1,466 1378.7,479.8 1361.8,511 1355.2,524 1352.5,530 1349.5,538 1345.2,548 1330.8,579 841.7,579Z"/>
<path fill="#25a3d9" d="M841.7,214 1291.5,214 1299.5,224 1336,267 1345.6,279 1355.7,293.3 1365.2,309 1369.9,318 1375,329 1379.1,339 1383.1,350 1386.4,361 1389.7,375 1391.9,387 1393.1,397 1393.6,412 1393.3,419 1392.5,427 1391.2,435 1389.9,441 1388.2,447 1385.2,456 1382,464 1376.7,475.4 1368.7,490.4 1351.9,520 1348.4,527 1342.8,541 1339.7,547.6 1323.2,579 841.7,579Z"/>
<path fill="#23aad3" d="M841.7,214 1283.2,214 1288.3,220 1310.6,244 1335,271 1342.3,280 1348.3,288 1354.7,297.5 1359.9,306 1365.3,316 1371.2,328 1375.3,338 1378.8,348 1382.6,361 1386,375 1388.4,388 1390,401 1390.4,409 1390.4,416 1390,423 1389.1,431 1387.8,438 1386.1,445 1383.6,453 1381,460 1377.4,468 1372.7,476.8 1352.1,511 1345.2,523 1340.6,533 1336,544 1333.4,549 1315.7,579 841.7,579Z"/>
<path fill="#20b0cb" d="M841.7,214 1274.5,214 1280.1,220 1318.7,258.2 1329.8,270 1338.3,280 1344.5,288 1350.7,296.8 1355.9,305 1361.6,315 1366.3,324 1370.2,333 1374.6,345 1378.2,357 1382.3,374 1385,388 1386.8,401 1387.4,410 1387.5,418 1387.1,425 1386.3,432 1384.8,440 1382.8,448 1380.5,455 1377.3,463 1373,472 1367.8,481 1363.7,487.3 1353.2,502 1342.6,519 1335.3,533 1327.9,549 1322.7,557.4 1308.2,579 841.7,579Z"/>
<path fill="#1db7c2" d="M841.7,214 1265.5,214 1271.7,220 1293.7,239.7 1313.7,258.2 1322.7,267 1331.1,276 1341.7,289 1351.7,303.4 1359.3,316 1365.7,329 1369.2,338 1372.2,347 1377.3,366 1382.6,392 1383.9,401 1384.6,410 1384.8,418 1384.5,425 1383.8,432 1382.5,440 1381,446 1378.6,454 1373.2,467 1368.5,476 1362.2,486 1355.7,494.8 1345.7,507.1 1339.7,516 1330.1,533 1320.5,552 1313.7,561.6 1300.6,579 841.7,579Z"/>
<path fill="#1bbeb9" d="M841.7,214 1255.9,214 1262.7,220 1286.7,239.5 1307.3,257 1317.2,266 1325.7,274.5 1337.4,288 1347.7,301.8 1354.9,313 1360.7,324 1364.2,332 1367.5,341 1369.7,348 1373,360 1378.8,387 1381,400 1381.9,409 1382.2,423 1381.6,431 1380.6,438 1379.1,445 1377.1,452 1374.6,459 1371.5,466 1365.7,477 1358.7,487.6 1350.7,497.8 1339,511 1335.8,515 1324.9,533 1313.5,554 1306.7,562.5 1292.8,579 841.7,579Z"/>
<path fill="#1ac4b1" d="M841.7,214 1245.5,214 1253.1,220 1278.7,238.8 1296.7,252.7 1308.1,262 1318.7,271.6 1330.6,284 1342.1,298 1350.5,310 1357.2,322 1360.9,330 1364.6,340 1368.3,352 1372,366 1374.9,379 1377.4,392 1379.4,409 1379.9,423 1379.3,432 1378.3,439 1376.8,446 1374.4,454 1372.1,460 1369,467 1362.9,478 1358.9,484 1354.7,489.7 1346.7,499.4 1331.1,516 1328,520 1319.7,533 1306.8,555 1300.7,562.1 1284.8,579 841.7,579Z"/>
<path fill="#1bcaaa" d="M841.7,214 1234.1,214 1242.6,220 1271.7,239.2 1286.7,249.8 1301.8,261 1313.7,270.9 1323.7,280.5 1338.5,297 1346.7,308.1 1353.2,319 1356.7,326 1360.5,335 1365.3,349 1368,358 1371,370 1373.8,383 1376,396 1377.2,405 1377.9,419 1377.6,428 1376.6,437 1375.2,444 1373.4,451 1370.9,458 1367.9,465 1364.3,472 1360.7,478.1 1356.7,484 1351.7,490.5 1342.7,500.7 1322.1,522 1314.6,533 1299.1,557 1293.7,562.6 1276.5,579 841.7,579Z"/>
<path fill="#1dd0a4" d="M841.7,214 1221.3,214 1230.8,220 1256.7,235.1 1270.7,243.7 1291.7,257.6 1304.7,267.2 1318.4,279 1332.2,293 1337.7,299.4 1342,305 1349.2,316 1352.9,323 1356.6,331 1362.1,345 1365.4,355 1368.1,365 1370.1,374 1373.5,392 1375.4,405 1376.1,412 1376.2,419 1376,426 1375,435 1373.3,444 1371.7,450 1369,458 1366,465 1359.7,476.4 1351.7,487.6 1346.7,493.5 1340.7,499.9 1315.2,525 1291.7,558 1283.7,565.5 1267.6,579 841.7,579Z"/>
<path fill="#1fd59d" d="M841.7,214 1206.1,214 1219.2,221 1247.7,235.5 1261.5,243 1283.7,256.3 1298.1,266 1304.8,271 1313.7,278.3 1327.7,291.4 1337.2,302 1341,307 1345.7,314 1350.7,323 1356.3,335 1360.1,344 1363.2,353 1365.4,361 1368.3,374 1372.4,396 1373.8,405 1374.5,412 1374.8,419 1374.5,426 1373.8,433 1372.5,440 1369.9,450 1367.1,458 1364.1,465 1360.7,471.3 1357.2,477 1352.7,483.4 1348.7,488.4 1343.7,494 1337.7,500.1 1316.1,520 1309,527 1292.2,549 1283.1,560 1274.7,566.7 1258,579 841.7,579Z"/>
<path fill="#26da90" d="M852.3,214 1187.4,214 1234.7,234.7 1247.7,240.6 1256.4,245 1269.7,252.2 1287.7,262.7 1300.7,271.4 1315.4,283 1325.7,292.3 1334.7,302.1 1342.7,313 1349.6,325 1354.2,334 1357.4,341 1360.1,348 1362.8,357 1365.4,368 1367.6,379 1371.6,401 1372.8,410 1373.3,417 1373.4,423 1372.9,430 1372,436 1369.1,448 1365.9,457 1363.2,463 1359.5,470 1355.7,476.2 1350.7,483.2 1345.7,489.1 1340.7,494.4 1334.7,500.2 1312,520 1303.5,528 1286.7,548.2 1275.8,560 1273.4,562 1266.7,566.7 1247.4,579 841.7,579 841.7,218.3Z"/>
<path fill="#2edd82" d="M903.5,214 1163.1,214 1190.7,223.5 1236.7,240.7 1246.7,245 1255.7,249.3 1278.7,261.1 1293.7,270.1 1306.7,279.1 1317.9,288 1327.7,297.2 1335.4,306 1341.8,315 1350.7,330 1356.3,342 1360.7,355 1364.3,370 1370.5,404 1371.5,412 1372,419 1372,425 1371.5,431 1369.6,442 1368,448 1365.4,455 1360.7,465 1357.2,471 1351.8,479 1347,485 1341.5,491 1331.7,500.2 1307.7,520 1298.9,528 1294.9,532 1280.6,548 1270.4,558 1265.6,562 1259.7,565.6 1248.7,571.8 1235,579 857.9,579 841.7,571.5 841.7,236.8 855.7,230.6 865.7,226.7 882.7,220.6Z"/>
<path fill="#35e174" d="M969.2,214 1129.3,214 1148.7,219.4 1181.7,228 1217.7,239.1 1234.7,244.8 1252.7,252.3 1271.7,261.2 1283.7,267.5 1296.7,275.3 1308.7,283.5 1318.7,291.5 1325.7,298 1333.7,306.9 1342.7,319.4 1349.2,330 1354.5,341 1358.4,352 1359.8,357 1363,371 1369.1,405 1370.3,414 1370.7,424 1370.5,430 1369.7,436 1367.2,447 1365.2,453 1363,458 1360,464 1356.5,470 1351.7,476.9 1347.6,482 1338.7,491.3 1328.7,500.1 1308.3,516 1298.6,524 1289.8,532 1274.3,548 1263.7,557.3 1257.1,562 1248.7,566.4 1235.7,572.4 1219.9,579 903.2,579 886.7,572.9 870.2,566 856.7,559.6 841.7,551.6 841.7,255.8 855.1,249 865.7,244.2 882.7,237.4 896.7,232.4 909.7,228.4 926.7,223.8Z"/>
<path fill="#43e269" d="M1044,217 1058.7,216.5 1071.7,216.6 1085.7,217.3 1100.7,218.5 1127.4,224 1170.7,232.3 1220.7,245.1 1230.4,248 1247.7,254.6 1264.7,261.6 1278.7,268.2 1290.7,274.8 1300.7,280.9 1310.7,287.7 1318.7,294.1 1324.7,299.7 1329.7,305 1340,318 1346.7,328.2 1352.6,340 1355.4,347 1358.2,356 1362.1,373 1365.3,390 1368.5,410 1369.5,420 1369.3,430 1368.1,439 1365.9,448 1362.5,457 1357.9,466 1353.4,473 1346.2,482 1341.5,487 1333.7,494 1298.7,520 1288.1,529 1275.7,540.9 1267.7,548 1261.5,553 1254.5,558 1247.7,561.9 1229.7,569.3 1212.7,575 1198.4,579 958.8,579 938.7,573.8 922.7,569 907.7,564 891.7,557.8 877.7,551.4 865.7,545.3 853.7,538.3 841.7,530.6 841.7,275.6 852.8,269 862,264 873.7,258.3 882.7,254.3 901.5,247 926.7,239 943.7,234.4 960.7,230.2 1003.7,220.9 1023.7,218.5Z"/>
<path fill="#51e35e" d="M1056.1,228 1076.7,227.4 1088.7,227.5 1092.7,227.8 1162.7,237.7 1203.7,246 1220.7,249.8 1234.7,254.2 1252.7,260.5 1265.7,265.6 1277.7,271 1291.7,278.4 1301.7,284.3 1309.7,289.6 1318.7,296.7 1327.3,305 1338.4,318 1343.9,326 1349.4,336 1354,347 1357,357 1361.3,374 1364.6,392 1367.7,414 1368.3,421 1368.1,431 1366.9,440 1365.5,446 1363.9,451 1359.7,461 1353.8,471 1346.9,480 1340.2,487 1332.2,494 1322.7,500.8 1307.7,510 1299.2,516 1288.9,524 1264.7,545.1 1254.7,552.4 1244.7,558.4 1238.7,561.1 1228.7,564.6 1219.7,567.4 1207.7,570.6 1187.7,574.6 1156.7,579 1036.5,579 1019.7,576.9 1003.7,574.5 991.7,572.3 975.7,568.9 954.7,563.7 935.7,558 917.7,551.6 900.7,544.5 885.3,537 870.7,528.6 856.7,519.2 841.7,507.5 841.7,297.4 850.3,291 858.7,285.4 871.1,278 882.7,271.9 892.7,267.2 906.7,261.3 918,257 930.7,252.7 944.7,248.4 960.3,244 995.7,235.2 1027.7,230.6 1041.7,229.1Z"/>
<path fill="#5fe454" d="M1071.6,237 1083.7,236.7 1153.7,243.2 1199.7,250.4 1214.7,253.2 1230.7,257.5 1247.7,262.6 1260.7,267.1 1270.4,271 1287.7,279.2 1299.7,285.7 1310.7,292.9 1319.7,300.1 1329.7,309.8 1336.8,318 1342.7,326.3 1348,336 1353,348 1358.1,365 1361.2,378 1363.6,392 1366.5,414 1367.2,423 1366.9,432 1365.7,441 1362.9,451 1360.6,457 1358.2,462 1355.4,467 1352.2,472 1345.7,480.2 1337.7,488.3 1327.7,496.3 1321.7,500.4 1314.7,504.6 1303.7,510.4 1301.9,511 1298.7,513 1289,520 1265.7,539.3 1259.6,544 1247.7,551.7 1238.7,556.3 1232.7,558.7 1221.7,562 1208.7,565.1 1197.7,567.2 1177.7,569.7 1155.7,571.5 1141.7,572.2 1124.7,572.6 1102.7,572.3 1067.7,570.4 1049.7,569 1029.7,566.6 1010.7,563.6 992.7,560.1 975.7,555.9 958.5,551 941.7,545.3 924.7,538.6 909.7,531.6 895.6,524 882.7,516 870.3,507 859.4,498 850,489 841.7,480 841.7,323.8 848.1,317 858.1,308 868.6,300 882.3,291 892.7,285 906.7,277.9 918.7,272.5 932.7,266.9 944.7,262.6 959.7,257.7 977.7,252.3 989.7,249.1 1012.7,244.5 1035.7,240.7 1053.7,238.4Z"/>
<path fill="#6be44c" d="M1070.6,246 1076.7,245.7 1145.7,249.2 1201.7,255.6 1221.7,259.7 1243.7,265.2 1256.7,269.1 1261.9,271 1280.7,279 1291.7,284 1301.7,289.4 1311.7,296 1319.3,302 1328.7,310.7 1336,319 1341.7,327 1346.7,336 1351.7,348 1356.1,361 1359.5,374 1362.1,388 1364.4,405 1365.9,421 1366,430 1365,439 1362.7,449 1358.8,459 1353.2,469 1346.6,478 1342.1,483 1336.9,488 1331.7,492.4 1325.7,496.8 1318.7,501.3 1311.7,505.2 1290.9,515 1284.1,520 1265.7,534.7 1258.7,540 1250.7,545.2 1241.7,550.2 1234.7,553.3 1227.7,555.9 1212.7,559.6 1203.7,561.3 1190.7,563.1 1177.7,564.2 1168.7,564.6 1142.7,565.2 1124.7,565.1 1106.7,564.4 1089.7,563.2 1058.7,560.2 1040.7,557.9 1019.7,554.3 999.7,549.9 983.7,545.6 966.2,540 950.7,534.2 935.7,527.6 920.7,520 907.2,512 894.1,503 883.7,494.7 877.3,489 870.7,482.3 864.9,476 857.8,467 849.3,454 844.7,445 841.7,438.3 841.7,364.7 847.9,352 852.8,344 856.3,339 863.6,330 871.7,321.6 880.3,314 887.9,308 899.7,300 909.7,294 923.7,286.7 936.7,280.6 952.7,274.1 968.7,268.2 979.7,264.5 993.7,260.7 1017.7,254.9 1035.7,251.1 1053.7,248.1Z"/>
<path fill="#76e444" d="M1061.3,256 1067.7,255.1 1071.7,255 1137.7,255.5 1157.7,257.2 1194.7,259.8 1216.7,263.2 1234.7,266.7 1248.7,270.1 1251.7,271 1274.7,279.6 1286.7,284.4 1296.7,289.1 1305.7,294.3 1316.7,301.8 1323.7,307.6 1330.7,314.6 1337.6,323 1342.2,330 1348.5,343 1353.6,356 1357.2,368 1359.6,379 1362.3,396 1364.3,414 1365,426 1364.5,436 1362.6,446 1359.2,456 1354.8,465 1348.8,474 1343.7,480.2 1338,486 1331.7,491.4 1324.7,496.5 1317.7,500.9 1309.7,505.2 1300.7,509.3 1288.7,514.2 1283.2,517 1258.2,536 1251.7,540.3 1243.7,544.8 1237.7,547.7 1230.7,550.5 1218.7,554 1208.7,555.9 1199.7,557.3 1181.7,558.9 1164.7,559.3 1133.7,558.7 1116.7,557.9 1102.7,556.9 1083.7,554.8 1054.7,550.7 1036.7,547.5 1021.7,544.3 1005.7,540.2 990.7,535.6 976.7,530.6 961.7,524.3 949.7,518.6 935.6,511 922.8,503 912.7,495.7 904.4,489 894.6,480 886.4,471 880.1,463 874.2,454 869.3,445 865.4,436 862.5,427 860.5,418 859.1,406 859.1,397 860.1,388 861.9,379 864.6,370 868.4,361 873.3,352 879.3,343 885.9,335 891.7,328.9 900.3,321 909.2,314 917.8,308 929.7,300.6 941.7,294.1 954.7,287.8 969.7,281.4 990.7,274.1 1011.7,267.7 1029.7,262.7 1045.7,259Z"/>
<path fill="#82e43d" d="M1101.7,263 1130.7,262.1 1153.7,263.3 1186.7,264.2 1216.7,267.7 1238.7,271.3 1247.7,273.8 1274.7,282.6 1282.7,285.5 1291.7,289.1 1299.7,293 1307.7,297.5 1315.7,302.9 1322.7,308.5 1330.7,316.5 1338.3,326 1342.5,333 1349.6,348 1353.7,359.1 1357.3,372 1359.5,383 1361.9,400 1363.4,414 1364,426 1363.6,435 1362.1,444 1359.5,453 1355.5,462 1350.1,471 1343.7,479.1 1338.7,484.3 1332.7,489.7 1326.7,494.2 1320.7,498.2 1313.7,502.2 1304.7,506.5 1278.3,517 1254.7,534.3 1246.9,539 1238.7,543.1 1232.7,545.6 1225.7,548 1212.7,551.1 1194.7,553.4 1185.7,554 1173.7,554.4 1155.7,554 1124.7,552 1107.7,550.5 1094.7,548.9 1076.7,546.1 1050.7,541.1 1035.7,537.7 1021.7,534 1007.7,529.7 994.7,525 982.8,520 970.5,514 956.7,506.5 943.7,498.3 932.7,490.3 923.7,482.9 916.3,476 908,467 901,458 895.3,449 891.1,441 887.4,432 884.7,423 882.9,414 882.2,405 882.3,396 883.3,388 885.4,379 888.5,370 892.7,361 898.1,352 904.1,344 910.2,337 917.7,329.6 927.7,321.2 937.7,313.9 946.7,308 960.8,300 971,295 982.6,290 1000.7,283 1024.7,274.7 1040.7,269.8 1056.7,265.8 1060.7,265 1066.7,264.6Z"/>
<path fill="#8de437" d="M1123.7,269.1 1148.7,269.6 1178.7,269.2 1212.7,271.5 1233.3,274 1269.7,284 1282.7,288.1 1291.7,291.5 1301.7,296.1 1309.7,300.6 1316.7,305.3 1322.7,310.2 1330.4,318 1336.9,326 1341.2,333 1348.7,348.2 1353.4,361 1356.4,372 1358.7,384 1361.1,401 1362.7,418 1362.9,428 1362.4,437 1361,445 1358.2,454 1354.1,463 1349.1,471 1342.7,479.1 1336.9,485 1331.1,490 1324.7,494.7 1317.7,499 1309.7,503.2 1300.7,507.2 1291.7,510.6 1276.1,516 1274,517 1270.6,519 1260.7,526.3 1252.7,531.7 1245.7,535.8 1237,540 1225.7,544.1 1212.7,547.2 1204.7,548.3 1195.7,549.1 1177.7,549.8 1164.7,549.5 1150.7,548.6 1116.7,545.1 1099.7,542.8 1085.7,540.4 1071.7,537.5 1046.7,531.2 1035.2,528 1021.7,523.6 1009.4,519 997.7,513.9 985.7,508 975.3,502 966.1,496 956.5,489 945.4,480 936.9,472 929.7,464.1 924.8,458 918.7,449 914.3,441 910.4,432 907.5,423 905.8,414 905,405 905.3,396 906.4,388 908.7,379 912.1,370 916.1,362 919.8,356 925.6,348 933.5,339 941.9,331 950.7,323.7 959.9,317 969.7,310.8 982.1,304 994.5,298 1009.7,291.3 1033.7,281.9 1045.3,278 1053.7,275.6 1078.7,272.7Z"/>
<path fill="#96e434" d="M1171.7,274.7 1199.7,275.2 1212.7,275.7 1223.7,276.5 1234.7,278.7 1256.7,283.7 1278.7,289.3 1287.7,292.1 1296.7,295.6 1302.7,298.4 1309.7,302.3 1315.7,306.2 1321.7,311 1326.9,316 1332.7,322.5 1338.1,330 1345.3,343 1349.7,353 1353.7,365 1356.2,375 1358.4,388 1360.9,409 1361.9,423 1361.8,433 1361.1,440 1359.3,448 1356.5,456 1352.6,464 1348.2,471 1342.7,478 1336.9,484 1331.7,488.6 1325.7,493.1 1320.7,496.4 1313.7,500.3 1305.7,504.1 1297.7,507.4 1271.9,516 1267.3,518 1256.7,525.4 1247.7,531 1239.7,535.2 1231.7,538.5 1220.7,541.8 1212.7,543.5 1206.7,544.3 1190.7,545.3 1172.7,545.3 1159.7,544.6 1146.7,543.3 1113.7,538.6 1097.7,535.9 1082.7,532.7 1069.7,529.3 1057.7,525.7 1039.7,519.8 1026.8,515 1015.7,510.3 1003.7,504.4 992.5,498 983.4,492 974,485 965.9,478 958.7,471 950.7,462 944.5,454 938.7,445 934.1,436 930.7,427 928.4,418 927.3,410 927,401 927.9,392 929.8,383 933,374 936.7,366 942.2,357 945.8,352 953.4,343 960.7,335.6 967,330 976.7,322.6 985,317 994.7,311.2 1008,304 1020.3,298 1034.7,291.7 1046.7,287 1060.7,284.2 1077.7,281.4 1116.7,276.4 1140.7,276.1Z"/>
<path fill="#a0e231" d="M1208.7,279.7 1217.7,280.1 1234.7,282.9 1260.7,287.7 1278.7,291.7 1287.7,294.2 1295.7,297 1301.7,299.7 1308.7,303.4 1314.7,307.2 1319.8,311 1325.2,316 1330.7,322 1335.7,328.4 1342.2,339 1346.7,348 1350.6,358 1354.1,370 1356.9,384 1359.1,401 1360.7,418 1360.9,431 1360.3,439 1359,446 1356.4,454 1353.3,461 1349.4,468 1344.3,475 1338.7,481.3 1332.7,486.8 1322.7,494.2 1315.7,498.3 1309.7,501.3 1302.7,504.4 1294.7,507.4 1264.8,517 1262.6,518 1251.7,525.2 1243.7,529.7 1237.7,532.6 1229.7,535.7 1222.7,537.8 1216.7,539.2 1203.7,541.1 1192.7,541.4 1168.7,540.7 1155.7,539.6 1141.7,537.7 1100.7,530 1089.7,527.4 1077.4,524 1064.9,520 1053.7,515.9 1037.2,509 1026.7,504.2 1015.7,498.5 1006.5,493 996.3,486 988.6,480 978.8,471 971.5,463 967.5,458 961.3,449 956.4,440 952.7,431 950.2,423 948.5,414 947.9,405 948.3,396 949.5,388 952,379 955.6,370 958.8,364 963.2,357 970.1,348 977.6,340 984.2,334 991.7,327.9 1000.7,321.5 1009.7,315.7 1020.7,309.2 1030.6,304 1040.7,299.2 1052.7,295.7 1065.7,292.5 1079.7,289.5 1096.7,286.4 1111.7,284 1137.7,282.7 1163.7,280.6Z"/>
<path fill="#a9de31" d="M1201.9,284 1208.7,283.9 1217.7,284.7 1252.7,289.4 1278.7,294 1287.7,296.2 1294.7,298.5 1301.7,301.4 1308.7,305 1313.7,308.1 1318.7,311.7 1323.5,316 1328.3,321 1333.3,327 1338.1,334 1343.7,343.7 1347.9,353 1351.3,363 1354.1,374 1357,391 1359,409 1359.9,423 1359.7,435 1358.5,444 1357,450 1354.4,457 1350.9,464 1346.7,470.6 1341.7,477 1336.7,482.2 1330.7,487.5 1325.7,491.3 1319.7,495.2 1313.7,498.5 1306.7,501.8 1299.7,504.6 1291.7,507.3 1266.7,514.7 1259.9,517 1257.8,518 1247.7,524.2 1241.7,527.4 1234.7,530.5 1225.7,533.6 1219.7,535.2 1212.7,536.6 1199.7,537.9 1188.7,537.8 1168.7,536.5 1154.7,534.9 1139.7,532.5 1128.7,530.2 1104.7,524.6 1092.7,521.4 1081.7,518 1071.7,514.5 1060.7,510.2 1047.7,504.2 1034.7,497.4 1025.7,492.3 1015.7,485.8 1007.9,480 998.7,472 993.6,467 985.8,458 980.1,450 976.5,444 972.6,436 969.3,427 967.1,418 966.1,410 966,401 967,392 969.1,383 972,375 974.8,369 979.4,361 985.2,353 991.2,346 998.2,339 1007.7,330.9 1021.2,321 1035.7,312.1 1046.7,307.9 1059.7,303.6 1072.7,299.8 1086.7,296.2 1106.7,291.9 1134.7,289.3 1155.7,286.9Z"/>
<path fill="#b2da31" d="M1192.9,289 1200.7,288.4 1212.7,288.6 1243.7,291.4 1274.7,295.5 1283.7,297.2 1291.7,299.3 1297.7,301.3 1304.7,304.5 1309.7,307.1 1315.7,311.1 1320.7,315.1 1324.7,318.9 1330.7,325.5 1334.3,330 1340.1,339 1344.7,347.8 1348.5,357 1351.3,366 1353.8,377 1356.2,392 1358,409 1358.9,423 1358.8,432 1358.2,440 1356.7,448 1354.7,454 1351.6,461 1347.6,468 1342.4,475 1336.7,481.2 1330.7,486.6 1323.7,491.7 1316.7,496 1308.7,500 1300.7,503.2 1292.7,505.9 1257.3,516 1253.7,517.5 1240.7,524.7 1231.7,528.5 1221.7,531.5 1212.7,533.3 1202.7,534.4 1190.7,534.5 1181.7,533.8 1159.7,531.2 1148.7,529.5 1137.7,527.3 1124.3,524 1101.7,517.5 1082.3,511 1072.5,507 1062.7,502.5 1053.9,498 1044.7,492.7 1037.3,488 1026,480 1017.7,473.3 1011,467 1003.7,459 999,453 993.8,445 989.3,436 985.9,427 983.9,419 983.1,414 982.6,405 983.2,396 984.7,388 986,383 989.5,374 994.2,365 999.5,357 1006.9,348 1011.7,343 1019.2,336 1026.5,330 1030.7,327 1035.7,324.3 1047.7,318.5 1060.7,313 1073.7,308.3 1087.4,304 1098.7,300.8 1104.7,299.8 1148.7,293.6Z"/>
<path fill="#bbd532" d="M1198.7,293 1207.7,292.7 1216.7,292.9 1243.7,294.4 1274.7,297.7 1283.7,299.2 1291.7,301 1296.7,302.6 1304.7,306.1 1309.7,308.7 1314.8,312 1319.7,315.8 1323.7,319.5 1329.7,325.9 1333,330 1339,339 1343.8,348 1347.7,357.5 1350.6,367 1353.2,379 1355.2,392 1357,410 1357.8,423 1357.5,437 1356.6,444 1354.7,451.7 1351.7,459.1 1347.7,466.5 1343.1,473 1337.7,479.2 1329.7,486.5 1320.7,492.8 1310.7,498.1 1299.7,502.6 1287.7,506.3 1267.7,511.5 1251.8,516 1237.7,523.1 1230.7,525.8 1224.7,527.6 1216.7,529.5 1208.7,530.7 1199.7,531.3 1190.7,531.2 1182.7,530.6 1175.7,529.6 1152.7,525.7 1138.7,522.7 1128.7,520.1 1118.4,517 1090.5,507 1080.7,502.9 1071.7,498.6 1063.2,494 1054.9,489 1047.5,484 1039.7,478.2 1033.5,473 1027.1,467 1021.3,461 1015.5,454 1009.4,445 1006.6,440 1003,432 1000.1,423 998.6,415 998,409 998.1,401 999.2,392 1001.2,384 1003.3,378 1007,370 1012.4,361 1018.4,353 1023.7,347 1028.2,343 1037.7,336.2 1046.7,330.5 1054.9,326 1064.7,321.2 1073.7,317.3 1093.7,309.9 1108.7,306.7 1142.7,300.4 1162.7,297.9 1189.7,293.8Z"/>
<path fill="#c3d033" d="M1202.2,297 1226.7,296.6 1243.7,297.3 1274.7,299.9 1283.7,301 1291.7,302.7 1296.7,304.3 1304.7,307.6 1313.7,312.8 1318.7,316.6 1322.7,320.1 1327.7,325.2 1331.8,330 1336.7,337 1341.8,346 1345.8,355 1348.7,363.8 1351.3,375 1353.7,388.1 1355.2,401 1356.7,420.5 1356.9,428 1356.6,436 1355.4,445 1354,451 1351.4,458 1348.3,464 1344.5,470 1339.7,476 1331.7,483.9 1322.7,490.6 1313.7,495.8 1301.7,500.9 1288.7,504.9 1264,511 1249.4,515 1246.4,516 1234.7,521.4 1223.7,525 1216.7,526.5 1209.7,527.5 1203.7,528 1195.7,528.2 1186.7,527.7 1177.7,526.6 1150.7,520.9 1133.7,516.6 1115.7,510.6 1090.7,500 1076.8,493 1069.9,489 1061.7,483.6 1053.7,477.7 1046.8,472 1039.5,465 1033.2,458 1029.2,453 1023.8,445 1019.4,437 1016.9,431 1014.3,423 1012.6,414 1012.1,406 1012.3,400 1013.3,392 1015.7,383 1018.9,375 1021.5,370 1024.8,365 1030.7,357.8 1035.7,352.6 1040.8,348 1047,343 1055.7,336.9 1064.7,331.4 1072.8,327 1083.2,322 1090.7,318.9 1112.8,313 1137.7,307.3 1155.7,304.6 1187.7,298.6Z"/>
<path fill="#cbcb34" d="M1216.6,300 1230.7,299.6 1269.7,301.4 1283.7,302.8 1290,304 1294.7,305.3 1301.7,307.9 1306.7,310.2 1311.7,313.1 1317.3,317 1322.7,321.7 1327,326 1330.7,330.3 1334.7,335.8 1339.7,343.9 1343.7,352.2 1346.7,361 1349.7,372.4 1352,384 1353.7,396 1354.9,410 1355.8,427 1355.5,436 1354.9,442 1353.5,449 1351.7,455 1349.6,460 1345.7,466.9 1341.3,473 1336.7,478.2 1329.7,484.6 1320.7,491 1310.7,496.3 1299.7,500.7 1287.7,504.1 1262.7,509.9 1245.7,514.3 1241.7,515.6 1230.7,520.1 1221.7,522.7 1215.7,523.8 1207.7,524.8 1194.7,525.1 1181.7,523.9 1167.7,521.2 1136.7,512.7 1126.7,509.4 1116.7,505.5 1108.7,502 1100.6,498 1087.7,491.1 1079.7,486.4 1071.6,481 1064.9,476 1054.7,467 1048.1,460 1043.2,454 1038.4,447 1034.3,440 1030.7,432 1028.9,427 1026.7,418 1025.8,410 1025.9,401 1026.6,396 1028.2,389 1030.2,383 1034,375 1037.1,370 1040.6,365 1047.5,357 1052.6,352 1057.7,347.6 1064.7,342.3 1073.7,336.3 1085.7,329.5 1100.7,323.9 1114.7,319.5 1132.7,314.5 1155.7,310.2 1185.7,303.2 1198.7,301.2Z"/>
<path fill="#d2c636" d="M1214.9,303 1221.7,302.5 1229.7,302.3 1265.7,303.1 1280.7,304.2 1287.7,305.3 1292.7,306.4 1297.8,308 1304.7,310.8 1309.7,313.4 1314.7,316.7 1320.2,321 1324.7,325.2 1329.1,330 1332.7,334.6 1338.1,343 1341.7,350.1 1344.7,358.6 1348.7,372.8 1350.9,383 1352.6,395 1353.5,405 1354.6,423 1354.8,429 1354.4,437 1353.4,445 1351.7,451.7 1348.7,460 1347.1,463 1343.7,468.6 1339.6,474 1331.7,482 1322.7,488.9 1312.7,494.5 1300.7,499.4 1287.7,503 1262.7,508.4 1240,514 1229.7,517.8 1221.7,520 1212.7,521.5 1199.7,522.2 1192.7,522 1185.7,521.3 1177.7,520 1169.7,518.3 1160.7,515.7 1139.8,509 1126.7,504.3 1112.7,498.1 1099.7,491 1082.8,480 1072.5,472 1066,466 1059.4,459 1054.6,453 1049.3,445 1046.6,440 1043,432 1041.4,427 1039.3,418 1038.6,410 1039,401 1040.2,394 1041.9,388 1043.8,383 1047.9,375 1051.7,369.1 1056.4,363 1061.9,357 1066.7,352.5 1071.9,348 1079.7,342.3 1085.3,339 1092.7,335.4 1108.7,328.7 1127.7,322.1 1155.7,315.7 1183.7,307.8 1194.7,305.6Z"/>
<path fill="#d8be36" d="M1247.7,304.7 1274.7,305.6 1287.7,307.1 1296.7,309.3 1306.7,313.4 1312.9,317 1317.7,320.5 1322.7,324.8 1327.7,330 1331.7,335 1334.7,339.3 1338,345 1341,352 1345.7,366 1349,379 1350.7,388.1 1351.9,398 1353.6,428 1353.6,435 1353,441 1352.1,446 1350.2,453 1348,459 1345.6,464 1343.7,467.3 1338.7,473.9 1331.7,481.1 1326.9,485 1322.7,488 1317.7,491 1311.9,494 1300.7,498.4 1288.7,501.8 1262.3,507 1236.5,513 1221.7,517.4 1212.7,518.8 1203.7,519.3 1190.7,518.8 1179.7,517.2 1167.7,514.4 1154.4,510 1130.7,500.8 1116.1,494 1107.7,489.3 1100.9,485 1088.7,476 1079.5,468 1074.4,463 1069.8,458 1063.7,450 1060.6,445 1056,436 1053.1,428 1051.8,423 1050.6,415 1050.3,409 1050.9,401 1052.8,392 1055.7,384 1058.1,379 1061,374 1066.7,366 1071,361 1075.7,356.3 1079.7,352.9 1086.7,348 1095,343 1102.5,339 1113.4,334 1123.2,330 1155.7,321.1 1162.7,318.9 1175.9,314 1186.7,310.9 1211.7,306.1 1220.7,305.2Z"/>
<path fill="#ddb736" d="M1238.6,307 1252.7,306.9 1278.7,307.8 1289.7,309.3 1299.7,312.1 1304.7,314.1 1309.7,316.7 1317.7,322.1 1322.7,326.4 1326.7,330.6 1330.4,335 1333.8,340 1336,344 1337.8,348 1342.8,361 1345.9,371 1348.7,382.7 1350.7,396.1 1351.1,401 1352.5,433 1352.2,439 1351.3,445 1350.1,450 1348.1,456 1346,461 1343.4,466 1341.5,469 1337.6,474 1329.7,481.8 1321.3,488 1311.7,493.2 1306.7,495.4 1299.7,497.8 1287.7,501 1258.7,506.3 1232.5,512 1220.7,515.1 1212.7,516.3 1203.7,516.7 1190.7,515.9 1179.7,514.1 1168.7,511.4 1155.7,506.8 1130.7,495.8 1119.4,490 1107.7,482.8 1096.1,474 1088.4,467 1083.7,462 1077.1,454 1073.5,449 1069.7,442.7 1066.4,436 1064.2,430 1062.3,423 1061.5,418 1061,410 1061.8,401 1062.8,396 1064.7,389.5 1067.4,383 1071.8,375 1075.3,370 1078.8,366 1083.8,361 1088.4,357 1095.1,352 1101.2,348 1108,344 1119.7,338.1 1155.7,326.5 1168.2,321 1177.7,317.4 1199.7,311.2 1207.7,309.4 1216.7,308.2Z"/>
<path fill="#e3af36" d="M1230.7,309.4 1238.7,309.2 1265.7,309.3 1282.7,310.2 1291.7,311.6 1300.7,314.2 1305.7,316.2 1309.7,318.3 1313.7,320.8 1317.7,323.7 1322.7,328.1 1325.5,331 1328.8,335 1331.5,339 1336,348 1339.9,357 1343.7,367.7 1346.6,379 1348.7,391.6 1350.4,409 1351.2,437 1350.2,445 1348.1,453 1344.9,461 1341,468 1336.5,474 1329.7,480.8 1322.7,486.1 1314.3,491 1306.7,494.4 1296.7,497.8 1286.7,500.3 1255.7,505.4 1216.7,513.3 1208.7,514 1199.7,514 1189.7,512.9 1181.7,511.5 1171.8,509 1161.7,505.6 1151.7,501.4 1140.7,496 1124.7,487.4 1114.7,481.1 1105.7,474.4 1096.7,466.2 1089.2,458 1082.7,449 1078.2,441 1074.5,432 1072,423 1071,415 1070.9,409 1072,400 1074.1,392 1078,383 1082.7,375.5 1086.7,370.4 1091.7,365 1099.7,358 1106.4,353 1114.2,348 1117.7,346.2 1151.7,333.4 1165.7,326.3 1174.7,322.4 1193.7,315.7 1199.7,313.8 1207.7,312 1214.7,310.9Z"/>
<path fill="#e4a833" d="M1225.3,312 1234.7,311.5 1265.7,311.2 1278.7,311.8 1291.7,313.5 1297.7,315 1302.7,316.7 1309.6,320 1315.9,324 1322.7,330 1326.6,335 1329.1,339 1331.7,343.4 1336,352 1339.8,361 1341.2,365 1344.7,378 1347,392 1348.8,410 1349.3,419 1349.8,439 1349.2,445 1346.7,454 1343.4,462 1339.9,468 1335.7,473.4 1330.3,479 1322.7,485.1 1315.7,489.3 1308.7,492.6 1297.7,496.6 1285.7,499.6 1274.7,501.4 1253.7,504.3 1234.7,508.1 1217.7,510.7 1211.7,511.4 1204.7,511.6 1197.7,511.2 1190.7,510.3 1179.7,508 1169.7,505.1 1159.7,501.3 1149.7,496.6 1137.9,490 1122.2,480 1114,474 1105.7,466.7 1097.7,458 1092.7,451.2 1088.8,445 1084.6,436 1081.7,427 1080.2,418 1080.1,410 1081.2,401 1083.2,394 1085.6,388 1088.1,383 1091.7,377.5 1096.7,371.1 1101.5,366 1107.1,361 1113.7,356 1146.7,341.3 1158.7,334.3 1167.7,329.5 1190.7,319.4 1197.7,317 1204.7,315.1 1212.7,313.6Z"/>
<path fill="#e4a12f" d="M1255.5,313 1270.7,313.2 1278.7,313.8 1286.7,314.9 1296.8,317 1302.6,319 1307.2,321 1315,326 1319.3,330 1322.7,333.8 1326.5,339 1329.6,344 1334.5,353 1337.9,361 1340.7,369.4 1343.1,379 1344.7,387.4 1346.1,400 1347.5,419 1348.3,442 1347.9,446 1347,450 1345.3,455 1343.2,460 1339.4,467 1333.7,474.3 1330,478 1325.7,481.7 1321.7,484.7 1316.7,487.8 1306.7,492.5 1294.7,496.5 1287.7,498.2 1278.7,499.8 1249.7,503.6 1229.7,507.1 1212.7,509 1203.7,509.2 1192.7,508 1180.7,505.3 1169.7,501.8 1158.7,497.2 1147.7,491.5 1135.8,484 1124.9,476 1114.2,467 1109.2,462 1104.9,457 1099.8,450 1096.7,444.8 1093,437 1091.2,432 1089.5,425 1088.6,418 1088.6,410 1089.2,405 1090.5,399 1092.8,392 1096.2,385 1099.3,380 1103.8,374 1107.4,370 1109.7,367.7 1113.7,365 1127.7,357 1142.7,349.2 1158.6,339 1165.7,334.8 1184.7,324.9 1193.7,320.9 1199.7,318.9 1204.7,317.6 1221.7,314.6Z"/>
<path fill="#e49a2c" d="M1255.7,315 1269.7,315.1 1282.7,316.4 1291.7,318.3 1296.7,319.7 1302.8,322 1310.1,326 1316.3,331 1320.2,335 1323.5,339 1329.5,348 1331.7,352 1335.7,360.7 1339.7,372.6 1342.4,385 1344,397 1346.1,431 1346.6,446 1345.9,450 1344.6,454 1342.2,460 1339.5,465 1336.7,469.2 1332.7,474 1328.7,478 1324.7,481.4 1320.7,484.3 1315.7,487.3 1309.7,490.3 1304.7,492.4 1294.7,495.6 1282.7,498.2 1269.7,500.1 1245.7,502.8 1229.7,505.4 1221.7,506.2 1206.7,506.8 1198.7,506.3 1190.7,505.1 1180.7,502.4 1168.7,498.1 1158.7,493.5 1148.9,488 1140.7,482.6 1132,476 1124,469 1116.9,462 1112.7,457.3 1107.3,450 1104.3,445 1100.5,437 1098.5,431 1096.8,423 1096.3,418 1096.4,410 1098,401 1099.5,396 1101.6,391 1105.7,383.3 1108.7,379.3 1113.6,375 1125.9,366 1141.7,356 1152.7,347.8 1165.7,339 1180.5,330 1189.7,325.2 1195.7,322.7 1201.7,320.7 1216.7,317.7 1221.7,317Z"/>
<path fill="#e4912a" d="M1257,317 1269.7,317.3 1282.7,318.9 1291.7,321 1296.7,322.7 1302.7,325.3 1310.4,330 1313.7,332.6 1317.7,336.4 1323.4,343 1326.8,348 1329.1,352 1331.7,356.9 1333.7,361.6 1336.8,370 1339.1,383 1342.2,414 1344.1,436 1344.7,449 1343.7,453.6 1339.6,463 1335.6,469 1329.4,476 1322.7,481.8 1315.7,486.3 1307.7,490.2 1298.7,493.5 1289.7,495.9 1278.7,497.9 1241.7,501.9 1225.7,504.1 1217.7,504.5 1203.7,504.4 1192.7,502.9 1181.7,500 1168.7,494.8 1157.3,489 1149.7,484.3 1142.4,479 1135.1,473 1128.7,467 1123.1,461 1117.3,454 1113.7,448.9 1109.7,441.8 1107.2,436 1105.6,431 1103.9,423 1103.5,418 1103.7,410 1104.5,405 1105.8,400 1107,397 1108.7,393.8 1112.8,388 1117,383 1126.7,374 1137.7,365.7 1159.3,348 1176.7,335.4 1187.5,329 1193.7,326 1199,324 1212.7,320.9 1221.7,319.7 1232.7,319 1247.7,317.5Z"/>
<path fill="#e48929" d="M1246.3,320 1260.7,319.5 1273.7,320.4 1283.8,322 1295.7,325.5 1305,330 1311.9,335 1317.7,340.5 1323.7,348 1326.7,352.9 1329.1,358 1331.5,365 1332.6,370 1334.1,383 1335,396 1336.6,411 1339.7,424 1341.8,440 1342.3,453 1342,455 1340.9,458 1337.9,464 1333.6,470 1328.1,476 1321.7,481.4 1315.7,485.3 1308.7,488.9 1300.6,492 1291.7,494.6 1283.7,496.2 1273.7,497.6 1241.7,500.6 1226.7,502.3 1219.7,502.7 1212.7,502.6 1198.7,501.5 1190.7,499.9 1181.1,497 1172.7,493.5 1164.7,489.4 1157.2,485 1149.9,480 1142.5,474 1135,467 1130.5,462 1124.9,455 1120.9,449 1116.6,441 1114.5,436 1112.2,428 1111.5,423 1111.3,418 1112.1,410 1113.5,405 1115,401 1118.7,394.1 1123,388 1127.3,383 1154.7,357 1171.1,343 1176.2,339 1182,335 1187.7,331.6 1192.7,329.1 1203.7,325.3 1212.7,323.6 1227.7,322.5Z"/>
<path fill="#e37f26" d="M1240.9,323 1251.7,322.2 1260.7,322.3 1276.7,323.9 1286.1,326 1297,330 1305.7,334.8 1309.8,338 1313.7,341.6 1318.7,347.7 1322.7,354.9 1324.6,361 1325.8,370 1325.7,374 1326.1,378 1327.9,390 1328.6,397 1330.7,405.1 1333.6,424 1335.7,428.7 1336.4,431 1339.3,445 1340,454 1339.6,458 1338.9,460 1337.3,463 1333.2,469 1327.8,475 1321.7,480.3 1316.2,484 1309.7,487.5 1300.9,491 1292.7,493.4 1282.7,495.4 1269.7,497 1221.7,500.9 1213.7,500.9 1207.7,500.4 1195.7,498.6 1187.7,496.5 1180.7,494 1172.7,490.4 1164.9,486 1157.3,481 1150.7,476 1145.1,471 1139.2,465 1133.4,458 1128,450 1125.3,445 1122.7,439 1120.6,432 1119.6,427 1119.2,419 1119.7,414 1121.1,408 1123.7,401 1126.4,396 1130.7,389.8 1136.2,383 1151.7,366 1165.6,352 1174.3,344 1180.6,339 1186.7,335 1190.7,332.9 1198.7,329.8 1203.7,328.2 1208.7,327.2 1220.7,326.8 1234.7,323.9ZM1286.7,398 1282.7,400.2 1277.8,404 1273.9,408 1270.9,412 1268.1,417 1266.9,421 1267.1,423 1267.7,424 1268.9,425 1271.3,426 1274.7,426.4 1278.6,426 1281.7,425.1 1284,424 1287.1,422 1289.7,419.6 1291.8,417 1293.7,413.4 1294.8,410 1295.2,406 1294.7,401.6 1293.7,399.3 1291.7,397.5 1289.7,397.2Z"/>
<path fill="#e37520" d="M1236.9,326 1243.7,325.3 1247.7,325.5 1250.6,326 1252.7,327.5 1255,330 1255.1,331 1257.8,334 1258.2,335 1257.4,338 1257.4,340 1266.7,354.3 1269,357 1271.7,358.9 1274.7,359.9 1278.7,360 1297.7,356.7 1301.7,356.8 1303.7,357.3 1306.7,358.8 1310.7,363 1313.7,367.8 1315.7,372 1319,381 1321.4,390 1323.2,400 1325.8,418 1328.2,423 1330.1,431 1330.7,433 1332.3,436 1336.2,449 1337.2,458 1337.1,460 1336.7,462 1333.6,467 1329.7,471.7 1325.5,476 1317.8,482 1308.7,487 1298.7,490.8 1287.7,493.6 1278.7,495 1261.7,496.6 1225.7,499 1217.7,499.3 1207.7,498.5 1194.7,495.9 1185.7,493.2 1175.7,488.8 1165.9,483 1156.4,476 1148.6,469 1142.2,462 1136.4,454 1131.5,445 1129.5,440 1127.4,433 1126.6,428 1126.3,423 1126.5,418 1127.1,414 1128,410 1129.8,405 1132.7,398.9 1140.1,388 1150.9,374 1165.3,357 1175,347 1183.5,340 1185.7,338.8 1198.7,333.1 1204.7,331.4 1213.7,332.1 1225.7,328.3ZM1283.7,384 1280.7,384.9 1276.7,387 1272.7,389.7 1268.7,392.9 1265.5,396 1262,400 1259,404 1256.6,408 1254,414 1253.7,416 1253.8,418 1254.5,420 1255.8,422 1257.9,424 1260.9,426 1266.3,428 1269.7,428.5 1274.7,428.6 1279.7,427.6 1283.8,426 1288.5,423 1291.7,419.9 1294.7,415.5 1296.6,411 1297.7,406 1297.7,400 1296.7,395.2 1295.7,392.6 1293.7,389 1290.7,385.8 1287.7,384.2 1285.7,383.8Z"/>
<path fill="#e26b1b" d="M1229,330 1234.7,329.2 1238.7,329.5 1241.7,330.5 1243.7,332 1246.6,335 1248.5,342 1253.7,350.3 1256.8,357 1260.4,363 1263.4,366 1271.1,370 1272.1,371 1272.1,372 1271.4,373 1260.7,381.1 1253.5,388 1247.7,395.6 1245.7,399.1 1244.5,402 1243.8,405 1243.7,408 1244.3,411 1245.4,414 1247.1,417 1249.3,420 1252.4,423 1255.1,425 1260.9,428 1266.7,429.5 1272.7,430 1278.7,429.1 1284.4,427 1288.7,424.3 1292.7,420.6 1296,416 1298.2,411 1299.4,406 1299.7,401 1298.9,395 1297.7,390.8 1295.7,386.4 1291.7,380.4 1285,373 1284.8,372 1285.4,371 1288.7,369.6 1292.7,369 1296.7,369.3 1299.7,370.2 1303.7,372.2 1306.7,374.8 1309.4,378 1311.9,382 1314.5,388 1316.6,395 1318.1,403 1320.3,418 1322.3,427 1325,432 1326.8,439 1331.7,450.4 1332.7,454 1333.4,458 1333.6,463 1333.1,465 1332.1,467 1326.2,474 1323,477 1319.2,480 1310.9,485 1306.7,487 1298.5,490 1292.7,491.5 1283.8,493 1269.7,494.7 1252.7,496 1221.7,497.5 1212.7,497.3 1203.7,496 1190.7,492.3 1183.7,489.6 1174.7,485.1 1166.9,480 1158.2,473 1150.2,465 1144.6,458 1139.1,449 1135.3,440 1133.3,432 1132.8,427 1132.7,423 1133.1,418 1134,414 1135.3,410 1137.4,405 1139.4,401 1144.6,392 1153.3,379 1166.4,361 1174,352 1178.7,347.4 1183.9,344 1190.7,340.4 1195.7,338 1199.7,336.9 1203.7,337.2 1205.7,338 1206.7,338 1217.7,333.3 1221.7,331.9Z"/>
<path fill="#e06217" d="M1223.7,334 1229.7,333.2 1233.7,333.7 1237.1,335 1239.3,337 1240.9,339 1242.4,344 1247.1,352 1254.8,368 1255.3,370 1255.2,371 1254.2,373 1245.7,382.9 1241.6,389 1239.7,393 1238.7,396.5 1238.3,400 1238.6,404 1239.3,407 1240.7,410.6 1242.7,414.4 1245.2,418 1247.9,421 1251.3,424 1254.2,426 1258,428 1263.7,430 1268.7,430.8 1272.7,430.9 1277.7,430.3 1281.7,429.2 1285.7,427.4 1289.5,425 1293.9,421 1296.9,417 1299.4,412 1301.1,406 1301.6,401 1301.3,396 1300.4,391 1298.2,383 1298.3,381 1298.7,380.6 1299.7,380.5 1301.7,381.4 1304.7,384 1306.7,386.8 1309.7,393 1311.4,399 1312.7,405.4 1315,421 1316.6,428 1318.7,433.9 1320.6,437 1321.9,440 1323,446 1324.8,449 1325.7,452.1 1328,457 1329,462 1328.8,467 1327.7,470.1 1324.8,474 1322.9,476 1315.7,481.3 1308.7,485 1296.8,489 1287.7,490.9 1274.7,492.8 1252.7,494.8 1230.7,495.7 1217.7,495.8 1208.7,495 1199.7,493.1 1191.7,490.3 1181.7,485.8 1173.5,481 1166.7,476 1159.1,469 1153,462 1148.1,455 1145.3,450 1143,445 1141.2,440 1140.2,436 1139.6,432 1139.3,427 1139.5,423 1140.3,418 1142.6,410 1146.5,401 1151.3,392 1164.6,370 1170.6,361 1173.7,357.4 1178.7,352.9 1186.4,347 1190.7,344.5 1192.7,343.9 1194.7,343.6 1199.7,344.4 1200.7,344.2 1212.7,337.8 1217.7,335.8Z"/>
<path fill="#db5913" d="M1219.6,338 1223.7,337.2 1227.7,337.1 1230.7,337.7 1233.7,339.4 1235.7,342.1 1237.8,347 1241.7,354.1 1247.8,368 1248.4,371 1248,373 1246.4,376 1240.7,384.4 1238.2,389 1236.2,395 1235.7,400 1236.9,406 1239.7,412.3 1244.5,419 1249.7,424 1256,428 1260.7,429.9 1264.6,431 1268.7,431.6 1272.7,431.7 1276.7,431.3 1280.7,430.4 1284.5,429 1287.7,427.4 1290.7,425.5 1293.8,423 1296.6,420 1299,417 1303.7,408.7 1304.7,407.4 1305.7,407.7 1306.9,411 1309.2,423 1311,430 1315.4,441 1317.5,445 1318.3,451 1320,454 1320.9,457 1322.7,461 1323.2,463 1323.4,467 1321.7,472 1318.7,476.3 1313.7,480.2 1305.8,484 1295.7,487.3 1286.7,489.6 1273.7,491.6 1260.7,492.9 1243.7,493.9 1221.7,494.2 1210.7,493.5 1202.7,492 1194.7,489.4 1186.7,485.7 1178.5,481 1171.5,476 1165.9,471 1160.3,465 1155.1,458 1150.2,449 1147.3,441 1146.2,436 1145.8,432 1145.7,427 1146,423 1147.8,414 1151.1,405 1152.9,401 1165.7,376.5 1169.9,370 1174,365 1181,357 1185.7,353.3 1186.7,352.6 1190.7,351.4 1193.7,351.9 1195.7,351 1199.6,348 1207.7,342.9 1212.7,340.4Z"/>
<path fill="#d7510e" d="M1222.7,340.7 1225.7,340.8 1228.4,342 1230.7,344 1237.1,357 1241.9,370 1242.5,373 1242,376 1235.1,390 1233.8,395 1233.6,399 1234.5,404 1237,410 1240.8,416 1245.1,421 1251.1,426 1256.7,429.1 1263.7,431.5 1270.7,432.4 1276.7,432 1282.7,430.7 1289.7,427.6 1298.7,421.9 1300.7,421.6 1301.7,422.4 1302.9,425 1306.5,436 1309.7,442.9 1310.7,446 1312.4,449 1313.2,453 1313.4,456 1314.7,458.5 1315.8,464 1316.7,467 1315.9,471 1313.7,475 1310.3,478 1307.5,480 1299.1,484 1291.7,486.6 1281.9,489 1269.7,490.8 1256.7,492 1243.7,492.5 1221.7,492.6 1210.7,491.8 1203.7,490.4 1195.7,487.8 1188.7,484.5 1182.9,481 1175.7,475.6 1169.4,470 1164,464 1159.8,458 1157.5,454 1155.1,449 1152.8,442 1151.6,436 1151.3,432 1151.4,427 1152.4,419 1153.7,413.7 1157,405 1163.3,392 1168.4,383 1176.5,370 1181.7,363.6 1185.7,360.6 1186.7,360.2 1188.7,360 1198.1,352 1203.7,347.9 1212.7,343.2 1216.7,341.8Z"/>
<path fill="#d34a0c" d="M1218.7,344.4 1221.7,344.2 1223.7,345 1225.7,346.3 1227.3,348 1228.4,350 1232.7,360.1 1235.7,371 1236.2,376 1235.4,380 1232.5,388 1231.4,392 1231,396 1231.3,400 1232.9,405 1234.9,409 1238.8,415 1243,420 1247.7,424.3 1253.1,428 1259.7,431 1265.7,432.5 1271.7,433.1 1278.7,432.5 1283.7,431.4 1293.7,428.2 1295.7,428.3 1296.7,428.9 1297.5,430 1301.7,440.5 1305.2,448 1306,451 1307.5,454 1308,458 1307.6,460 1308.8,463 1309.4,467 1308.9,471 1306.8,475 1305,477 1301.1,480 1295.3,483 1286.7,486.1 1276.7,488.5 1265.8,490 1247.7,491.1 1230.7,491.2 1218.7,490.8 1210.7,490 1203.7,488.5 1197.7,486.6 1190.7,483.4 1185.1,480 1179.7,476 1174.2,471 1168.9,465 1164.7,459 1161.3,453 1158.2,445 1156.8,439 1156,432 1156,427 1157.3,419 1158.7,414 1162.4,405 1166.7,396.1 1172.7,385.8 1177.7,375.3 1181.7,370.3 1185,368 1190.7,361.7 1194.7,357.7 1199.7,353.6 1208.4,348 1212.7,346Z"/>
<path fill="#d0430a" d="M1215.9,348 1218.7,348 1221.7,349.7 1223.9,352 1225.4,355 1228.4,364 1229.8,373 1229.5,380 1227.5,392 1227.5,396 1227.9,399 1228.9,402 1231,406 1235.2,412 1240.1,418 1245.1,423 1250.3,427 1255.7,430 1260.7,431.9 1266.7,433.3 1272.7,433.8 1277.7,433.5 1286.7,432.2 1289.7,432.1 1291.8,433 1293.4,435 1299.7,450.3 1301.1,455 1302.3,458 1302.4,459 1301.8,465 1302.5,467 1302,471 1301.7,472 1299.2,476 1294.2,480 1287.7,483.2 1282.7,485 1270.7,487.8 1261.7,489 1247.7,489.7 1230.7,489.7 1217.7,489 1208.7,487.9 1202.7,486.4 1195.7,483.7 1190.4,481 1184.7,477.3 1179.7,473.2 1175.4,469 1170.7,463.2 1167.3,458 1163.8,451 1161.7,445 1160.4,439 1159.9,432 1160.1,427 1161.5,420 1163.3,414 1166.4,406 1171.7,395.8 1175.2,387 1177.7,381.8 1190.7,364.9 1195.7,360 1203.7,353.6 1208.7,350.6 1212.7,348.9Z"/>
<path fill="#cc3c08" d="M1212.6,352 1214.7,352.1 1217.7,353.4 1220.4,356 1221.4,358 1223.9,368 1224.3,372 1224.3,378 1223.2,391 1223.4,396 1224.3,400 1225,402 1226.7,405 1228.2,407 1244.1,423 1249.3,427 1254.4,430 1260.7,432.5 1267.7,434.1 1272.7,434.5 1284.7,434.6 1286,435 1287.6,436 1289,438 1295.5,454 1296.8,462 1295.2,469 1295.2,471 1294,474 1292.8,476 1287.8,480 1281.7,482.7 1274.8,485 1265.7,486.8 1256.3,488 1247.7,488.3 1225.7,487.9 1216.7,487.1 1208.7,486 1202.7,484.5 1197.7,482.6 1191.7,479.6 1186.7,476.3 1181.5,472 1177.5,468 1173.5,463 1170.2,458 1167.7,453 1165.5,447 1164,441 1163.5,436 1163.5,432 1163.9,427 1165.7,418.5 1167.7,412.4 1171.7,403.4 1174.3,396 1177.7,388 1186.7,373.5 1190.7,368.4 1194.7,364.2 1199.7,359.6 1203.7,356.4 1207.7,354Z"/>
<path fill="#c83607" d="M1207.9,357 1209.7,356.6 1212.7,357 1215.7,359.2 1217.2,361 1218.7,368 1219.4,373 1219.5,377 1219.1,391 1219.6,397 1220.3,400 1221.7,403.6 1223.7,406.8 1225.6,409 1235.7,416.4 1245.7,425.1 1249.7,428 1253.7,430.3 1258.7,432.5 1264.7,434.2 1280.7,436.4 1282.7,437.4 1284.2,439 1286.1,443 1290.4,456 1290.9,458 1290.6,460 1291.1,463 1290.5,467 1288.9,470 1286.8,475 1286.1,476 1283.9,478 1281.2,480 1276.7,482 1269.7,484.1 1260.7,485.8 1251.7,486.6 1243.7,486.8 1222.7,486 1216.7,485.4 1209.7,484.2 1203.7,482.8 1198.7,481 1193.7,478.5 1188.7,475.3 1183.7,471.2 1179.5,467 1176.3,463 1173.1,458 1169.7,451 1167.9,445 1166.9,439 1166.8,432 1167.4,426 1168.9,419 1175,401 1177.7,394.1 1181.7,386.1 1185.8,379 1189.4,374 1194.7,367.6 1199.7,362.6 1203.7,359.5Z"/>
<path fill="#c73006" d="M1206.3,362 1208.7,362.2 1210.3,363 1212.7,364.6 1213.4,366 1214.5,372 1215.1,381 1215.3,392 1216,398 1217,402 1218.3,405 1219.7,407.4 1221.7,410 1225.7,413.3 1235.7,418.3 1246.7,426.7 1252.7,430.4 1257.7,432.7 1262.7,434.4 1276.7,437.6 1279.1,439 1280.6,441 1281.8,444 1286.1,458 1285.2,467 1283,471 1279.4,476 1274.1,480 1269.7,481.8 1262.7,483.5 1256.7,484.4 1247.7,485.1 1238.7,484.9 1220.7,483.9 1216.7,483.6 1210.7,482.4 1204.7,480.9 1199.3,479 1194.7,476.9 1190.7,474.4 1186.5,471 1182.4,467 1179.1,463 1175.8,458 1173.3,453 1171.2,447 1170.1,441 1169.7,436 1169.9,430 1170.9,423 1176,405 1177.7,400.4 1181.7,391.4 1186.2,383 1190.7,376.3 1195.7,370.1 1199.7,366 1203.7,362.8 1204.7,362.2Z"/>
<path fill="#c52a05" d="M1201.2,369 1203.7,368.3 1204.7,368.5 1207.7,369.5 1208.7,370.2 1209.2,371 1209.8,373 1210.4,377 1211.8,395 1212.7,400 1214,404 1215.7,407.8 1217.7,410.8 1219.7,413 1222.1,415 1225.7,417 1233.7,419.5 1236.7,420.7 1247.7,428.1 1253.7,431.6 1260.7,434.5 1272.4,438 1274.2,439 1276.1,441 1277.4,444 1281.3,458 1280.9,462 1280,465 1279.7,467 1277.5,471 1272.7,476 1269.7,478 1266.1,480 1261.7,481.4 1256.7,482.4 1248.7,483.1 1234.7,482.9 1213,481 1202.6,478 1197.9,476 1193.7,473.7 1189.7,470.9 1185.7,467.4 1183.5,465 1179.7,460 1176.9,455 1175.2,451 1173.8,446 1172.9,441 1172.5,436 1172.7,431 1173.1,427 1174.8,418 1177.7,407.5 1181.7,397.6 1186.5,388 1190.7,381 1194.7,375.4 1199.5,370Z"/>
<path fill="#c32505" d="M1199.7,376.7 1203.7,377.1 1205.4,379 1206.7,384 1207.9,396 1209.9,403 1212.8,410 1215.6,414 1217.7,416.1 1221.7,418.9 1225.7,420.5 1234.7,422.2 1237.7,423.1 1253.7,432.3 1258.7,434.6 1267.9,438 1269.7,439 1271.8,441 1273.2,444 1276.6,458 1276.1,462 1274.6,465 1274.2,467 1271.6,471 1265.7,476 1260.7,478.5 1256.5,480 1252.7,480.8 1247.7,481.2 1234.7,480.9 1209.7,478 1202.7,475.8 1198.7,473.9 1194.7,471.6 1188.7,466.9 1185.7,463.8 1182.8,460 1180.3,456 1178.1,451 1176.5,446 1175.5,441 1175.2,436 1175.3,432 1177.1,419 1178.3,414 1181.6,405 1185.7,396.2 1190.7,387 1194.7,380.8 1195.7,379.3 1197.7,377.6Z"/>
<path fill="#c11f04" d="M1199.7,388.8 1201.7,391.5 1205.7,404 1210.2,413 1212.7,416.4 1216.7,420 1220.7,422.4 1225.7,424.1 1229.7,424.7 1236.7,425 1240.7,426.2 1252.7,432.7 1264,438 1265.7,439 1267.7,441 1268.7,443 1269.5,446 1271.4,458 1271.3,459 1270.6,463 1268.5,467 1264.7,471.6 1257.6,476 1252.7,477.6 1248.7,478.5 1242.7,479 1230.7,478.2 1204.1,474 1199.7,472 1195,469 1191.3,466 1187.4,462 1184.5,458 1182.2,454 1180.1,449 1178.9,445 1178.1,440 1177.9,436 1179.1,423 1180,419 1181.6,414 1185.7,404.5 1188.7,399.8 1190.7,395.9 1194.7,389.9 1195.7,389.4Z"/>
<path fill="#bf1903" d="M1195.1,406 1195.7,405.9 1199.7,407.5 1205.7,415.3 1209.7,419.5 1215.7,424 1218.7,425.7 1222.7,427.2 1226.7,428 1230.7,428.3 1237.7,427.9 1241.7,428.6 1245.2,430 1254.9,435 1261.8,439 1263.6,441 1264.7,444 1266.6,458 1265.7,462 1265.2,463 1261.7,467.7 1258.2,471 1256.7,471.9 1249.7,474.8 1243.7,476 1234.7,476.2 1225.7,474.9 1209.7,471.1 1201.7,469.7 1197.7,468 1193.7,465 1190.7,462 1187.5,458 1183.6,451 1181.7,445.4 1181,436 1181.7,426.8 1182.6,423 1185.7,415 1186.7,413.2 1190.7,408.8 1192.7,408Z"/>
<path fill="#bd1302" d="M1190.7,421.8 1195.7,422.1 1199.7,421.5 1203.7,423.4 1204.7,424.3 1206.7,425.2 1212.7,427.5 1215.7,429 1222.7,431.3 1225.7,432 1229.7,432.3 1239.7,431.4 1242.7,431.5 1247.5,433 1253.3,436 1257.4,439 1258.9,441 1259.6,443 1261.4,458 1259.7,462 1255,467 1249.7,470.3 1247.7,471.1 1243.7,472.1 1237.7,472.7 1230.7,472.5 1221.7,470.9 1203.7,465.3 1198.7,463.3 1193.7,459.2 1190.7,455.8 1187.7,450.5 1185.7,445 1184.9,436 1185.3,432 1186.7,426.9 1188.7,423.4Z"/>
<path fill="#bb0d01" d="M1194.5,435 1195.7,435 1199.7,436 1200.7,436.6 1201.7,436.4 1203.7,434.6 1207.7,434.8 1209.7,435.4 1212.7,434.9 1216.7,435 1230.7,437.1 1234.7,437.1 1242.7,436.3 1244.7,436.4 1247.4,437 1250.7,439 1252.7,442 1253.8,447 1254.7,458 1251.7,462 1245.6,466 1243.7,467.1 1238.7,468.1 1230.7,468.1 1225.7,467.5 1221.7,466.6 1212.7,463.5 1203.7,459.2 1202,458 1197.7,454 1194.5,450 1192.2,445 1191.6,441 1191.7,440 1192.7,436.6 1193,436Z"/>
<path fill="#b90800" d="M1225.7,442.6 1231.7,443.2 1237.7,444.9 1241.7,446.8 1244.5,450 1245.6,453 1245.4,455 1244.1,458 1241.7,459 1236.3,460 1234.7,460.8 1230.7,461.3 1225.7,460.3 1220.5,458 1216.2,454 1214.6,450 1214.6,449 1216.7,447.4 1218.9,447 1219.6,446 1219.9,445 1220.8,444 1221.7,443.4Z"/>
</g>
<g fill="none" stroke-opacity="0.8" stroke-width="2">
<path d="M1452.9,214 1456.5,236 1461.9,259 1467.7,279.6 1482.3,327 1487.7,346.4" stroke="#222fff"/>
<path d="M1397.2,214 1400.8,225 1405.7,238 1430.1,292 1440.9,320 1446.2,337 1450,352 1453,368 1455,383 1456,397 1456.3,412 1455.9,427 1454.6,443 1451.2,469 1439.8,539 1435.1,579" stroke="#364fff"/>
<path d="M1364.7,214 1367.6,225 1372.5,239 1379.7,251.8 1405,294 1412.9,309 1419.2,323 1425,339 1429.5,355 1432.5,370 1434.6,387 1435.5,404 1435.1,421 1433.4,438 1430.6,455 1424.7,479.4 1414.5,514 1396.3,579" stroke="#4873ff"/>
<path d="M1340.2,214 1345.5,227 1359.4,253 1390.8,303 1398.7,317 1403.7,327.2 1409.6,342 1414.2,357 1417.9,374 1419.8,390 1420.5,406 1419.7,422 1417.6,438 1414.3,453 1411.4,463 1407.1,475 1392.7,509.6 1386.8,525 1381.3,542 1370.5,579" stroke="#5598ff"/>
<path d="M1318.6,214 1327.5,229 1350.3,264 1370,293 1377.8,306 1386.3,322 1394.3,340 1400.2,357 1404.5,375 1406.9,393 1407.5,409 1406.6,424 1404.3,439 1400.4,454 1396.1,466 1391.8,476 1375.5,509 1369.6,522 1361.7,542 1349.3,579" stroke="#4db0ff"/>
<path d="M1297.9,214 1305.3,224 1349.6,280 1359.3,294 1368.7,310 1378.5,330 1386.8,352 1390.6,365 1392.7,374 1394.5,384 1395.8,395 1396.4,411 1395.2,427 1392.1,443 1387.4,458 1382.9,469 1377.7,480 1354.1,524 1344,548 1329.2,579" stroke="#3dc3ff"/>
<path d="M1276.4,214 1322.7,261.3 1331.6,271 1345.7,288.5 1356.6,305 1363.9,318 1368.3,327 1372.8,338 1376.2,348 1383,374 1385.7,388 1387.5,401 1388.1,418 1386.9,432 1383.3,448 1377.8,463 1373.5,472 1368.7,480.3 1354.7,501 1343,520 1336.4,533 1329.1,549 1309.8,579" stroke="#34d7ff"/>
<path d="M1252.2,214 1300.7,253 1316.6,267 1324.7,275 1332.8,284 1343.1,297 1349.6,306 1355.1,315 1359.8,324 1364.4,335 1368.2,346 1373.2,365 1376.3,379 1378.4,390 1380.7,406 1381.3,414 1381.4,423 1380.7,432 1379.4,440 1375.3,455 1368.7,470.2 1363,480 1355.7,490.4 1332.9,517 1323,533 1310.6,555 1289.9,579" stroke="#2cebe8"/>
<path d="M1222.1,214 1265.7,240.2 1284.7,252.6 1297.7,261.7 1308.7,270.2 1318.6,279 1330.7,291.2 1337.7,299.2 1345.6,310 1351.5,320 1356.3,330 1362.9,347 1366.1,357 1369.4,370 1375.2,402 1376.1,412 1376.3,421 1375.3,433 1374.1,441 1372.1,449 1369.1,458 1365.1,467 1360.7,475 1354.6,484 1345.7,494.8 1315.5,525 1291.2,559 1268.2,579" stroke="#2dfdd1"/>
<path d="M1175.7,214 1238.7,239.2 1250.7,244.6 1265.7,252.3 1282.7,261.6 1296.7,270.4 1310.7,280.7 1322.7,290.9 1332.4,301 1340.2,311 1347.6,323 1355.3,338 1359.3,348 1362.2,358 1365,370 1369.9,396 1371.9,409 1372.6,418 1372.4,428 1371.2,437 1368.8,447 1365.6,456 1360.8,466 1354.1,477 1347.2,486 1338.7,495 1309.8,520 1300.1,529 1283.6,548 1271.9,560 1261.7,567 1241.2,579M841.7,227.9 856.7,221.6 878,214" stroke="#39ffb6"/>
<path d="M841.7,277.6 854.7,269.8 864.7,264.4 888.7,253.4 916.7,243.5 945.7,235.2 974.7,228.3 1004.7,222 1026.7,219.5 1043.7,218.2 1058.7,217.7 1075.7,217.9 1099.7,219.4 1168.7,232.6 1212.7,243.4 1227.7,247.6 1256.7,258.6 1281.7,270 1303.7,283.1 1317.7,293.5 1324.7,299.9 1330.3,306 1338.7,316.5 1344,324 1348.1,331 1352.5,340 1355.6,348 1358,356 1363.4,380 1368.2,409 1369.3,419 1369.3,428 1368.4,437 1366.1,447 1362.8,456 1358.9,464 1353.3,473 1346.1,482 1339.2,489 1328.5,498 1298.2,520 1287.6,529 1270.7,544.9 1259.7,553.8 1248.7,561 1235.7,566.6 1215.7,573.5 1195.7,579M964.7,579 944.7,574 926.7,568.8 909.7,563.2 893.7,557 880.4,551 865.7,543.4 854.7,537 841.7,528.6" stroke="#55ff8e"/>
<path d="M841.7,348 851.4,334 856.7,327.6 863.1,321 876.9,309 891.7,298.5 910.7,287.6 933.3,277 956.6,268 983.7,259.1 1011.7,252.5 1035.7,247.7 1056.7,244.6 1076.7,242.7 1147.7,247.1 1203.7,254.3 1230.7,260.4 1251.7,266.4 1264.8,271 1282.7,278.8 1295.7,285.2 1308.7,293.1 1319.7,301.6 1329.7,311.1 1337.7,320.5 1344,330 1349.8,342 1354.8,356 1358.9,370 1362.1,386 1365.3,410 1366.4,426 1365.8,436 1364.1,445 1360.8,455 1356.5,464 1350.8,473 1344.3,481 1336.7,488.5 1327.7,495.7 1313.7,504.4 1295.8,513 1292.5,515 1256.7,542.9 1247.7,548.5 1238.7,553.1 1227.7,557.4 1209.7,561.7 1190.7,564.7 1172.7,566.3 1141.7,567.4 1115.7,567.3 1093.7,566.2 1054.7,562.8 1029.7,559.5 1005.7,555 984.7,549.9 963.7,543.6 944.7,536.6 925.4,528 907.7,518.5 890,507 875.7,495.7 863.4,484 852.3,471 841.7,455.3" stroke="#7fff6d"/>
<path d="M1124,264 1129.7,263.8 1153.7,264.9 1185.7,265.5 1216.7,268.7 1239.7,272.4 1278.7,284.7 1295.7,291.6 1305.7,296.8 1313.7,301.9 1320.7,307.2 1327.7,313.7 1335.7,323 1340.7,330.4 1347.5,344 1352.8,357 1356.6,370 1359.2,383 1361.8,401 1363.4,418 1363.7,428 1363.3,436 1361.9,444 1359.2,453 1355.8,461 1351.2,469 1345.7,476.5 1338.8,484 1329.5,492 1317.7,499.7 1301.7,507.6 1278.7,516.2 1252.7,534.6 1243.7,539.7 1234.7,543.9 1220.7,548.4 1204.7,551.3 1185.7,552.9 1164.7,553.1 1119.7,550.1 1087.7,546.1 1071.7,543.3 1044.7,537.6 1028.7,533.5 1013.9,529 999.9,524 986.7,518.5 973.5,512 960.7,504.8 949.9,498 937.4,489 926.8,480 919.7,473.1 910.8,463 904.3,454 898.9,445 894.7,436 891.5,427 889.3,418 888.2,410 887.9,401 888.5,392 890.2,383 892.9,374 896.2,366 901,357 907.2,348 918.6,335 928.4,326 940,317 952.1,309 962.4,303 973.7,297.4 986.7,291.6 1021.7,278.3 1041.5,272 1058.7,267.6 1085.7,265.7 1124,264" stroke="#a2ff56"/>
<path d="M1196,279 1215.7,279.2 1225.7,280.5 1269.7,289.1 1282.7,292.3 1292.7,295.6 1306.7,301.9 1318.7,309.9 1328.7,319.3 1337,330 1343.7,341.5 1348.2,351 1351.8,361 1354.7,372 1357.7,388 1359.7,405 1361,422 1360.9,434 1360.2,441 1358.3,449 1355.4,457 1351.7,464.4 1347.5,471 1341.9,478 1336.1,484 1329.7,489.4 1320.7,495.6 1309.7,501.5 1294.7,507.6 1265.7,517 1263.4,518 1251.7,525.8 1243.7,530.3 1234.7,534.4 1225.7,537.6 1212.7,540.6 1199.7,541.9 1177.7,541.9 1160.7,540.9 1135.7,537.6 1106.7,532.3 1089.7,528.6 1063.7,521 1036.7,510.6 1015.7,500.6 1004.4,494 995.4,488 985.1,480 977.7,473.3 971.6,467 964.1,458 958,449 953.6,441 949.8,432 946.9,423 945,414 944.5,409 944.4,401 945.3,392 947.3,383 950.5,374 954.7,365.2 959.7,357 965.7,349.1 971.1,343 978.7,335.6 986.6,329 1003.8,317 1026.8,304 1042.7,296.6 1056.7,293 1082.7,287.5 1111.7,282.7 1139.7,281.4 1164.7,279.6 1196,279" stroke="#c1ff47"/>
<path d="M1191,291 1199.7,290.3 1208.7,290.2 1238.7,292.2 1273.7,296.2 1289.7,299.4 1295.7,301.2 1301.7,303.7 1308.7,307.2 1313.7,310.3 1322.7,317.5 1333,329 1339.7,339 1343.9,347 1348.1,357 1350.9,366 1353.7,378.5 1355.8,392 1357.7,410 1358.4,423 1357.9,439 1356.6,447 1354.8,453 1351.8,460 1347.9,467 1342.9,474 1337.7,479.8 1329.7,487 1320.7,493.3 1310.7,498.7 1299.7,503.2 1287.7,507 1255.1,516 1238.7,524.4 1231.7,527.2 1224.7,529.4 1216.7,531.3 1208.7,532.5 1199.7,533.2 1190.7,533.1 1181.7,532.5 1159.7,529.5 1138.7,525.6 1118.7,520.3 1087.4,510 1068.6,502 1048.7,491 1032.8,480 1017.6,467 1009.7,458.4 1004.8,452 1000.2,445 995.6,436 992.2,427 990.3,419 989.5,414 988.9,405 989.5,396 991,388 992.4,383 995.9,374 1000.1,366 1004.7,358.9 1010,352 1017.3,344 1028.7,333.7 1044.7,324.5 1065.7,315 1091.7,305.9 1099.7,303.7 1146.7,296.2 1191,291" stroke="#deff46"/>
<path d="M1215.9,300 1230.7,299.5 1269.7,301.4 1282.7,302.6 1292.7,304.7 1304.7,309.2 1309.7,311.8 1315.7,315.8 1322,321 1326.7,325.7 1334.7,335.7 1339.7,343.9 1343.7,352.1 1346.7,360.9 1349.7,372.3 1352.1,384 1353.7,396 1355.8,427 1355.6,436 1354.9,442 1353.5,449 1351.7,455 1349.6,460 1345.7,467 1341.3,473 1336.9,478 1329.7,484.7 1320.7,491 1310.7,496.4 1299.7,500.7 1287.7,504.1 1262.7,509.9 1245.7,514.3 1230.7,520.2 1221.7,522.7 1207.7,524.8 1194.7,525.1 1181.7,524 1167.7,521.2 1137.3,513 1116.7,505.6 1100.3,498 1079.7,486.6 1064.7,476 1054.5,467 1042.9,454 1038.1,447 1034,440 1028.6,427 1026.4,418 1025.5,410 1025.6,401 1026.3,396 1027.1,392 1029.9,383 1033.7,375 1036.8,370 1040.3,365 1047.2,357 1056.9,348 1064.7,342 1072.7,336.7 1084.7,329.8 1099.7,324.1 1132.7,314.4 1155.7,310.1 1185.7,303.1 1198.7,301.2 1215.9,300" stroke="#f6ff49"/>
<path d="M1241.3,306 1265.7,306.3 1281.7,307.2 1291.7,308.9 1301.7,312.1 1312.7,317.8 1322.7,325.7 1330.2,334 1336.7,343.8 1340.5,353 1344.7,365 1349.4,384 1351.7,402 1353,433 1351.7,445 1348.2,457 1343.4,467 1336.7,475.5 1328.8,483 1320.7,488.8 1310.8,494 1299.7,498.2 1287.7,501.5 1262.7,506.1 1232.7,512.8 1220.7,516.2 1212.7,517.4 1202.7,517.8 1190.7,517.2 1177.7,515.1 1164.7,511.6 1151.7,506.9 1128.5,497 1114.8,490 1100.7,481 1088.4,471 1075.8,458 1070.7,451.5 1066.4,445 1063.7,440 1060.3,432 1057.8,423 1056.9,418 1056.4,410 1056.6,405 1057.2,400 1059.1,392 1062.1,384 1065.1,378 1070.2,370 1074.7,364.3 1082.7,356.8 1094.9,348 1108.7,340.2 1121.7,334.3 1155.7,324.1 1175.7,316.3 1188.7,312.5 1203.7,309 1212.7,307.5 1221.7,306.6 1241.3,306" stroke="#ffec4b"/>
<path d="M1229.7,312 1269.7,311.5 1282.7,312.4 1291.7,313.8 1302.7,316.9 1309.2,320 1315.5,324 1322.7,330.5 1328.8,339 1335.8,352 1341,365 1344.7,379 1347.3,396 1349.1,419 1349.5,441 1348.2,449 1345.5,457 1341.7,464.8 1337.7,470.8 1332.2,477 1325.7,482.7 1318.7,487.5 1310.7,491.6 1301.7,495.2 1292.7,497.8 1282.7,500 1254.7,504 1234.7,507.9 1212.7,511 1203.7,511.3 1195.7,510.7 1177.7,507.1 1167.8,504 1157.9,500 1147.7,495 1137.2,489 1116.4,475 1107.1,467 1100.5,460 1095.7,454 1089.9,445 1085.7,436 1083.1,428 1081.9,422 1081.2,414 1081.8,405 1083.2,398 1085.1,392 1087.3,387 1090.7,380.9 1094.8,375 1104,365 1113.7,357.2 1146.7,342 1158.7,334.9 1169.7,329.1 1191.7,319.4 1199.7,316.7 1207.7,314.8 1221.7,312.6 1229.7,312" stroke="#ffd549"/>
<path d="M1245.9,317 1260.7,316.4 1274.7,317 1286.7,319 1295.7,321.4 1304.7,325.3 1311.9,330 1317.7,335.2 1324.3,343 1329.9,352 1334.2,361 1337.4,370 1339.7,379 1340.9,388 1344.6,432 1345.2,449 1343.7,454.5 1340.4,462 1336.7,468 1331.8,474 1325.7,479.7 1319.7,484.2 1312.7,488.2 1304.7,491.7 1294.7,495 1285.7,497 1274.7,498.7 1220.7,505 1206.7,505.2 1197.7,504.5 1186.7,502.3 1176.6,499 1166.9,495 1158.9,491 1150.5,486 1141.8,480 1134.3,474 1126.7,467 1118.4,458 1113.1,451 1109.3,445 1105.2,436 1103.3,430 1101.9,423 1101.4,418 1101.7,410 1103.3,401 1105,396 1106.7,392 1110.3,387 1117.7,379.1 1123.5,374 1139.7,362.1 1157.7,347.8 1176,335 1184.1,330 1194.7,324.9 1203.7,322 1217.7,319.4 1245.9,317" stroke="#ffbf3f"/>
<path d="M1251.2,323 1264.6,324 1271.5,326 1272.7,327.6 1274.7,328.6 1287.7,329.6 1295.7,332.1 1300.7,334.2 1308.3,339 1313.7,344 1316.8,348 1319.2,352 1320.9,356 1322.3,361 1322.1,366 1322.9,375 1327.7,403.4 1331.5,419 1332.6,426 1335.7,434 1338.2,445 1339.3,456 1338.6,460 1334.5,467 1330.4,472 1324.7,477.6 1318.9,482 1311.7,486.2 1304.7,489.3 1296.7,492.1 1288.7,494.1 1278.7,495.7 1266.4,497 1225.7,500.2 1217.7,500.5 1208.7,499.9 1195.7,497.9 1187.7,495.8 1180.7,493.2 1166.6,486 1152.4,476 1140.8,465 1135.1,458 1131.6,453 1125.4,441 1123.6,436 1121.8,428 1121.3,423 1121.5,417 1122.7,410 1124.4,405 1126.6,400 1131.4,392 1149.8,370 1171,348 1177.9,342 1184.7,337.1 1190.7,334 1203.7,329.1 1208.7,328.3 1218.7,328.3 1234.7,324.6 1251.2,323M1285.7,393.9 1280.7,396.6 1275.7,400.4 1271.1,405 1267.3,410 1264,416 1262.8,420 1263.3,423 1265.2,425 1267.7,426.2 1271.7,427.2 1276.7,427.1 1280.7,426.1 1286.7,423 1290.1,420 1292.5,417 1294.5,413 1295.8,409 1296.2,404 1295.7,400 1293.7,395.6 1291.7,393.7 1288.7,393.1 1285.7,393.9" stroke="#ffa53a"/>
<path d="M1226.6,333 1230.7,332.7 1234.7,333.2 1238.5,335 1240.4,337 1241.9,339 1243.3,344 1248,352 1256.3,369 1256.4,371 1255.4,373 1246.7,382.8 1241.8,390 1239.7,394.9 1238.8,400 1239.7,407 1242.7,413.9 1247.2,420 1253,425 1260.8,429 1265.7,430.3 1271.7,430.8 1276.7,430.3 1281.7,429 1285.7,427.3 1289.3,425 1293.7,421 1297.3,416 1299.6,411 1300.9,406 1301.3,401 1301,396 1300,391 1296.6,381 1296.7,379 1298.7,378.5 1301.7,379.8 1304.7,382.4 1307.4,386 1309.8,391 1312.1,398 1317.2,427 1319.2,433 1322,438 1323.3,444 1328.7,456.7 1329.7,462 1329.4,467 1326.7,472 1322.7,476.3 1315.7,481.4 1306.7,486 1297.7,489 1287.7,491.1 1274.7,493 1252.7,495 1229.7,495.9 1216.7,496 1207.7,495.1 1198.6,493 1187.8,489 1179.7,485.2 1172.8,481 1166.1,476 1158.4,469 1152.3,462 1146.7,454 1142.1,445 1139.4,436 1138.4,427 1139.4,418 1141.6,410 1145.6,401 1150.4,392 1166.6,366 1170.7,360.2 1175.7,354.6 1184,348 1190.7,343.9 1194.7,342.6 1200.7,343.5 1201.7,343.3 1212.7,337.5 1220.7,334.5 1226.6,333" stroke="#ff862a"/>
<path d="M1216.8,343 1220.7,342.3 1223.7,342.3 1225.7,342.8 1227.4,344 1230.6,348 1235.4,359 1239.3,371 1239.7,375 1238.7,379 1235,387 1233.2,392 1232.6,396 1232.7,400 1234,405 1236.3,410 1240.2,416 1244.6,421 1250.6,426 1255.8,429 1261.7,431.3 1268.7,432.6 1275.7,432.5 1281.7,431.4 1287.7,429.2 1296.7,425 1298.7,425.1 1299.7,426 1304.4,438 1309.8,450 1310.9,454 1311,458 1312.6,462 1313.5,467 1313,471 1310.7,475 1309.7,476.3 1304.8,480 1296.7,483.9 1291.7,485.7 1278.7,489 1269.7,490.3 1256.7,491.4 1243.7,491.9 1221.7,491.9 1210.7,491 1203.7,489.6 1196.7,487.3 1190.7,484.6 1183.7,480.4 1177.8,476 1171.3,470 1166,464 1161.7,458 1158,451 1155.5,444 1153.9,436 1153.6,428 1154.1,422 1155.9,414 1161.3,401 1165.9,392 1174.7,377.3 1176.2,374 1181.7,366.7 1188.7,362.1 1194.8,356 1203.7,349.2 1212.7,344.4 1216.8,343" stroke="#ff6c1d"/>
<path d="M1213.1,352 1215.7,352.5 1217.7,353.5 1220.7,356.6 1221.6,359 1223.8,368 1224.2,372 1224.2,378 1223.2,391 1223.4,396 1225,402 1228.2,407 1244.1,423 1249.3,427 1254.4,430 1260.7,432.5 1267.7,434.1 1284.7,434.7 1287.4,436 1288.9,438 1295.4,454 1296.7,463 1295.1,469 1295.1,471 1293.3,475 1291.7,477 1287.7,480 1281.7,482.7 1274.6,485 1265.7,486.8 1255.9,488 1247.7,488.3 1225.7,487.9 1208.7,485.9 1202.7,484.5 1197.7,482.6 1191.7,479.5 1186.7,476.3 1181.5,472 1177.6,468 1173.5,463 1170.3,458 1166.9,451 1164.9,445 1163.6,437 1163.6,431 1164.7,423 1166.8,415 1171.7,403.6 1175.9,392 1177.7,388.1 1183.2,379 1190.7,368.5 1198.7,360.5 1203.7,356.5 1208.7,353.6 1213.1,352" stroke="#ff5717"/>
<path d="M1202.7,366 1203.7,365.5 1207.7,366.1 1210.3,368 1211.4,370 1213.8,398 1214.8,402 1216.7,406.6 1220.7,412 1225.7,415.5 1236.7,420 1247.7,427.8 1253.7,431.3 1261.7,434.5 1274.4,438 1276.2,439 1277.9,441 1283.3,458 1281.9,467 1279.7,471 1275.4,476 1269.7,479.9 1267.1,481 1260.7,482.6 1247.7,484 1238.7,483.9 1217.7,482.4 1210.7,481.3 1199.7,477.8 1190.7,472.8 1183.7,466.6 1177.4,458 1174.9,453 1173.2,448 1171.9,442 1171.4,436 1172,427 1175.9,410 1177.7,404.5 1181.7,395 1186.7,385.3 1194.7,373.6 1199.7,368.2 1202.7,366" stroke="#f64413"/>
<path d="M1195.4,392 1199.8,392 1201.4,395 1206,407 1209.7,413.6 1212.7,417.4 1217,421 1220.7,423.1 1225.7,424.8 1236.7,425.5 1240.7,426.5 1263.4,438 1266.2,440 1267.6,442 1268.3,444 1270.5,458 1269.6,463 1267.5,467 1264.3,471 1256.7,475.7 1248.7,477.9 1239.7,478.5 1230.7,477.8 1204.7,473.7 1200.6,472 1195.7,469 1191.9,466 1188,462 1182.7,454 1179.3,445 1178.4,437 1179.2,427 1180.9,418 1185.7,406.1 1190.7,397.9 1194.7,392.4 1195.4,392" stroke="#f13311"/>
<path d="M1191.7,432 1194.7,431.2 1197.7,432.6 1199.7,432.7 1203.7,431.2 1209.7,432.9 1212.7,432.7 1227.7,435.5 1234.7,435.7 1242.7,434.7 1245.7,435 1248.6,436 1253,439 1254.8,442 1255.7,447 1256.6,458 1254.1,462 1247.6,467 1243.7,468.4 1238.7,469.4 1230.7,469.4 1225.7,468.7 1218.8,467 1207.9,463 1203.7,460.9 1199.4,458 1195.3,454 1191.8,449 1190.1,445 1189.5,440 1189.8,436 1190.7,432.8 1191.7,432" stroke="#eb210e"/>
</g>
</g>
<circle cx="1267.9" cy="400.8" r="32.6" fill="none" stroke="#ffb040" stroke-opacity="0.55" stroke-width="2.2"/>
<circle cx="1267.9" cy="400.8" r="30.4" fill="none" stroke="#3a2608" stroke-opacity="0.85" stroke-width="1.5" stroke-dasharray="4.6 4.2" transform="rotate(-60 1267.9 400.8)"/>
<path d="M1251.5,401.4 H1284.5" stroke="#000" stroke-width="3.3" fill="none"/>
<path d="M1292.0,401.4 l-10,-4.7 l2,4.7 l-2,4.7 Z" fill="#000"/>
<path d="M1268.7,377.2 A24.2,24.2 0 0 0 1260.3,424.3" stroke="#000" stroke-width="3.7" fill="none"/>
<path transform="translate(1268.6,425.9) rotate(13)" d="M0.5,0 l-10.6,-4.8 l2.1,4.8 l-2.1,4.8 Z" fill="#000"/>
<rect x="847.7" y="220" width="633.2" height="352.8" fill="none" stroke="#000" stroke-width="1.8"/>
<path d="M847.7,572.8 v-7.2 M847.7,220 v7.2M953.2,572.8 v-7.2 M953.2,220 v7.2M1058.8,572.8 v-7.2 M1058.8,220 v7.2M1164.3,572.8 v-7.2 M1164.3,220 v7.2M1269.8,572.8 v-7.2 M1269.8,220 v7.2M1375.4,572.8 v-7.2 M1375.4,220 v7.2M1480.9,572.8 v-7.2 M1480.9,220 v7.2M900.5,572.8 v-3.5 M900.5,220 v3.5M1006.0,572.8 v-3.5 M1006.0,220 v3.5M1111.5,572.8 v-3.5 M1111.5,220 v3.5M1217.1,572.8 v-3.5 M1217.1,220 v3.5M1322.6,572.8 v-3.5 M1322.6,220 v3.5M1428.1,572.8 v-3.5 M1428.1,220 v3.5M847.7,220.0 h7.2 M1480.9,220.0 h-7.2M847.7,308.2 h7.2 M1480.9,308.2 h-7.2M847.7,396.4 h7.2 M1480.9,396.4 h-7.2M847.7,484.6 h7.2 M1480.9,484.6 h-7.2M847.7,572.8 h7.2 M1480.9,572.8 h-7.2M847.7,264.1 h3.5 M1480.9,264.1 h-3.5M847.7,352.3 h3.5 M1480.9,352.3 h-3.5M847.7,440.5 h3.5 M1480.9,440.5 h-3.5M847.7,528.7 h3.5 M1480.9,528.7 h-3.5" stroke="#000" stroke-width="1.5" fill="none"/>
<text x="847.7" y="602.7" text-anchor="middle" font-size="29" fill="#000">-24</text>
<text x="953.233" y="602.7" text-anchor="middle" font-size="29" fill="#000">-18</text>
<text x="1058.77" y="602.7" text-anchor="middle" font-size="29" fill="#000">-12</text>
<text x="1164.3" y="602.7" text-anchor="middle" font-size="29" fill="#000">-6</text>
<text x="1269.83" y="602.7" text-anchor="middle" font-size="29" fill="#000">0</text>
<text x="1375.37" y="602.7" text-anchor="middle" font-size="29" fill="#000">6</text>
<text x="1480.9" y="602.7" text-anchor="middle" font-size="29" fill="#000">12</text>
<text x="839.5" y="228.7" text-anchor="end" font-size="29" fill="#000">10</text>
<text x="839.5" y="316.9" text-anchor="end" font-size="29" fill="#000">5</text>
<text x="839.5" y="405.1" text-anchor="end" font-size="29" fill="#000">0</text>
<text x="839.5" y="493.3" text-anchor="end" font-size="29" fill="#000">-5</text>
<text x="839.5" y="581.5" text-anchor="end" font-size="29" fill="#000">-10</text>
<text x="765" y="228.7" text-anchor="start" font-size="29" fill="#000">(c)</text>
<text x="1164.3" y="647.8" text-anchor="middle" font-size="29" fill="#000">X(mm)</text>
<text transform="translate(796,397.5) rotate(-90)" text-anchor="middle" font-size="29">Y(mm)</text>
<text x="1458" y="257.7" text-anchor="end" font-size="28.4" fill="#fff">Magnesium side</text>
<text x="1455" y="554.4" text-anchor="end" font-size="28.4" fill="#fff">Aluminum side</text>
<clipPath id="ac"><rect x="849.1" y="14.2" width="631.5" height="100.1"/></clipPath>
<g clip-path="url(#ac)">
<g filter="url(#bl)">
<rect x="843.1" y="8.2" width="643.5" height="112.1" fill="#2d97e1"/>
<path fill="#279fdc" d="M843.1,8.2 1480,8.2 1480,121.2 843.1,121.2Z"/>
<path fill="#23a8d5" d="M843.1,8.2 1473.2,8.2 1473.2,121.2 843.1,121.2Z"/>
<path fill="#20b1cb" d="M843.1,8.2 1466.7,8.2 1466.7,121.2 843.1,121.2Z"/>
<path fill="#1db9bf" d="M843.1,8.2 1460.1,8.2 1460.1,121.2 843.1,121.2Z"/>
<path fill="#19c2b3" d="M843.1,8.2 1452.7,8.2 1452.7,121.2 843.1,121.2Z"/>
<path fill="#1bcaab" d="M858.6,8.2 1443.1,8.2 1443.1,121.2 858.6,121.2Z"/>
<path fill="#1ed1a2" d="M874.6,8.2 1430.7,8.2 1430.4,64.2 1430.7,121.2 874.6,121.2Z"/>
<path fill="#22d897" d="M888.2,8.2 1417.1,8.2 1417.1,121.2 888.2,121.2Z"/>
<path fill="#2cdd85" d="M899.9,8.2 1403.8,8.2 1404.7,64.2 1403.2,121.2 899.9,121.2Z"/>
<path fill="#37e173" d="M910.5,8.2 1389.9,8.2 1392.7,64.2 1389.4,121.2 910.5,121.2Z"/>
<path fill="#49e265" d="M920.5,8.2 1374.1,8.2 1376.6,21.2 1378.3,32.2 1380.1,47.2 1381.6,63.2 1380.2,83.2 1376.8,121.2 920.2,121.2Z"/>
<path fill="#5be457" d="M929.8,8.2 1359.2,8.2 1367.3,41.2 1370.1,55.2 1371.4,64.2 1369.8,81.2 1365.3,121.2 929.1,121.2 929.7,64.2Z"/>
<path fill="#6be44c" d="M938.2,8.2 1351.5,8.2 1354.1,26.2 1361.3,60.2 1361.9,64.2 1361.7,68.2 1356.1,121.2 937.6,121.2Z"/>
<path fill="#7ae442" d="M945.6,8.2 1346.7,8.2 1349.1,36 1353.3,65.2 1351.2,94.2 1349.7,121.2 945.9,121.2 945.5,64.2Z"/>
<path fill="#88e439" d="M952.2,8.2 1342.6,8.2 1343.8,37.2 1345.7,65.2 1344.1,96.9 1342.3,121.2 954.1,121.2 951.8,65.2Z"/>
<path fill="#95e434" d="M958.1,8.2 1339,8.2 1339.5,62.2 1339.3,67.2 1337.7,83.2 1335.8,96.2 1333.4,108.2 1330,121.2 962,121.2 959.3,94.2 957.4,65.2Z"/>
<path fill="#a1e131" d="M963.5,8.2 1335.9,8.2 1335.2,40.2 1334.1,63.2 1331.6,81.2 1328.3,97.2 1325.9,106.2 1321,121.2 969.5,121.2 965.5,92.2 962.7,65.2Z"/>
<path fill="#aedc31" d="M968.4,8.2 1333.4,8.2 1331.9,39.2 1330,59.2 1327.2,75.2 1324.3,87.2 1321.2,97.2 1313,121.2 976.4,121.2 970.9,86.2 968.2,65.2Z"/>
<path fill="#b9d731" d="M972.9,8.2 1331.3,8.2 1330.4,24.2 1329.2,38.2 1327.9,49.2 1326.1,58 1321.1,74.9 1317.1,86.7 1312.1,100 1303.3,121.2 982.4,121.2 979.9,102.2 974,64.2Z"/>
<path fill="#c3d033" d="M976.9,8.2 1329.5,8.2 1328.5,22.2 1327.1,35.2 1325.2,46.2 1323.3,53.2 1321.1,58.4 1316.5,66.2 1307.1,89.2 1301.1,102.2 1293.3,118.2 1292.1,121.2 988.5,121.2 984.8,90.2 979.6,54.2 978.1,34.2Z"/>
<path fill="#cdc935" d="M980.4,8.2 1327.8,8.2 1326.6,21.2 1324.8,33.2 1323,41.2 1320.3,49.2 1318.3,53.2 1316.1,56.4 1308.7,64.2 1307.3,66.2 1290.8,100.2 1279,121.2 997.1,121.2 994.9,112.2 993.1,102.1 988.3,65.2 985.4,53.2 983.7,43.2 981.8,27.2Z"/>
<path fill="#d6c136" d="M983.6,8.2 1326,8.2 1324.7,19.2 1322.7,30.2 1320.1,39 1317.1,45.8 1314.1,50.4 1311.1,53.8 1307.1,57.3 1299.3,63.2 1296.5,66.2 1282.1,94.2 1276.1,104.2 1266.8,118.2 1265.3,121.2 1007.4,121.2 1001.5,105.2 998.4,93.2 996.4,82.2 994,65.2 989.7,49.2 987,36.2 985,22.2Z"/>
<path fill="#ddb736" d="M986.6,8.2 1324.2,8.2 1322.6,18.2 1320.2,28.2 1317.7,35.2 1314.6,41.2 1311.1,45.8 1307.1,49.6 1301.1,54.3 1289.3,62.2 1286.2,65.2 1275.2,85.2 1260.1,109.1 1254.6,118.2 1253.2,121.2 1014.2,121.2 1012.1,113.9 1005,93.2 1002.2,83.2 998.5,64.2 994.3,50.2 990.8,35.2 988.3,21.2Z"/>
<path fill="#e4ad35" d="M989.5,8.2 1322.1,8.2 1320.5,16.2 1318.1,24.6 1315.1,31.8 1312.4,36.2 1308.1,41 1303.1,45.3 1282.2,59.2 1278.2,62.2 1275.3,65.2 1266.1,80.1 1247.1,109 1243.1,116.4 1241.3,121.2 1021.6,121.2 1017.1,109 1008.1,82.5 1005.9,75.2 1003.3,65.2 997.9,49.2 995.2,39.2 992.8,28.2 990.6,16.2Z"/>
<path fill="#e4a431" d="M992.3,8.2 1319.7,8.2 1318.1,15 1315.1,23.2 1312.1,28.6 1308.1,33.3 1304.1,37 1299.1,40.8 1281.9,51.2 1273,57.2 1266.4,62.2 1262.5,66.2 1247.1,87.2 1241.6,96.2 1239.1,101.3 1236.5,108.2 1234.2,116.2 1233.3,121.2 1040.1,121.2 1038.1,119.2 1031.1,114 1028.1,111.1 1024.1,105.3 1021.1,99.1 1009.2,66.2 1004.1,56 1000.9,47.2 998.6,39.2 996.2,29.2 993.6,16.2Z"/>
<path fill="#e49b2c" d="M995,8.2 1317.1,8.2 1315.1,14.6 1312.1,20.5 1308.1,25.6 1303.1,30.3 1296.1,35.3 1274.5,47.2 1254.4,60.2 1248.7,64.2 1244.1,69.2 1240.1,74.7 1237.1,79.8 1235,84.2 1232.8,90.2 1231.1,97.2 1230.1,103.3 1229.1,112.6 1228.6,121.2 1060.1,121.2 1057.8,119.2 1045.1,111.2 1039.1,106.5 1032.6,100.2 1027.7,93.2 1023.1,83.9 1016.2,66.2 1015.1,64.2 1011.1,59.1 1008.5,55.2 1006.1,50.6 1004.1,45.8 1001.6,38.2 999.1,29 996.5,17.2Z"/>
<path fill="#e4902a" d="M997.5,8.2 1313.9,8.2 1312.1,12.4 1308.1,17.9 1303.1,22.8 1298.1,26.6 1292.1,30 1272.6,39.2 1259.5,46.2 1235.2,60.2 1230.8,63.2 1228.9,65.2 1228,67.2 1227.5,69.2 1226.6,78.2 1226.1,94.4 1225.8,121.2 1075.9,121.2 1073.9,119.2 1070,116.2 1052.1,104.2 1046.1,99.7 1039.1,93.3 1034,87.2 1029.1,78.8 1023.1,65.2 1021.7,63.2 1016.1,57.3 1013.1,53.6 1010.1,49 1007.1,43.3 1004.3,36.2 1001.9,28.2 999.1,16.8Z"/>
<path fill="#e48528" d="M1000,8.2 1309,8.2 1307.1,11.2 1304.1,14.4 1300.1,17.7 1295.1,20.9 1288.1,24.2 1264.1,33.5 1240.1,44.9 1221.1,55.3 1216.1,58.9 1212.7,62.2 1211.6,64.2 1211.8,66.2 1218.5,78.2 1220.1,82.8 1221.1,87.5 1222.6,101.2 1223.5,121.2 1088.9,121.2 1086.4,118.2 1082.1,114.6 1050.1,91.1 1044.1,85.7 1039.1,80.1 1035.1,74.5 1029.4,64.2 1017.1,51.1 1013.5,46.2 1010.5,41.2 1007.2,34.2 1004.7,27.2 1001.9,17.2Z"/>
<path fill="#e37822" d="M1002.5,8.2 1301.7,8.2 1300.1,10.1 1298.1,11.7 1295.1,13.5 1291.1,15.3 1283.1,18 1266.1,22.8 1258.1,25.5 1238.6,33.2 1221.1,41.1 1216.1,44.3 1211.1,48.5 1206.1,53.5 1199.5,61.2 1197.9,64.2 1197.8,65.2 1198.4,67.2 1202.1,74.3 1213.5,94.2 1217.1,101.6 1219.1,108.6 1220.1,114.7 1220.7,121.2 1098.2,121.2 1097.3,119.2 1095.1,116.2 1088.1,109.1 1080.1,102.6 1057.1,85.3 1049.1,78.5 1044,73.2 1037.6,65.2 1028.1,56.3 1020.1,47.6 1014.1,39.3 1009.4,30.2 1005.1,18.6Z"/>
<path fill="#e26b1b" d="M1005.2,8.2 1286.9,8.2 1280.8,10.2 1264.1,13.3 1253.1,16.2 1240.2,20.2 1225.1,25.4 1218.1,28.4 1212.1,32.6 1206.1,38.5 1199.1,46.7 1186.9,62.2 1186,64.2 1185.9,66.2 1186.9,69.2 1190,76.2 1196.1,88.2 1210.1,112.3 1213.1,118.2 1214.2,121.2 1103.9,121.2 1102.4,116.2 1100.1,111.4 1097.1,107.3 1092.2,102.2 1084.1,95.3 1059.1,75.9 1046.2,64.2 1038.1,58.9 1034.1,55.9 1030.1,52.2 1025.1,46.8 1018.1,38 1013.1,29.7 1010.5,24.2 1008.1,18.2 1006.1,12.1Z"/>
<path fill="#de5f15" d="M1008.1,8.2 1235.8,8.2 1230.4,10.2 1219.1,13.4 1215.1,15.5 1210.1,19.4 1206.1,23.4 1201.1,29.3 1184.5,51.2 1175.6,62.2 1174.5,64.2 1174.4,67.2 1176,73.2 1178.7,81.2 1182.1,89.5 1188.2,101.2 1199.1,118.2 1200.6,121.2 1107.9,121.2 1106.4,114.2 1104.1,106.7 1102.1,102.2 1099.1,97.8 1096.1,94.8 1091.1,90.4 1060.5,66.2 1056.1,63.2 1039.1,53.6 1035.1,50.8 1032.1,48.1 1024.1,39.1 1020.1,33.8 1017.1,29.2 1012,19.2 1009.2,12.2Z"/>
<path fill="#d95410" d="M1011.2,8.2 1205.6,8.2 1179.7,44.2 1172.1,53.6 1164,62.2 1162.2,65.2 1162.1,68.2 1163.7,80.2 1165.4,89.2 1167.5,97.2 1169.6,103.2 1172.4,109.2 1179.8,121.2 1112.1,121.2 1109.8,109.2 1107.1,99.3 1104.1,92.2 1101.1,87.8 1097.1,84.2 1071.1,64.4 1066.1,61.6 1043.1,50 1038.1,47.1 1034.1,44 1031.1,41 1027.1,36.4 1019.7,26.2 1014.2,16.2 1012.1,11.2Z"/>
<path fill="#d44a0c" d="M1014.4,8.2 1194.4,8.2 1192.9,11.2 1182.4,27.2 1176.8,35.2 1171.1,42.6 1162.1,52.7 1157.1,57.4 1150.1,63.2 1148.5,65.2 1147.7,67.2 1146.1,78.2 1144,87.2 1141.4,94.2 1138.5,99.2 1135.1,102.7 1131.1,105.3 1126.1,107 1121.1,107.8 1119.1,107.6 1118.1,107.1 1116.1,104.4 1109,85.2 1106.2,80.2 1103.1,76.6 1100.1,74.4 1078.1,60.7 1070.1,56.6 1046.1,45.6 1040.1,42.4 1036.1,39.7 1033.1,37.1 1030.1,33.8 1023.1,24.6 1017.4,15.2 1015.4,11.2Z"/>
<path fill="#cf420a" d="M1017.9,8.2 1185.4,8.2 1184,11.2 1179.6,18.2 1170.1,31.9 1162.1,41.5 1154.4,49.2 1147.1,54.9 1140.1,59.2 1123.1,66.8 1120.1,67.8 1118.1,68 1116.1,67.8 1109.2,65.2 1098.1,62.3 1093.1,60.6 1072.1,50.6 1048.1,40.5 1039.1,35.9 1034.1,32.1 1028.9,26.2 1021.4,15.2 1019.1,11.2Z"/>
<path fill="#ca3908" d="M1021.7,8.2 1177.3,8.2 1175.8,11.2 1172.1,17 1163.1,29.2 1155.9,37.2 1148.1,44.2 1140.9,49.2 1133.1,53.1 1125.1,55.5 1121.1,56.1 1117.1,56.2 1112.1,56 1105.1,55.2 1099.1,54.2 1094.1,52.9 1088.1,50.6 1072.1,43.6 1051.1,35.6 1042.1,31.6 1037.1,28.7 1032.1,24 1025.5,15.2 1023,11.2Z"/>
<path fill="#c73106" d="M1025.7,8.2 1169.4,8.2 1168.5,10.2 1165.8,14.2 1158.1,24.2 1151.1,31.5 1144.1,37.5 1138.1,41.4 1131.1,44.7 1124.1,46.7 1117.1,47.4 1111.1,47.2 1103.1,46.4 1094.1,44.7 1088.1,42.8 1072.1,36.6 1055.1,30.8 1046.1,27.4 1039.1,24 1035.1,21.2 1029.9,15.2 1027.1,11.2Z"/>
<path fill="#c52a05" d="M1029.8,8.2 1161.5,8.2 1159,12.2 1152.1,20.3 1146.1,26.1 1140.1,30.7 1134.1,34.3 1128.1,36.8 1122.1,38.2 1116.1,38.6 1101.1,37.7 1093.1,36.4 1087.1,34.7 1072.1,29.6 1050.1,22.8 1042.1,19.6 1037.1,16.9 1035.1,15.2 1032.3,12.2Z"/>
<path fill="#c22204" d="M1034.8,8.2 1153,8.2 1151,11.2 1145.1,17.2 1140.1,21.3 1135.1,24.5 1130.1,27 1126.1,28.4 1121.1,29.5 1116.1,29.7 1098.1,29.1 1093.1,28.3 1088.1,27.2 1072.1,22.5 1055.1,18.2 1047.1,15.6 1039.1,12.2 1036.3,10.2Z"/>
<path fill="#c01b03" d="M1045.5,8.2 1143.4,8.2 1141.8,10.2 1138.1,13.3 1134.1,15.9 1130.1,17.9 1126.1,19.5 1122.1,20.4 1114.1,20.9 1098.1,20.8 1090.1,19.8 1055.1,11.8 1049.8,10.2Z"/>
<path fill="#bd1302" d="M1074.5,8.2 1129.9,8.2 1126.6,10.2 1121.1,11.7 1099.1,12.5 1093.1,12.2 1087.1,11.3 1081.5,10.2Z"/>
</g>
<g fill="none" stroke-opacity="0.6" stroke-width="1.6">
<path d="M1480.5,8.2 1480.5,121.2" stroke="#3dc3ff"/>
<path d="M1467.2,8.2 1467.2,121.2" stroke="#34d7ff"/>
<path d="M1453.4,8.2 1453.4,121.2" stroke="#2cebe8"/>
<path d="M1432,8.2 1432.1,121.2M873.1,121.2 873.1,8.2" stroke="#2dfdd1"/>
<path d="M1405.2,8.2 1406.1,64.2 1404.8,121.2M898.7,121.2 898.7,8.2" stroke="#39ffb6"/>
<path d="M1376.3,8.2 1380.1,33.4 1382.8,64.2 1378.3,121.2M919.1,121.2 919.3,8.2" stroke="#55ff8e"/>
<path d="M1352.3,8.2 1355.1,26.2 1363.1,64.2 1357.1,121.2M936.5,121.2 937.2,8.2" stroke="#7fff6d"/>
<path d="M1343.1,8.2 1344.5,37.2 1346.6,65.2 1343.8,121.2M952.9,121.2 950.9,65.2 951.3,8.2" stroke="#a2ff56"/>
<path d="M1336.3,8.2 1335.5,48.2 1334.5,67.2 1332.3,82.2 1329.6,96.2 1326.7,107.2 1322.2,121.2M968.4,121.2 964.5,92.2 961.9,65.2 962.7,8.2" stroke="#c1ff47"/>
<path d="M1331.6,8.2 1329.6,39.2 1326.7,58.2 1322.2,75.2 1319.1,84.6 1313.1,101.1 1305,121.2M981.5,121.2 973,64.2 972.2,8.2" stroke="#deff46"/>
<path d="M1328.1,8.2 1326.8,22.2 1325.1,34.2 1323.1,43.2 1321.1,49.1 1317.1,56.6 1309,66.2 1294.1,97.6 1281.5,121.2M995.2,121.2 992,103.2 987.2,66.2 984.6,54.2 983,44.2 981.2,28.2 979.8,8.2" stroke="#f6ff49"/>
<path d="M1324.5,8.2 1323.1,18 1321,27.2 1318.1,36 1315.1,42 1312.1,46.2 1307.1,51 1291.4,62.2 1288.2,65.2 1276.8,86.2 1261.1,111.2 1255.5,121.2M1013,121.2 1004.3,95.2 1001.6,85.2 997.6,64.2 993.3,49.2 990.1,35.2 987.7,21.2 986.1,8.2" stroke="#ffec4b"/>
<path d="M1320.2,8.2 1318.1,16.9 1315.4,24.2 1312.7,29.2 1309.1,33.8 1305.1,37.6 1300.1,41.5 1282.8,52.2 1274.1,58.2 1267.8,63.2 1265,66.2 1248.1,90 1243,98.2 1238.1,108.7 1236,115.2 1234.6,121.2M1036.1,121.2 1029.1,115.4 1026.1,112.1 1023.1,107.3 1020.1,100.7 1007.9,66.2 1003.1,55.6 1000.1,47 995.6,29.2 991.8,8.2" stroke="#ffd549"/>
<path d="M1314.6,8.2 1313.1,12.3 1309.1,18.3 1304.1,23.5 1299.1,27.4 1293.1,31 1275.1,39.8 1264.1,45.8 1239.4,60.2 1234.9,63.2 1232.8,65.2 1231.1,67.8 1229.8,71.2 1228,80.2 1227,95.2 1226.3,121.2M1072.8,121.2 1068.1,117 1051.6,106.2 1044.8,101.2 1038.1,95 1032.6,88.2 1028.1,80.2 1021.6,65.2 1012.1,53.9 1006.7,44.2 1004.1,37.7 1001.2,28.2 997,8.2" stroke="#ffbf3f"/>
<path d="M1303.6,8.2 1302,10.2 1299.1,12.6 1292.1,16.5 1259.1,27.5 1239.1,35.7 1222.1,43.7 1217.1,46.7 1213.1,49.9 1202.1,61.4 1200.6,64.2 1201.2,67.2 1214.8,91.2 1218.1,98.6 1220.1,107.8 1221.4,121.2M1096.4,121.2 1093.1,116.3 1086.1,109.7 1056.4,87.2 1048.2,80.2 1042.1,73.7 1034.9,64.2 1026.6,56.2 1019.3,48.2 1013.6,40.2 1009.1,31.5 1005.1,20.7 1002,8.2" stroke="#ffa53a"/>
<path d="M1247,8.2 1241.5,10.2 1220.1,16.3 1216.1,18.3 1212.1,21.1 1207.1,25.8 1201.1,32.7 1178.9,61.2 1177.1,64.2 1177.1,67.2 1178.5,72.2 1184.9,88.2 1190.8,99.2 1202.1,117.2 1204.1,121.2M1107,121.2 1105.1,113.1 1102.6,106.2 1100.1,101.9 1096,97.2 1089.1,91.2 1056.3,65.2 1037.1,53.6 1032.9,50.2 1028,45.2 1020.7,36.2 1015.5,28.2 1010.7,18.2 1007.4,8.2" stroke="#ff862a"/>
<path d="M1196.8,8.2 1195.2,11.2 1184.6,27.2 1173.8,42.2 1165.1,52.3 1153.5,63.2 1152,65.2 1151.4,68.2 1150.2,84.2 1148.8,95.2 1146.9,103.2 1144.1,109.3 1140.5,113.2 1136.1,115.5 1130.1,116.9 1122.1,117.5 1119.1,117.1 1117.1,115.2 1115.1,110.4 1108.6,89.2 1106.1,84 1103.1,79.9 1099.9,77.2 1077.6,62.2 1046.1,47 1036.1,41.1 1030.1,35.3 1022.4,25.2 1017.1,16.4 1013.6,8.2" stroke="#ff6c1d"/>
<path d="M1179.3,8.2 1174.1,17.1 1165.1,29.5 1157.1,38.7 1149.1,45.9 1141.1,51.5 1133.1,55.4 1125.1,57.7 1117.1,58.5 1105.1,57.3 1094.1,54.9 1072.1,45.3 1050.1,36.7 1041.1,32.5 1036.1,29.4 1031.1,24.4 1024.1,14.6 1020.7,8.2" stroke="#ff5717"/>
<path d="M1163.5,8.2 1160.4,13.2 1153.1,21.9 1147.1,27.8 1141.1,32.5 1135,36.2 1128.1,39.1 1122.1,40.5 1116.1,40.9 1101.1,39.9 1093.1,38.5 1049.1,24.1 1041.1,20.7 1036.1,17.6 1031.1,12.3 1028.7,8.2" stroke="#f64413"/>
<path d="M1146.2,8.2 1144.1,10.9 1140.1,14.3 1131.1,19.9 1123.1,22.7 1115.1,23.3 1099.1,23.1 1090.1,21.9 1053.1,13 1045.1,10.3 1041.4,8.2" stroke="#f13311"/>
</g>
<path d="M1100.5,12.2 L1227.7,12.2 L1220.0,100.2 L1112.0,100.2 Z" fill="#fff"/>
</g>
<rect x="849.1" y="14.2" width="631.5" height="100.1" fill="none" stroke="#000" stroke-width="1.8"/>
<path d="M849.1,114.3 v-7.2 M849.1,14.2 v7.2M912.2,114.3 v-7.2 M912.2,14.2 v7.2M975.4,114.3 v-7.2 M975.4,14.2 v7.2M1038.5,114.3 v-7.2 M1038.5,14.2 v7.2M1101.7,114.3 v-7.2 M1101.7,14.2 v7.2M1164.8,114.3 v-7.2 M1164.8,14.2 v7.2M1228.0,114.3 v-7.2 M1228.0,14.2 v7.2M1291.1,114.3 v-7.2 M1291.1,14.2 v7.2M1354.3,114.3 v-7.2 M1354.3,14.2 v7.2M1417.4,114.3 v-7.2 M1417.4,14.2 v7.2M1480.6,114.3 v-7.2 M1480.6,14.2 v7.2M880.7,114.3 v-3.5 M880.7,14.2 v3.5M943.8,114.3 v-3.5 M943.8,14.2 v3.5M1007.0,114.3 v-3.5 M1007.0,14.2 v3.5M1070.1,114.3 v-3.5 M1070.1,14.2 v3.5M1133.3,114.3 v-3.5 M1133.3,14.2 v3.5M1196.4,114.3 v-3.5 M1196.4,14.2 v3.5M1259.6,114.3 v-3.5 M1259.6,14.2 v3.5M1322.7,114.3 v-3.5 M1322.7,14.2 v3.5M1385.9,114.3 v-3.5 M1385.9,14.2 v3.5M1449.0,114.3 v-3.5 M1449.0,14.2 v3.5M849.1,14.2 h7.2 M1480.6,14.2 h-7.2M849.1,64.2 h7.2 M1480.6,64.2 h-7.2M849.1,114.3 h7.2 M1480.6,114.3 h-7.2" stroke="#000" stroke-width="1.5" fill="none"/>
<text x="849.1" y="145.5" text-anchor="middle" font-size="29" fill="#000">-10</text>
<text x="912.25" y="145.5" text-anchor="middle" font-size="29" fill="#000">-8</text>
<text x="975.4" y="145.5" text-anchor="middle" font-size="29" fill="#000">-6</text>
<text x="1038.55" y="145.5" text-anchor="middle" font-size="29" fill="#000">-4</text>
<text x="1101.7" y="145.5" text-anchor="middle" font-size="29" fill="#000">-2</text>
<text x="1164.85" y="145.5" text-anchor="middle" font-size="29" fill="#000">0</text>
<text x="1228" y="145.5" text-anchor="middle" font-size="29" fill="#000">2</text>
<text x="1291.15" y="145.5" text-anchor="middle" font-size="29" fill="#000">4</text>
<text x="1354.3" y="145.5" text-anchor="middle" font-size="29" fill="#000">6</text>
<text x="1417.45" y="145.5" text-anchor="middle" font-size="29" fill="#000">8</text>
<text x="1480.6" y="145.5" text-anchor="middle" font-size="29" fill="#000">10</text>
<text x="840.5" y="22.8" text-anchor="end" font-size="29" fill="#000">3.2</text>
<text x="840.9" y="123.6" text-anchor="end" font-size="29" fill="#000">0.0</text>
<text x="770" y="22.8" text-anchor="start" font-size="29" fill="#000">(a)</text>
<text x="1165.8" y="189.4" text-anchor="middle" font-size="29" fill="#000">Y(mm)</text>
<text transform="translate(795.8,68) rotate(-90)" text-anchor="middle" font-size="29">Z(mm)</text>
<text x="924" y="53.1" text-anchor="middle" font-size="32" fill="#fff">Aluminum</text>
<text x="920.5" y="91.7" text-anchor="middle" font-size="32" fill="#fff">side</text>
<text x="1394.3" y="49.2" text-anchor="middle" font-size="29.5" fill="#fff">Magnesium</text>
<text x="1399.6" y="84.4" text-anchor="middle" font-size="29.8" fill="#fff">side</text>
</svg>
</body></html>
